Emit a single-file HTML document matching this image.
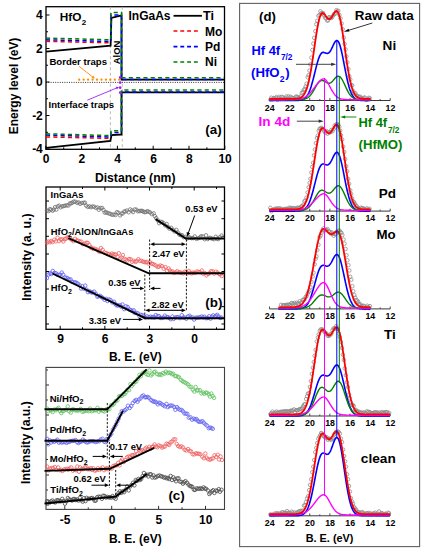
<!DOCTYPE html>
<html><head><meta charset="utf-8"><style>
html,body{margin:0;padding:0;background:#fff;width:426px;height:550px;overflow:hidden}
svg{display:block}
text{font-family:"Liberation Sans", sans-serif;font-weight:bold}
</style></head><body>
<svg width="426" height="550" viewBox="0 0 426 550">
<rect width="426" height="550" fill="#fff"/>
<rect x="46.00" y="6.70" width="178.50" height="142.60" fill="none" stroke="#000" stroke-width="1.3"/>
<line x1="46.00" y1="149.00" x2="49.50" y2="149.00" stroke="#000" stroke-width="1" />
<line x1="46.00" y1="132.25" x2="48.00" y2="132.25" stroke="#000" stroke-width="1" />
<line x1="46.00" y1="115.50" x2="49.50" y2="115.50" stroke="#000" stroke-width="1" />
<line x1="46.00" y1="98.75" x2="48.00" y2="98.75" stroke="#000" stroke-width="1" />
<line x1="46.00" y1="82.00" x2="49.50" y2="82.00" stroke="#000" stroke-width="1" />
<line x1="46.00" y1="65.25" x2="48.00" y2="65.25" stroke="#000" stroke-width="1" />
<line x1="46.00" y1="48.50" x2="49.50" y2="48.50" stroke="#000" stroke-width="1" />
<line x1="46.00" y1="31.75" x2="48.00" y2="31.75" stroke="#000" stroke-width="1" />
<line x1="46.00" y1="15.00" x2="49.50" y2="15.00" stroke="#000" stroke-width="1" />
<line x1="45.80" y1="149.30" x2="45.80" y2="145.80" stroke="#000" stroke-width="1" />
<line x1="63.70" y1="149.30" x2="63.70" y2="147.30" stroke="#000" stroke-width="1" />
<line x1="81.60" y1="149.30" x2="81.60" y2="145.80" stroke="#000" stroke-width="1" />
<line x1="99.50" y1="149.30" x2="99.50" y2="147.30" stroke="#000" stroke-width="1" />
<line x1="117.40" y1="149.30" x2="117.40" y2="145.80" stroke="#000" stroke-width="1" />
<line x1="135.30" y1="149.30" x2="135.30" y2="147.30" stroke="#000" stroke-width="1" />
<line x1="153.20" y1="149.30" x2="153.20" y2="145.80" stroke="#000" stroke-width="1" />
<line x1="171.10" y1="149.30" x2="171.10" y2="147.30" stroke="#000" stroke-width="1" />
<line x1="189.00" y1="149.30" x2="189.00" y2="145.80" stroke="#000" stroke-width="1" />
<line x1="206.90" y1="149.30" x2="206.90" y2="147.30" stroke="#000" stroke-width="1" />
<line x1="224.80" y1="149.30" x2="224.80" y2="145.80" stroke="#000" stroke-width="1" />
<text x="42.80" y="19.10" font-size="12" fill="#000" text-anchor="end" >4</text>
<text x="42.80" y="52.60" font-size="12" fill="#000" text-anchor="end" >2</text>
<text x="42.80" y="86.10" font-size="12" fill="#000" text-anchor="end" >0</text>
<text x="42.80" y="119.60" font-size="12" fill="#000" text-anchor="end" >-2</text>
<text x="42.80" y="153.10" font-size="12" fill="#000" text-anchor="end" >-4</text>
<text x="46.10" y="162.80" font-size="12" fill="#000" text-anchor="middle" >0</text>
<text x="81.90" y="162.80" font-size="12" fill="#000" text-anchor="middle" >2</text>
<text x="117.70" y="162.80" font-size="12" fill="#000" text-anchor="middle" >4</text>
<text x="153.50" y="162.80" font-size="12" fill="#000" text-anchor="middle" >6</text>
<text x="189.30" y="162.80" font-size="12" fill="#000" text-anchor="middle" >8</text>
<text x="225.10" y="162.80" font-size="12" fill="#000" text-anchor="middle" >10</text>
<text x="135.20" y="182.40" font-size="12.2" fill="#000" text-anchor="middle" >Distance (nm)</text>
<text x="0.00" y="0.00" font-size="12" fill="#000" text-anchor="middle" transform="translate(18.3,86) rotate(-90)">Energy level (eV)</text>
<line x1="110.40" y1="6.70" x2="110.40" y2="149.30" stroke="#aaa" stroke-width="0.8" stroke-dasharray="3,2.5"/>
<line x1="122.30" y1="6.70" x2="122.30" y2="149.30" stroke="#aaa" stroke-width="0.8" stroke-dasharray="3,2.5"/>
<line x1="46.00" y1="82.40" x2="224.50" y2="82.40" stroke="#000" stroke-width="0.8" stroke-dasharray="1,1.3"/>
<path d="M46.00,51.60 L110.60,45.70 L111.40,18.00 L120.50,15.60 L121.50,15.60 L121.50,79.70 L224.00,79.70" fill="none" stroke="#000" stroke-width="1.8" />
<path d="M46.00,147.80 L110.40,141.00 L111.50,135.20 L120.80,134.50 L121.50,134.50 L121.50,92.40 L224.00,92.40" fill="none" stroke="#000" stroke-width="1.8" />
<path d="M46.00,41.30 L111.00,42.80" fill="none" stroke="#ff0000" stroke-width="1.5" stroke-dasharray="4.1,3.2"/>
<path d="M46.00,136.90 L111.00,138.40" fill="none" stroke="#ff0000" stroke-width="1.5" stroke-dasharray="4.1,3.2"/>
<path d="M46.00,39.80 L111.00,41.50 L111.00,15.00 L121.50,15.00 L121.50,79.60 L224.00,79.60" fill="none" stroke="#0000ff" stroke-width="1.5" stroke-dasharray="4.1,3.2"/>
<path d="M46.00,135.10 L111.00,137.00 L111.00,132.50 L121.50,132.50 L121.50,92.00 L224.00,92.00" fill="none" stroke="#0000ff" stroke-width="1.5" stroke-dasharray="4.1,3.2"/>
<path d="M46.00,38.10 L111.00,39.80 L111.00,12.60 L121.50,12.60 L121.50,77.80 L224.00,77.80" fill="none" stroke="#008000" stroke-width="1.5" stroke-dasharray="4.1,3.2"/>
<path d="M46.00,133.80 L111.00,135.60 L111.00,130.70 L121.50,130.70 L121.50,89.90 L224.00,89.90" fill="none" stroke="#008000" stroke-width="1.5" stroke-dasharray="4.1,3.2"/>
<circle cx="79.20" cy="79.7" r="1.15" fill="#ff8c00"/>
<circle cx="83.65" cy="79.7" r="1.15" fill="#ff8c00"/>
<circle cx="88.10" cy="79.7" r="1.15" fill="#ff8c00"/>
<circle cx="92.55" cy="79.7" r="1.15" fill="#ff8c00"/>
<circle cx="97.00" cy="79.7" r="1.15" fill="#ff8c00"/>
<circle cx="101.45" cy="79.7" r="1.15" fill="#ff8c00"/>
<circle cx="105.90" cy="79.7" r="1.15" fill="#ff8c00"/>
<circle cx="110.35" cy="79.7" r="1.15" fill="#ff8c00"/>
<circle cx="114.80" cy="79.7" r="1.15" fill="#ff8c00"/>
<circle cx="119.25" cy="79.7" r="1.15" fill="#ff8c00"/>
<line x1="79.00" y1="66.30" x2="92.91" y2="77.13" stroke="#ff8c00" stroke-width="0.9" />
<path d="M94.80,78.60 L91.51,77.94 L93.35,75.57 Z" fill="#ff8c00"/>
<circle cx="120.2" cy="77.4" r="1.35" fill="#a020f0"/>
<circle cx="120.2" cy="82.6" r="1.35" fill="#a020f0"/>
<circle cx="120.2" cy="87.7" r="1.35" fill="#a020f0"/>
<circle cx="120.2" cy="92.6" r="1.35" fill="#a020f0"/>
<line x1="87.30" y1="100.20" x2="116.78" y2="87.92" stroke="#a020f0" stroke-width="0.9" />
<path d="M119.00,87.00 L116.81,89.54 L115.65,86.77 Z" fill="#a020f0"/>
<text x="49.40" y="64.50" font-size="9.6" fill="#000" text-anchor="start" >Border traps</text>
<text x="48.60" y="107.80" font-size="9.5" fill="#000" text-anchor="start" >Interface traps</text>
<text x="0.00" y="0.00" font-size="9.4" fill="#000" text-anchor="middle" transform="translate(120.4,52.5) rotate(-90)">AlON</text>
<text x="59.80" y="20.60" font-size="11.8" fill="#000" text-anchor="start" >HfO<tspan font-size="8" dx="0.3" dy="4.2">2</tspan></text>
<text x="128.50" y="20.40" font-size="12" fill="#000" text-anchor="start" >InGaAs</text>
<line x1="173.50" y1="15.80" x2="201.90" y2="15.80" stroke="#000" stroke-width="1.8" />
<line x1="173.50" y1="31.00" x2="197.80" y2="31.00" stroke="#ff0000" stroke-width="1.7" stroke-dasharray="3.9,2.9"/>
<line x1="173.50" y1="46.60" x2="197.80" y2="46.60" stroke="#0000ff" stroke-width="1.7" stroke-dasharray="3.9,2.9"/>
<line x1="173.50" y1="62.00" x2="197.80" y2="62.00" stroke="#008000" stroke-width="1.7" stroke-dasharray="3.9,2.9"/>
<text x="203.00" y="20.30" font-size="12.6" fill="#000" text-anchor="start" >Ti</text>
<text x="205.00" y="35.80" font-size="12" fill="#000" text-anchor="start" >Mo</text>
<text x="205.00" y="50.90" font-size="12" fill="#000" text-anchor="start" >Pd</text>
<text x="205.00" y="65.70" font-size="12" fill="#000" text-anchor="start" >Ni</text>
<text x="205.30" y="133.90" font-size="13.4" fill="#000" text-anchor="start" >(a)</text>
<rect x="46.00" y="187.00" width="178.50" height="142.30" fill="none" stroke="#000" stroke-width="1.3"/>
<line x1="60.19" y1="329.30" x2="60.19" y2="325.80" stroke="#000" stroke-width="1" />
<line x1="60.19" y1="187.00" x2="60.19" y2="190.50" stroke="#000" stroke-width="1" />
<line x1="82.52" y1="329.30" x2="82.52" y2="327.30" stroke="#000" stroke-width="1" />
<line x1="82.52" y1="187.00" x2="82.52" y2="189.00" stroke="#000" stroke-width="1" />
<line x1="104.86" y1="329.30" x2="104.86" y2="325.80" stroke="#000" stroke-width="1" />
<line x1="104.86" y1="187.00" x2="104.86" y2="190.50" stroke="#000" stroke-width="1" />
<line x1="127.19" y1="329.30" x2="127.19" y2="327.30" stroke="#000" stroke-width="1" />
<line x1="127.19" y1="187.00" x2="127.19" y2="189.00" stroke="#000" stroke-width="1" />
<line x1="149.53" y1="329.30" x2="149.53" y2="325.80" stroke="#000" stroke-width="1" />
<line x1="149.53" y1="187.00" x2="149.53" y2="190.50" stroke="#000" stroke-width="1" />
<line x1="171.86" y1="329.30" x2="171.86" y2="327.30" stroke="#000" stroke-width="1" />
<line x1="171.86" y1="187.00" x2="171.86" y2="189.00" stroke="#000" stroke-width="1" />
<line x1="194.20" y1="329.30" x2="194.20" y2="325.80" stroke="#000" stroke-width="1" />
<line x1="194.20" y1="187.00" x2="194.20" y2="190.50" stroke="#000" stroke-width="1" />
<line x1="216.53" y1="329.30" x2="216.53" y2="327.30" stroke="#000" stroke-width="1" />
<line x1="216.53" y1="187.00" x2="216.53" y2="189.00" stroke="#000" stroke-width="1" />
<line x1="46.00" y1="201.00" x2="49.00" y2="201.00" stroke="#000" stroke-width="1" />
<line x1="224.50" y1="201.00" x2="221.50" y2="201.00" stroke="#000" stroke-width="1" />
<line x1="46.00" y1="218.70" x2="49.00" y2="218.70" stroke="#000" stroke-width="1" />
<line x1="224.50" y1="218.70" x2="221.50" y2="218.70" stroke="#000" stroke-width="1" />
<line x1="46.00" y1="236.30" x2="49.00" y2="236.30" stroke="#000" stroke-width="1" />
<line x1="224.50" y1="236.30" x2="221.50" y2="236.30" stroke="#000" stroke-width="1" />
<line x1="46.00" y1="254.00" x2="49.00" y2="254.00" stroke="#000" stroke-width="1" />
<line x1="224.50" y1="254.00" x2="221.50" y2="254.00" stroke="#000" stroke-width="1" />
<line x1="46.00" y1="271.50" x2="49.00" y2="271.50" stroke="#000" stroke-width="1" />
<line x1="224.50" y1="271.50" x2="221.50" y2="271.50" stroke="#000" stroke-width="1" />
<line x1="46.00" y1="289.00" x2="49.00" y2="289.00" stroke="#000" stroke-width="1" />
<line x1="224.50" y1="289.00" x2="221.50" y2="289.00" stroke="#000" stroke-width="1" />
<line x1="46.00" y1="306.60" x2="49.00" y2="306.60" stroke="#000" stroke-width="1" />
<line x1="224.50" y1="306.60" x2="221.50" y2="306.60" stroke="#000" stroke-width="1" />
<line x1="46.00" y1="324.00" x2="49.00" y2="324.00" stroke="#000" stroke-width="1" />
<line x1="224.50" y1="324.00" x2="221.50" y2="324.00" stroke="#000" stroke-width="1" />
<text x="60.49" y="343.00" font-size="12" fill="#000" text-anchor="middle" >9</text>
<text x="105.16" y="343.00" font-size="12" fill="#000" text-anchor="middle" >6</text>
<text x="149.83" y="343.00" font-size="12" fill="#000" text-anchor="middle" >3</text>
<text x="194.50" y="343.00" font-size="12" fill="#000" text-anchor="middle" >0</text>
<text x="135.30" y="361.00" font-size="12" fill="#000" text-anchor="middle" >B. E. (eV)</text>
<text x="0.00" y="0.00" font-size="12.4" fill="#000" text-anchor="middle" transform="translate(30.6,257) rotate(-90)">Intensity (a. u.)</text>
<g fill="none" stroke="#707070" stroke-width="0.8"><circle cx="47.00" cy="210.58" r="1.75"/><circle cx="48.59" cy="211.06" r="1.75"/><circle cx="49.83" cy="209.18" r="1.75"/><circle cx="51.07" cy="209.68" r="1.75"/><circle cx="52.57" cy="210.70" r="1.75"/><circle cx="53.82" cy="209.55" r="1.75"/><circle cx="55.07" cy="207.15" r="1.75"/><circle cx="56.34" cy="209.62" r="1.75"/><circle cx="57.68" cy="206.34" r="1.75"/><circle cx="59.22" cy="205.66" r="1.75"/><circle cx="60.66" cy="207.33" r="1.75"/><circle cx="62.38" cy="206.25" r="1.75"/><circle cx="63.75" cy="206.09" r="1.75"/><circle cx="65.14" cy="205.62" r="1.75"/><circle cx="66.83" cy="205.30" r="1.75"/><circle cx="68.41" cy="205.54" r="1.75"/><circle cx="69.83" cy="203.43" r="1.75"/><circle cx="71.07" cy="203.33" r="1.75"/><circle cx="72.39" cy="202.56" r="1.75"/><circle cx="73.78" cy="201.64" r="1.75"/><circle cx="75.33" cy="201.70" r="1.75"/><circle cx="77.01" cy="202.75" r="1.75"/><circle cx="78.63" cy="202.43" r="1.75"/><circle cx="80.14" cy="203.83" r="1.75"/><circle cx="81.87" cy="202.95" r="1.75"/><circle cx="83.66" cy="202.87" r="1.75"/><circle cx="84.93" cy="202.65" r="1.75"/><circle cx="86.22" cy="205.68" r="1.75"/><circle cx="87.71" cy="206.92" r="1.75"/><circle cx="89.37" cy="206.37" r="1.75"/><circle cx="90.91" cy="207.23" r="1.75"/><circle cx="92.53" cy="206.50" r="1.75"/><circle cx="94.09" cy="206.70" r="1.75"/><circle cx="95.79" cy="207.81" r="1.75"/><circle cx="97.56" cy="207.44" r="1.75"/><circle cx="98.79" cy="209.76" r="1.75"/><circle cx="100.42" cy="207.99" r="1.75"/><circle cx="102.11" cy="207.93" r="1.75"/><circle cx="103.48" cy="209.95" r="1.75"/><circle cx="104.69" cy="212.64" r="1.75"/><circle cx="106.17" cy="212.29" r="1.75"/><circle cx="107.41" cy="212.88" r="1.75"/><circle cx="109.07" cy="213.49" r="1.75"/><circle cx="110.50" cy="213.96" r="1.75"/><circle cx="112.22" cy="214.81" r="1.75"/><circle cx="113.75" cy="214.48" r="1.75"/><circle cx="115.48" cy="214.99" r="1.75"/><circle cx="116.85" cy="212.20" r="1.75"/><circle cx="118.30" cy="212.76" r="1.75"/><circle cx="120.07" cy="215.40" r="1.75"/><circle cx="121.37" cy="213.58" r="1.75"/><circle cx="122.71" cy="213.50" r="1.75"/><circle cx="124.20" cy="211.58" r="1.75"/><circle cx="125.40" cy="211.47" r="1.75"/><circle cx="126.85" cy="210.55" r="1.75"/><circle cx="128.62" cy="212.25" r="1.75"/><circle cx="130.24" cy="209.41" r="1.75"/><circle cx="131.84" cy="210.50" r="1.75"/><circle cx="133.07" cy="212.05" r="1.75"/><circle cx="134.80" cy="209.40" r="1.75"/><circle cx="136.48" cy="209.70" r="1.75"/><circle cx="137.74" cy="211.28" r="1.75"/><circle cx="139.32" cy="211.03" r="1.75"/><circle cx="140.65" cy="210.97" r="1.75"/><circle cx="141.94" cy="210.78" r="1.75"/><circle cx="143.14" cy="211.43" r="1.75"/><circle cx="144.43" cy="212.12" r="1.75"/><circle cx="145.65" cy="212.06" r="1.75"/><circle cx="147.37" cy="211.18" r="1.75"/><circle cx="148.73" cy="211.75" r="1.75"/><circle cx="150.13" cy="212.48" r="1.75"/><circle cx="151.84" cy="214.12" r="1.75"/><circle cx="153.64" cy="213.34" r="1.75"/><circle cx="154.89" cy="216.18" r="1.75"/><circle cx="156.15" cy="218.12" r="1.75"/><circle cx="157.85" cy="220.39" r="1.75"/><circle cx="159.15" cy="223.17" r="1.75"/><circle cx="160.66" cy="221.85" r="1.75"/><circle cx="161.95" cy="222.03" r="1.75"/><circle cx="163.47" cy="223.17" r="1.75"/><circle cx="165.25" cy="225.48" r="1.75"/><circle cx="166.61" cy="223.94" r="1.75"/><circle cx="168.03" cy="227.07" r="1.75"/><circle cx="169.55" cy="228.73" r="1.75"/><circle cx="171.22" cy="227.78" r="1.75"/><circle cx="172.91" cy="229.91" r="1.75"/><circle cx="174.70" cy="231.56" r="1.75"/><circle cx="176.39" cy="229.84" r="1.75"/><circle cx="178.03" cy="232.67" r="1.75"/><circle cx="179.44" cy="234.68" r="1.75"/><circle cx="180.66" cy="235.02" r="1.75"/><circle cx="182.02" cy="235.16" r="1.75"/><circle cx="183.63" cy="237.18" r="1.75"/><circle cx="185.40" cy="236.82" r="1.75"/><circle cx="187.19" cy="238.41" r="1.75"/><circle cx="188.52" cy="237.12" r="1.75"/><circle cx="189.86" cy="237.67" r="1.75"/><circle cx="191.43" cy="238.13" r="1.75"/><circle cx="193.17" cy="238.12" r="1.75"/><circle cx="194.76" cy="236.39" r="1.75"/><circle cx="196.44" cy="238.85" r="1.75"/><circle cx="198.19" cy="238.29" r="1.75"/><circle cx="199.86" cy="237.48" r="1.75"/><circle cx="201.16" cy="236.23" r="1.75"/><circle cx="202.84" cy="236.51" r="1.75"/><circle cx="204.62" cy="239.22" r="1.75"/><circle cx="206.06" cy="235.34" r="1.75"/><circle cx="207.69" cy="239.07" r="1.75"/><circle cx="209.00" cy="237.96" r="1.75"/><circle cx="210.74" cy="237.99" r="1.75"/><circle cx="212.42" cy="238.79" r="1.75"/><circle cx="214.21" cy="239.19" r="1.75"/><circle cx="215.81" cy="236.74" r="1.75"/><circle cx="217.08" cy="238.69" r="1.75"/><circle cx="218.29" cy="239.14" r="1.75"/><circle cx="219.81" cy="237.29" r="1.75"/><circle cx="221.57" cy="235.55" r="1.75"/></g>
<path d="M155.60,219.10 L185.80,238.50 L225.00,238.50" fill="none" stroke="#000" stroke-width="1.9" />
<g fill="none" stroke="#f06060" stroke-width="0.8"><circle cx="47.00" cy="242.72" r="1.75"/><circle cx="48.33" cy="241.52" r="1.75"/><circle cx="49.67" cy="242.32" r="1.75"/><circle cx="51.22" cy="241.00" r="1.75"/><circle cx="52.50" cy="242.12" r="1.75"/><circle cx="54.25" cy="239.78" r="1.75"/><circle cx="55.80" cy="241.40" r="1.75"/><circle cx="57.54" cy="237.72" r="1.75"/><circle cx="59.04" cy="241.15" r="1.75"/><circle cx="60.56" cy="239.42" r="1.75"/><circle cx="62.02" cy="239.41" r="1.75"/><circle cx="63.33" cy="241.40" r="1.75"/><circle cx="64.64" cy="239.12" r="1.75"/><circle cx="66.12" cy="238.62" r="1.75"/><circle cx="67.52" cy="237.27" r="1.75"/><circle cx="69.03" cy="237.18" r="1.75"/><circle cx="70.29" cy="238.75" r="1.75"/><circle cx="71.83" cy="239.85" r="1.75"/><circle cx="73.49" cy="241.22" r="1.75"/><circle cx="75.00" cy="238.75" r="1.75"/><circle cx="76.74" cy="240.46" r="1.75"/><circle cx="78.21" cy="240.74" r="1.75"/><circle cx="79.72" cy="241.50" r="1.75"/><circle cx="81.33" cy="241.67" r="1.75"/><circle cx="82.82" cy="244.12" r="1.75"/><circle cx="84.58" cy="243.63" r="1.75"/><circle cx="86.35" cy="242.79" r="1.75"/><circle cx="87.71" cy="242.89" r="1.75"/><circle cx="89.41" cy="245.09" r="1.75"/><circle cx="90.69" cy="247.50" r="1.75"/><circle cx="91.93" cy="247.88" r="1.75"/><circle cx="93.28" cy="249.03" r="1.75"/><circle cx="94.95" cy="248.78" r="1.75"/><circle cx="96.69" cy="249.64" r="1.75"/><circle cx="98.28" cy="250.67" r="1.75"/><circle cx="99.57" cy="251.91" r="1.75"/><circle cx="100.90" cy="248.03" r="1.75"/><circle cx="102.67" cy="249.76" r="1.75"/><circle cx="104.47" cy="252.45" r="1.75"/><circle cx="106.17" cy="253.01" r="1.75"/><circle cx="107.68" cy="254.05" r="1.75"/><circle cx="109.08" cy="253.90" r="1.75"/><circle cx="110.71" cy="255.22" r="1.75"/><circle cx="111.92" cy="253.46" r="1.75"/><circle cx="113.14" cy="254.54" r="1.75"/><circle cx="114.53" cy="254.29" r="1.75"/><circle cx="115.77" cy="254.61" r="1.75"/><circle cx="117.56" cy="256.82" r="1.75"/><circle cx="118.83" cy="253.25" r="1.75"/><circle cx="120.19" cy="258.72" r="1.75"/><circle cx="121.55" cy="257.54" r="1.75"/><circle cx="122.83" cy="255.01" r="1.75"/><circle cx="124.52" cy="258.99" r="1.75"/><circle cx="125.87" cy="259.62" r="1.75"/><circle cx="127.41" cy="260.53" r="1.75"/><circle cx="129.04" cy="259.05" r="1.75"/><circle cx="130.65" cy="259.23" r="1.75"/><circle cx="132.10" cy="261.81" r="1.75"/><circle cx="133.68" cy="260.78" r="1.75"/><circle cx="135.36" cy="261.86" r="1.75"/><circle cx="136.60" cy="261.22" r="1.75"/><circle cx="138.32" cy="259.28" r="1.75"/><circle cx="139.85" cy="260.90" r="1.75"/><circle cx="141.61" cy="260.82" r="1.75"/><circle cx="143.13" cy="261.78" r="1.75"/><circle cx="144.47" cy="262.06" r="1.75"/><circle cx="145.70" cy="262.32" r="1.75"/><circle cx="147.02" cy="261.87" r="1.75"/><circle cx="148.68" cy="263.69" r="1.75"/><circle cx="150.05" cy="262.39" r="1.75"/><circle cx="151.46" cy="263.55" r="1.75"/><circle cx="152.67" cy="263.93" r="1.75"/><circle cx="154.31" cy="264.73" r="1.75"/><circle cx="155.84" cy="265.57" r="1.75"/><circle cx="157.60" cy="266.96" r="1.75"/><circle cx="158.86" cy="266.68" r="1.75"/><circle cx="160.36" cy="265.52" r="1.75"/><circle cx="162.06" cy="266.17" r="1.75"/><circle cx="163.68" cy="268.74" r="1.75"/><circle cx="165.46" cy="267.15" r="1.75"/><circle cx="167.09" cy="270.79" r="1.75"/><circle cx="168.67" cy="268.47" r="1.75"/><circle cx="169.90" cy="270.39" r="1.75"/><circle cx="171.18" cy="271.93" r="1.75"/><circle cx="172.53" cy="271.41" r="1.75"/><circle cx="173.83" cy="272.95" r="1.75"/><circle cx="175.55" cy="272.44" r="1.75"/><circle cx="177.16" cy="271.23" r="1.75"/><circle cx="178.53" cy="272.40" r="1.75"/><circle cx="180.01" cy="272.36" r="1.75"/><circle cx="181.37" cy="272.85" r="1.75"/><circle cx="183.14" cy="273.39" r="1.75"/><circle cx="184.49" cy="271.75" r="1.75"/><circle cx="186.27" cy="271.75" r="1.75"/><circle cx="187.47" cy="273.31" r="1.75"/><circle cx="188.90" cy="270.94" r="1.75"/><circle cx="190.22" cy="272.62" r="1.75"/><circle cx="191.72" cy="273.41" r="1.75"/><circle cx="192.98" cy="272.55" r="1.75"/><circle cx="194.42" cy="272.84" r="1.75"/><circle cx="195.80" cy="272.72" r="1.75"/><circle cx="197.14" cy="271.44" r="1.75"/><circle cx="198.79" cy="272.03" r="1.75"/><circle cx="200.38" cy="272.33" r="1.75"/><circle cx="201.82" cy="270.51" r="1.75"/><circle cx="203.21" cy="273.66" r="1.75"/><circle cx="204.85" cy="273.02" r="1.75"/><circle cx="206.43" cy="275.38" r="1.75"/><circle cx="208.17" cy="273.92" r="1.75"/><circle cx="209.74" cy="273.18" r="1.75"/><circle cx="211.03" cy="271.30" r="1.75"/><circle cx="212.54" cy="271.31" r="1.75"/><circle cx="214.22" cy="273.63" r="1.75"/><circle cx="215.92" cy="271.61" r="1.75"/><circle cx="217.53" cy="272.63" r="1.75"/><circle cx="219.15" cy="274.05" r="1.75"/><circle cx="220.43" cy="274.40" r="1.75"/><circle cx="221.84" cy="275.99" r="1.75"/></g>
<path d="M68.30,238.10 L148.80,273.30 L225.00,273.30" fill="none" stroke="#000" stroke-width="1.9" />
<g fill="none" stroke="#6060f0" stroke-width="0.8"><circle cx="47.00" cy="278.03" r="1.75"/><circle cx="48.58" cy="274.39" r="1.75"/><circle cx="50.07" cy="273.25" r="1.75"/><circle cx="51.27" cy="274.06" r="1.75"/><circle cx="52.77" cy="270.94" r="1.75"/><circle cx="54.30" cy="272.91" r="1.75"/><circle cx="55.94" cy="273.28" r="1.75"/><circle cx="57.29" cy="274.80" r="1.75"/><circle cx="58.93" cy="274.90" r="1.75"/><circle cx="60.25" cy="274.71" r="1.75"/><circle cx="61.75" cy="272.56" r="1.75"/><circle cx="63.18" cy="274.67" r="1.75"/><circle cx="64.84" cy="277.44" r="1.75"/><circle cx="66.41" cy="277.79" r="1.75"/><circle cx="67.69" cy="278.42" r="1.75"/><circle cx="69.05" cy="279.45" r="1.75"/><circle cx="70.59" cy="279.39" r="1.75"/><circle cx="71.79" cy="281.78" r="1.75"/><circle cx="73.40" cy="282.16" r="1.75"/><circle cx="75.01" cy="282.30" r="1.75"/><circle cx="76.52" cy="282.71" r="1.75"/><circle cx="78.00" cy="283.78" r="1.75"/><circle cx="79.74" cy="285.38" r="1.75"/><circle cx="81.06" cy="288.53" r="1.75"/><circle cx="82.27" cy="286.27" r="1.75"/><circle cx="83.74" cy="288.65" r="1.75"/><circle cx="85.21" cy="285.60" r="1.75"/><circle cx="86.57" cy="289.60" r="1.75"/><circle cx="87.90" cy="292.17" r="1.75"/><circle cx="89.45" cy="291.23" r="1.75"/><circle cx="91.22" cy="292.31" r="1.75"/><circle cx="92.50" cy="292.48" r="1.75"/><circle cx="94.23" cy="291.60" r="1.75"/><circle cx="95.85" cy="293.87" r="1.75"/><circle cx="97.35" cy="296.68" r="1.75"/><circle cx="98.56" cy="296.24" r="1.75"/><circle cx="100.03" cy="295.73" r="1.75"/><circle cx="101.41" cy="297.03" r="1.75"/><circle cx="102.80" cy="297.87" r="1.75"/><circle cx="104.51" cy="299.78" r="1.75"/><circle cx="106.21" cy="298.82" r="1.75"/><circle cx="107.48" cy="300.99" r="1.75"/><circle cx="109.22" cy="299.47" r="1.75"/><circle cx="110.60" cy="300.12" r="1.75"/><circle cx="112.40" cy="302.51" r="1.75"/><circle cx="113.95" cy="301.70" r="1.75"/><circle cx="115.32" cy="303.97" r="1.75"/><circle cx="116.54" cy="305.32" r="1.75"/><circle cx="117.92" cy="305.53" r="1.75"/><circle cx="119.68" cy="305.11" r="1.75"/><circle cx="121.18" cy="306.67" r="1.75"/><circle cx="122.50" cy="304.49" r="1.75"/><circle cx="124.23" cy="309.18" r="1.75"/><circle cx="125.91" cy="306.34" r="1.75"/><circle cx="127.68" cy="307.04" r="1.75"/><circle cx="129.21" cy="309.49" r="1.75"/><circle cx="130.85" cy="310.04" r="1.75"/><circle cx="132.32" cy="311.15" r="1.75"/><circle cx="133.69" cy="310.24" r="1.75"/><circle cx="134.92" cy="312.95" r="1.75"/><circle cx="136.40" cy="312.93" r="1.75"/><circle cx="137.81" cy="313.36" r="1.75"/><circle cx="139.60" cy="316.52" r="1.75"/><circle cx="140.95" cy="314.83" r="1.75"/><circle cx="142.49" cy="315.14" r="1.75"/><circle cx="143.92" cy="316.76" r="1.75"/><circle cx="145.25" cy="317.49" r="1.75"/><circle cx="146.99" cy="316.42" r="1.75"/><circle cx="148.73" cy="317.21" r="1.75"/><circle cx="150.53" cy="316.63" r="1.75"/><circle cx="151.85" cy="317.39" r="1.75"/><circle cx="153.10" cy="316.94" r="1.75"/><circle cx="154.45" cy="317.60" r="1.75"/><circle cx="155.80" cy="315.12" r="1.75"/><circle cx="157.45" cy="316.23" r="1.75"/><circle cx="158.90" cy="316.05" r="1.75"/><circle cx="160.32" cy="317.89" r="1.75"/><circle cx="161.73" cy="318.01" r="1.75"/><circle cx="163.51" cy="317.53" r="1.75"/><circle cx="164.78" cy="315.63" r="1.75"/><circle cx="166.50" cy="317.15" r="1.75"/><circle cx="167.83" cy="317.07" r="1.75"/><circle cx="169.27" cy="317.99" r="1.75"/><circle cx="170.74" cy="319.21" r="1.75"/><circle cx="172.46" cy="316.55" r="1.75"/><circle cx="173.67" cy="318.85" r="1.75"/><circle cx="175.41" cy="317.50" r="1.75"/><circle cx="176.90" cy="317.13" r="1.75"/><circle cx="178.33" cy="317.13" r="1.75"/><circle cx="180.09" cy="318.12" r="1.75"/><circle cx="181.87" cy="315.21" r="1.75"/><circle cx="183.22" cy="317.62" r="1.75"/><circle cx="184.73" cy="317.52" r="1.75"/><circle cx="186.34" cy="318.76" r="1.75"/><circle cx="187.93" cy="316.48" r="1.75"/><circle cx="189.59" cy="315.76" r="1.75"/><circle cx="190.81" cy="317.47" r="1.75"/><circle cx="192.48" cy="317.37" r="1.75"/><circle cx="194.07" cy="319.55" r="1.75"/><circle cx="195.45" cy="317.67" r="1.75"/><circle cx="197.03" cy="317.68" r="1.75"/><circle cx="198.65" cy="317.40" r="1.75"/><circle cx="200.17" cy="317.34" r="1.75"/><circle cx="201.72" cy="316.47" r="1.75"/><circle cx="203.28" cy="317.57" r="1.75"/><circle cx="204.48" cy="316.67" r="1.75"/><circle cx="206.26" cy="318.21" r="1.75"/><circle cx="207.85" cy="317.98" r="1.75"/><circle cx="209.19" cy="316.21" r="1.75"/><circle cx="210.54" cy="318.70" r="1.75"/><circle cx="211.92" cy="316.61" r="1.75"/><circle cx="213.13" cy="315.38" r="1.75"/><circle cx="214.59" cy="317.04" r="1.75"/><circle cx="215.94" cy="315.78" r="1.75"/><circle cx="217.28" cy="314.84" r="1.75"/><circle cx="218.50" cy="316.41" r="1.75"/><circle cx="220.11" cy="317.98" r="1.75"/><circle cx="221.42" cy="317.53" r="1.75"/></g>
<path d="M52.50,273.50 L145.20,318.20 L225.00,318.20" fill="none" stroke="#000" stroke-width="1.9" />
<line x1="149.60" y1="239.50" x2="149.60" y2="290.00" stroke="#000" stroke-width="0.9" stroke-dasharray="2.2,1.6"/>
<line x1="186.40" y1="239.50" x2="186.40" y2="311.00" stroke="#000" stroke-width="0.9" stroke-dasharray="2.2,1.6"/>
<line x1="144.80" y1="274.50" x2="144.80" y2="318.00" stroke="#000" stroke-width="0.9" stroke-dasharray="2.2,1.6"/>
<line x1="168.00" y1="244.20" x2="153.56" y2="244.20" stroke="#000" stroke-width="1.1" />
<path d="M150.20,244.20 L154.40,242.30 L154.40,246.10 Z" fill="#000"/>
<line x1="168.00" y1="244.20" x2="182.44" y2="244.20" stroke="#000" stroke-width="1.1" />
<path d="M185.80,244.20 L181.60,246.10 L181.60,242.30 Z" fill="#000"/>
<line x1="165.00" y1="310.30" x2="148.66" y2="310.30" stroke="#000" stroke-width="1.1" />
<path d="M145.30,310.30 L149.50,308.40 L149.50,312.20 Z" fill="#000"/>
<line x1="165.00" y1="310.30" x2="182.44" y2="310.30" stroke="#000" stroke-width="1.1" />
<path d="M185.80,310.30 L181.60,312.20 L181.60,308.40 Z" fill="#000"/>
<line x1="131.50" y1="288.40" x2="140.94" y2="288.40" stroke="#000" stroke-width="1.0" />
<path d="M144.30,288.40 L140.10,290.30 L140.10,286.50 Z" fill="#000"/>
<line x1="160.50" y1="288.40" x2="153.46" y2="288.40" stroke="#000" stroke-width="1.0" />
<path d="M150.10,288.40 L154.30,286.50 L154.30,290.30 Z" fill="#000"/>
<line x1="122.90" y1="319.40" x2="139.64" y2="319.40" stroke="#000" stroke-width="1.0" />
<path d="M143.00,319.40 L138.80,321.30 L138.80,317.50 Z" fill="#000"/>
<line x1="194.70" y1="215.50" x2="188.15" y2="233.44" stroke="#000" stroke-width="1.0" />
<path d="M187.00,236.60 L186.65,232.00 L190.22,233.31 Z" fill="#000"/>
<text x="50.60" y="198.10" font-size="9.4" fill="#000" text-anchor="start" >InGaAs</text>
<text x="50.80" y="234.60" font-size="9.4" fill="#000" text-anchor="start" >HfO<tspan font-size="7" dy="2.6">2</tspan><tspan dy="-2.6">/AlON/InGaAs</tspan></text>
<text x="50.80" y="291.10" font-size="9.4" fill="#000" text-anchor="start" >HfO<tspan font-size="7" dy="2.6">2</tspan></text>
<text x="185.30" y="211.80" font-size="9.4" fill="#000" text-anchor="start" >0.53 eV</text>
<text x="152.30" y="256.80" font-size="9.4" fill="#000" text-anchor="start" >2.47 eV</text>
<text x="108.30" y="285.80" font-size="9.4" fill="#000" text-anchor="start" >0.35 eV</text>
<text x="151.50" y="307.50" font-size="9.4" fill="#000" text-anchor="start" >2.82 eV</text>
<text x="88.80" y="324.30" font-size="9.4" fill="#000" text-anchor="start" >3.35 eV</text>
<text x="205.30" y="307.40" font-size="13.4" fill="#000" text-anchor="start" >(b)</text>
<rect x="46.00" y="367.40" width="178.50" height="142.00" fill="none" stroke="#404040" stroke-width="1.1"/>
<line x1="64.80" y1="509.40" x2="64.80" y2="505.90" stroke="#303030" stroke-width="1" />
<line x1="88.25" y1="509.40" x2="88.25" y2="507.40" stroke="#303030" stroke-width="1" />
<line x1="111.70" y1="509.40" x2="111.70" y2="505.90" stroke="#303030" stroke-width="1" />
<line x1="135.15" y1="509.40" x2="135.15" y2="507.40" stroke="#303030" stroke-width="1" />
<line x1="158.60" y1="509.40" x2="158.60" y2="505.90" stroke="#303030" stroke-width="1" />
<line x1="182.05" y1="509.40" x2="182.05" y2="507.40" stroke="#303030" stroke-width="1" />
<line x1="205.50" y1="509.40" x2="205.50" y2="505.90" stroke="#303030" stroke-width="1" />
<line x1="46.00" y1="370.00" x2="48.00" y2="370.00" stroke="#303030" stroke-width="1" />
<line x1="46.00" y1="385.00" x2="49.00" y2="385.00" stroke="#303030" stroke-width="1" />
<line x1="46.00" y1="400.00" x2="48.00" y2="400.00" stroke="#303030" stroke-width="1" />
<line x1="46.00" y1="415.00" x2="49.00" y2="415.00" stroke="#303030" stroke-width="1" />
<line x1="46.00" y1="430.00" x2="48.00" y2="430.00" stroke="#303030" stroke-width="1" />
<line x1="46.00" y1="444.50" x2="49.00" y2="444.50" stroke="#303030" stroke-width="1" />
<line x1="46.00" y1="459.50" x2="48.00" y2="459.50" stroke="#303030" stroke-width="1" />
<line x1="46.00" y1="475.00" x2="49.00" y2="475.00" stroke="#303030" stroke-width="1" />
<line x1="46.00" y1="490.00" x2="48.00" y2="490.00" stroke="#303030" stroke-width="1" />
<line x1="46.00" y1="505.00" x2="49.00" y2="505.00" stroke="#303030" stroke-width="1" />
<text x="65.10" y="523.60" font-size="12" fill="#000" text-anchor="middle" >-5</text>
<text x="112.00" y="523.60" font-size="12" fill="#000" text-anchor="middle" >0</text>
<text x="158.90" y="523.60" font-size="12" fill="#000" text-anchor="middle" >5</text>
<text x="205.80" y="523.60" font-size="12" fill="#000" text-anchor="middle" >10</text>
<text x="135.30" y="543.40" font-size="12" fill="#000" text-anchor="middle" >B. E. (eV)</text>
<text x="0.00" y="0.00" font-size="12.2" fill="#000" text-anchor="middle" transform="translate(30.2,442.6) rotate(-90)">Intensity (a.u.)</text>
<g fill="none" stroke="#60c060" stroke-width="0.8"><circle cx="47.00" cy="408.47" r="1.75"/><circle cx="48.32" cy="411.13" r="1.75"/><circle cx="50.02" cy="410.02" r="1.75"/><circle cx="51.35" cy="410.53" r="1.75"/><circle cx="52.73" cy="412.03" r="1.75"/><circle cx="54.50" cy="409.49" r="1.75"/><circle cx="55.84" cy="410.22" r="1.75"/><circle cx="57.29" cy="408.84" r="1.75"/><circle cx="58.57" cy="407.89" r="1.75"/><circle cx="60.01" cy="410.89" r="1.75"/><circle cx="61.29" cy="413.09" r="1.75"/><circle cx="62.53" cy="411.22" r="1.75"/><circle cx="64.27" cy="410.61" r="1.75"/><circle cx="66.00" cy="409.79" r="1.75"/><circle cx="67.75" cy="406.41" r="1.75"/><circle cx="69.15" cy="411.22" r="1.75"/><circle cx="70.80" cy="412.57" r="1.75"/><circle cx="72.02" cy="409.65" r="1.75"/><circle cx="73.44" cy="409.28" r="1.75"/><circle cx="74.84" cy="410.24" r="1.75"/><circle cx="76.21" cy="410.27" r="1.75"/><circle cx="77.62" cy="410.74" r="1.75"/><circle cx="79.40" cy="410.04" r="1.75"/><circle cx="80.72" cy="408.93" r="1.75"/><circle cx="82.42" cy="411.80" r="1.75"/><circle cx="83.88" cy="411.39" r="1.75"/><circle cx="85.30" cy="410.58" r="1.75"/><circle cx="87.05" cy="410.57" r="1.75"/><circle cx="88.79" cy="411.18" r="1.75"/><circle cx="90.01" cy="408.50" r="1.75"/><circle cx="91.67" cy="411.27" r="1.75"/><circle cx="92.89" cy="410.59" r="1.75"/><circle cx="94.64" cy="410.29" r="1.75"/><circle cx="96.00" cy="410.16" r="1.75"/><circle cx="97.40" cy="407.85" r="1.75"/><circle cx="98.77" cy="411.67" r="1.75"/><circle cx="100.12" cy="409.80" r="1.75"/><circle cx="101.75" cy="409.84" r="1.75"/><circle cx="102.96" cy="411.01" r="1.75"/><circle cx="104.61" cy="411.55" r="1.75"/><circle cx="106.37" cy="409.42" r="1.75"/><circle cx="107.59" cy="409.73" r="1.75"/><circle cx="109.36" cy="409.03" r="1.75"/><circle cx="111.14" cy="405.35" r="1.75"/><circle cx="112.59" cy="405.05" r="1.75"/><circle cx="114.09" cy="403.61" r="1.75"/><circle cx="115.77" cy="400.96" r="1.75"/><circle cx="117.41" cy="400.42" r="1.75"/><circle cx="118.98" cy="396.30" r="1.75"/><circle cx="120.38" cy="396.13" r="1.75"/><circle cx="122.04" cy="395.82" r="1.75"/><circle cx="123.29" cy="394.20" r="1.75"/><circle cx="124.64" cy="393.97" r="1.75"/><circle cx="125.88" cy="392.33" r="1.75"/><circle cx="127.27" cy="389.84" r="1.75"/><circle cx="129.06" cy="390.15" r="1.75"/><circle cx="130.42" cy="384.15" r="1.75"/><circle cx="131.67" cy="386.12" r="1.75"/><circle cx="133.30" cy="384.14" r="1.75"/><circle cx="134.77" cy="382.02" r="1.75"/><circle cx="136.34" cy="381.44" r="1.75"/><circle cx="137.94" cy="378.64" r="1.75"/><circle cx="139.54" cy="374.91" r="1.75"/><circle cx="140.81" cy="376.24" r="1.75"/><circle cx="142.35" cy="373.40" r="1.75"/><circle cx="143.78" cy="372.67" r="1.75"/><circle cx="145.13" cy="371.91" r="1.75"/><circle cx="146.47" cy="374.11" r="1.75"/><circle cx="148.02" cy="374.88" r="1.75"/><circle cx="149.42" cy="370.45" r="1.75"/><circle cx="150.92" cy="375.45" r="1.75"/><circle cx="152.26" cy="374.09" r="1.75"/><circle cx="154.05" cy="372.13" r="1.75"/><circle cx="155.32" cy="371.70" r="1.75"/><circle cx="157.02" cy="374.13" r="1.75"/><circle cx="158.77" cy="374.81" r="1.75"/><circle cx="160.04" cy="374.22" r="1.75"/><circle cx="161.35" cy="375.10" r="1.75"/><circle cx="163.11" cy="372.98" r="1.75"/><circle cx="164.54" cy="373.67" r="1.75"/><circle cx="165.89" cy="371.63" r="1.75"/><circle cx="167.56" cy="373.08" r="1.75"/><circle cx="169.12" cy="372.51" r="1.75"/><circle cx="170.69" cy="372.99" r="1.75"/><circle cx="171.97" cy="374.26" r="1.75"/><circle cx="173.29" cy="373.76" r="1.75"/><circle cx="174.89" cy="376.00" r="1.75"/><circle cx="176.21" cy="376.16" r="1.75"/><circle cx="177.81" cy="376.66" r="1.75"/><circle cx="179.13" cy="377.45" r="1.75"/><circle cx="180.80" cy="379.89" r="1.75"/><circle cx="182.33" cy="381.01" r="1.75"/><circle cx="183.77" cy="381.99" r="1.75"/><circle cx="185.30" cy="382.67" r="1.75"/><circle cx="186.60" cy="383.58" r="1.75"/><circle cx="188.21" cy="384.40" r="1.75"/><circle cx="189.60" cy="386.68" r="1.75"/><circle cx="191.37" cy="386.99" r="1.75"/><circle cx="192.79" cy="389.71" r="1.75"/><circle cx="194.24" cy="391.56" r="1.75"/><circle cx="195.65" cy="387.03" r="1.75"/><circle cx="196.97" cy="390.38" r="1.75"/><circle cx="198.18" cy="390.35" r="1.75"/><circle cx="199.92" cy="390.15" r="1.75"/><circle cx="201.36" cy="393.45" r="1.75"/><circle cx="203.09" cy="392.52" r="1.75"/><circle cx="204.30" cy="393.77" r="1.75"/><circle cx="205.83" cy="392.66" r="1.75"/><circle cx="207.08" cy="392.79" r="1.75"/><circle cx="208.66" cy="394.31" r="1.75"/><circle cx="209.94" cy="396.55" r="1.75"/><circle cx="211.31" cy="393.55" r="1.75"/><circle cx="212.58" cy="396.10" r="1.75"/><circle cx="214.07" cy="397.87" r="1.75"/></g>
<path d="M44.50,409.30 L107.20,409.30 L146.70,369.40" fill="none" stroke="#000" stroke-width="1.9" />
<g fill="none" stroke="#6060f0" stroke-width="0.8"><circle cx="47.00" cy="438.80" r="1.75"/><circle cx="48.28" cy="444.31" r="1.75"/><circle cx="49.77" cy="440.45" r="1.75"/><circle cx="51.00" cy="442.47" r="1.75"/><circle cx="52.74" cy="441.01" r="1.75"/><circle cx="54.31" cy="441.79" r="1.75"/><circle cx="55.98" cy="440.92" r="1.75"/><circle cx="57.32" cy="439.74" r="1.75"/><circle cx="59.01" cy="442.70" r="1.75"/><circle cx="60.32" cy="441.72" r="1.75"/><circle cx="61.84" cy="442.59" r="1.75"/><circle cx="63.27" cy="442.09" r="1.75"/><circle cx="64.90" cy="442.08" r="1.75"/><circle cx="66.64" cy="442.87" r="1.75"/><circle cx="68.29" cy="441.86" r="1.75"/><circle cx="69.52" cy="441.79" r="1.75"/><circle cx="71.08" cy="441.03" r="1.75"/><circle cx="72.61" cy="440.84" r="1.75"/><circle cx="74.06" cy="440.83" r="1.75"/><circle cx="75.61" cy="440.06" r="1.75"/><circle cx="77.08" cy="442.23" r="1.75"/><circle cx="78.54" cy="443.01" r="1.75"/><circle cx="80.03" cy="441.72" r="1.75"/><circle cx="81.37" cy="441.66" r="1.75"/><circle cx="82.85" cy="439.59" r="1.75"/><circle cx="84.16" cy="440.98" r="1.75"/><circle cx="85.43" cy="441.59" r="1.75"/><circle cx="86.89" cy="442.50" r="1.75"/><circle cx="88.40" cy="442.15" r="1.75"/><circle cx="89.62" cy="441.20" r="1.75"/><circle cx="91.26" cy="441.16" r="1.75"/><circle cx="92.93" cy="441.13" r="1.75"/><circle cx="94.43" cy="441.47" r="1.75"/><circle cx="95.86" cy="442.07" r="1.75"/><circle cx="97.57" cy="441.32" r="1.75"/><circle cx="99.37" cy="441.27" r="1.75"/><circle cx="100.69" cy="439.49" r="1.75"/><circle cx="102.47" cy="438.75" r="1.75"/><circle cx="104.22" cy="441.64" r="1.75"/><circle cx="105.52" cy="442.11" r="1.75"/><circle cx="106.76" cy="439.03" r="1.75"/><circle cx="108.17" cy="439.76" r="1.75"/><circle cx="109.91" cy="435.59" r="1.75"/><circle cx="111.28" cy="433.72" r="1.75"/><circle cx="112.78" cy="429.89" r="1.75"/><circle cx="114.53" cy="427.01" r="1.75"/><circle cx="116.03" cy="424.46" r="1.75"/><circle cx="117.42" cy="421.39" r="1.75"/><circle cx="118.72" cy="418.48" r="1.75"/><circle cx="120.48" cy="414.44" r="1.75"/><circle cx="121.78" cy="411.19" r="1.75"/><circle cx="123.46" cy="411.59" r="1.75"/><circle cx="125.04" cy="410.10" r="1.75"/><circle cx="126.45" cy="408.99" r="1.75"/><circle cx="128.00" cy="405.71" r="1.75"/><circle cx="129.73" cy="408.00" r="1.75"/><circle cx="131.31" cy="406.05" r="1.75"/><circle cx="132.75" cy="403.12" r="1.75"/><circle cx="134.54" cy="401.08" r="1.75"/><circle cx="136.09" cy="399.89" r="1.75"/><circle cx="137.55" cy="401.74" r="1.75"/><circle cx="138.86" cy="399.59" r="1.75"/><circle cx="140.55" cy="398.47" r="1.75"/><circle cx="141.90" cy="396.34" r="1.75"/><circle cx="143.45" cy="395.42" r="1.75"/><circle cx="145.05" cy="397.29" r="1.75"/><circle cx="146.27" cy="397.20" r="1.75"/><circle cx="147.56" cy="396.91" r="1.75"/><circle cx="149.07" cy="397.75" r="1.75"/><circle cx="150.81" cy="399.94" r="1.75"/><circle cx="152.40" cy="400.78" r="1.75"/><circle cx="153.61" cy="401.84" r="1.75"/><circle cx="154.87" cy="401.45" r="1.75"/><circle cx="156.29" cy="402.38" r="1.75"/><circle cx="157.84" cy="404.36" r="1.75"/><circle cx="159.17" cy="402.69" r="1.75"/><circle cx="160.45" cy="403.21" r="1.75"/><circle cx="162.21" cy="404.47" r="1.75"/><circle cx="163.47" cy="405.32" r="1.75"/><circle cx="165.05" cy="406.34" r="1.75"/><circle cx="166.49" cy="403.91" r="1.75"/><circle cx="167.85" cy="407.15" r="1.75"/><circle cx="169.39" cy="405.99" r="1.75"/><circle cx="170.80" cy="405.47" r="1.75"/><circle cx="172.56" cy="405.70" r="1.75"/><circle cx="174.20" cy="407.07" r="1.75"/><circle cx="175.42" cy="409.73" r="1.75"/><circle cx="176.94" cy="407.06" r="1.75"/><circle cx="178.18" cy="408.50" r="1.75"/><circle cx="179.85" cy="409.85" r="1.75"/><circle cx="181.61" cy="409.92" r="1.75"/><circle cx="182.90" cy="411.32" r="1.75"/><circle cx="184.40" cy="413.51" r="1.75"/><circle cx="185.98" cy="413.63" r="1.75"/><circle cx="187.37" cy="413.86" r="1.75"/><circle cx="188.75" cy="417.67" r="1.75"/><circle cx="190.42" cy="417.21" r="1.75"/><circle cx="192.05" cy="419.65" r="1.75"/><circle cx="193.70" cy="418.65" r="1.75"/><circle cx="195.18" cy="419.42" r="1.75"/><circle cx="196.51" cy="419.05" r="1.75"/><circle cx="197.77" cy="420.92" r="1.75"/><circle cx="199.18" cy="421.90" r="1.75"/><circle cx="200.83" cy="421.69" r="1.75"/><circle cx="202.45" cy="421.23" r="1.75"/><circle cx="203.81" cy="422.80" r="1.75"/><circle cx="205.49" cy="424.45" r="1.75"/><circle cx="207.00" cy="425.54" r="1.75"/><circle cx="208.78" cy="428.26" r="1.75"/><circle cx="210.11" cy="427.58" r="1.75"/><circle cx="211.46" cy="428.07" r="1.75"/><circle cx="212.81" cy="428.80" r="1.75"/></g>
<path d="M44.50,440.70 L107.30,440.70 L122.90,410.90" fill="none" stroke="#000" stroke-width="1.9" />
<g fill="none" stroke="#f06060" stroke-width="0.8"><circle cx="47.00" cy="466.46" r="1.75"/><circle cx="48.40" cy="470.40" r="1.75"/><circle cx="49.74" cy="468.74" r="1.75"/><circle cx="51.48" cy="468.14" r="1.75"/><circle cx="53.08" cy="468.01" r="1.75"/><circle cx="54.87" cy="466.99" r="1.75"/><circle cx="56.49" cy="469.88" r="1.75"/><circle cx="58.20" cy="467.44" r="1.75"/><circle cx="59.75" cy="470.14" r="1.75"/><circle cx="61.13" cy="469.75" r="1.75"/><circle cx="62.38" cy="471.06" r="1.75"/><circle cx="64.12" cy="469.45" r="1.75"/><circle cx="65.39" cy="469.48" r="1.75"/><circle cx="67.15" cy="468.80" r="1.75"/><circle cx="68.36" cy="469.78" r="1.75"/><circle cx="69.59" cy="468.51" r="1.75"/><circle cx="71.21" cy="467.40" r="1.75"/><circle cx="72.85" cy="470.69" r="1.75"/><circle cx="74.27" cy="469.77" r="1.75"/><circle cx="75.96" cy="470.20" r="1.75"/><circle cx="77.20" cy="466.53" r="1.75"/><circle cx="78.92" cy="471.67" r="1.75"/><circle cx="80.18" cy="467.36" r="1.75"/><circle cx="81.50" cy="469.20" r="1.75"/><circle cx="83.21" cy="469.12" r="1.75"/><circle cx="84.90" cy="467.26" r="1.75"/><circle cx="86.48" cy="467.03" r="1.75"/><circle cx="87.85" cy="469.29" r="1.75"/><circle cx="89.51" cy="469.13" r="1.75"/><circle cx="90.83" cy="468.18" r="1.75"/><circle cx="92.04" cy="469.97" r="1.75"/><circle cx="93.40" cy="468.29" r="1.75"/><circle cx="94.82" cy="470.70" r="1.75"/><circle cx="96.21" cy="470.16" r="1.75"/><circle cx="97.92" cy="468.28" r="1.75"/><circle cx="99.49" cy="469.91" r="1.75"/><circle cx="100.95" cy="468.83" r="1.75"/><circle cx="102.62" cy="467.38" r="1.75"/><circle cx="104.14" cy="470.18" r="1.75"/><circle cx="105.47" cy="468.85" r="1.75"/><circle cx="107.16" cy="468.02" r="1.75"/><circle cx="108.46" cy="469.30" r="1.75"/><circle cx="110.12" cy="468.32" r="1.75"/><circle cx="111.91" cy="468.53" r="1.75"/><circle cx="113.40" cy="465.98" r="1.75"/><circle cx="115.08" cy="465.40" r="1.75"/><circle cx="116.49" cy="465.40" r="1.75"/><circle cx="118.19" cy="462.86" r="1.75"/><circle cx="119.56" cy="465.41" r="1.75"/><circle cx="120.89" cy="461.09" r="1.75"/><circle cx="122.15" cy="459.41" r="1.75"/><circle cx="123.73" cy="461.98" r="1.75"/><circle cx="125.35" cy="460.20" r="1.75"/><circle cx="127.02" cy="457.31" r="1.75"/><circle cx="128.47" cy="456.47" r="1.75"/><circle cx="129.90" cy="456.98" r="1.75"/><circle cx="131.64" cy="455.24" r="1.75"/><circle cx="132.85" cy="455.19" r="1.75"/><circle cx="134.59" cy="454.93" r="1.75"/><circle cx="136.09" cy="451.16" r="1.75"/><circle cx="137.43" cy="454.23" r="1.75"/><circle cx="138.91" cy="449.61" r="1.75"/><circle cx="140.56" cy="450.80" r="1.75"/><circle cx="142.15" cy="450.06" r="1.75"/><circle cx="143.44" cy="451.26" r="1.75"/><circle cx="145.15" cy="448.66" r="1.75"/><circle cx="146.45" cy="447.55" r="1.75"/><circle cx="147.91" cy="449.17" r="1.75"/><circle cx="149.19" cy="446.82" r="1.75"/><circle cx="150.67" cy="448.77" r="1.75"/><circle cx="151.98" cy="447.00" r="1.75"/><circle cx="153.36" cy="446.47" r="1.75"/><circle cx="154.65" cy="444.44" r="1.75"/><circle cx="155.95" cy="446.53" r="1.75"/><circle cx="157.46" cy="447.29" r="1.75"/><circle cx="158.76" cy="445.41" r="1.75"/><circle cx="160.54" cy="446.11" r="1.75"/><circle cx="162.18" cy="447.63" r="1.75"/><circle cx="163.44" cy="446.63" r="1.75"/><circle cx="164.87" cy="446.58" r="1.75"/><circle cx="166.51" cy="443.64" r="1.75"/><circle cx="167.97" cy="444.12" r="1.75"/><circle cx="169.24" cy="444.94" r="1.75"/><circle cx="170.56" cy="442.28" r="1.75"/><circle cx="172.00" cy="441.59" r="1.75"/><circle cx="173.67" cy="439.48" r="1.75"/><circle cx="175.25" cy="439.35" r="1.75"/><circle cx="176.73" cy="443.90" r="1.75"/><circle cx="178.17" cy="446.01" r="1.75"/><circle cx="179.82" cy="447.02" r="1.75"/><circle cx="181.36" cy="446.27" r="1.75"/><circle cx="183.01" cy="447.44" r="1.75"/><circle cx="184.65" cy="449.77" r="1.75"/><circle cx="186.37" cy="450.49" r="1.75"/><circle cx="188.09" cy="449.05" r="1.75"/><circle cx="189.69" cy="450.95" r="1.75"/><circle cx="191.08" cy="451.43" r="1.75"/><circle cx="192.66" cy="454.27" r="1.75"/><circle cx="194.33" cy="454.36" r="1.75"/><circle cx="195.96" cy="453.31" r="1.75"/><circle cx="197.41" cy="453.64" r="1.75"/><circle cx="198.88" cy="453.76" r="1.75"/><circle cx="200.49" cy="454.26" r="1.75"/><circle cx="202.25" cy="456.62" r="1.75"/><circle cx="203.91" cy="458.20" r="1.75"/><circle cx="205.35" cy="453.49" r="1.75"/><circle cx="206.57" cy="457.69" r="1.75"/><circle cx="208.09" cy="459.19" r="1.75"/><circle cx="209.86" cy="459.69" r="1.75"/><circle cx="211.37" cy="458.95" r="1.75"/><circle cx="212.90" cy="458.40" r="1.75"/><circle cx="214.53" cy="455.33" r="1.75"/><circle cx="216.22" cy="456.92" r="1.75"/><circle cx="217.74" cy="454.79" r="1.75"/><circle cx="219.06" cy="459.50" r="1.75"/><circle cx="220.67" cy="456.53" r="1.75"/><circle cx="221.95" cy="459.96" r="1.75"/></g>
<path d="M44.50,470.90 L109.70,468.80 L154.30,447.80" fill="none" stroke="#000" stroke-width="1.9" />
<g fill="none" stroke="#505050" stroke-width="0.85"><circle cx="47.00" cy="501.17" r="1.75"/><circle cx="48.27" cy="501.72" r="1.75"/><circle cx="49.62" cy="502.64" r="1.75"/><circle cx="50.97" cy="501.32" r="1.75"/><circle cx="52.48" cy="500.51" r="1.75"/><circle cx="53.73" cy="501.86" r="1.75"/><circle cx="55.26" cy="502.43" r="1.75"/><circle cx="56.51" cy="500.30" r="1.75"/><circle cx="58.08" cy="500.09" r="1.75"/><circle cx="59.27" cy="501.28" r="1.75"/><circle cx="60.82" cy="501.30" r="1.75"/><circle cx="62.21" cy="498.83" r="1.75"/><circle cx="63.64" cy="500.97" r="1.75"/><circle cx="64.96" cy="503.70" r="1.75"/><circle cx="66.44" cy="501.30" r="1.75"/><circle cx="67.82" cy="498.04" r="1.75"/><circle cx="69.10" cy="499.50" r="1.75"/><circle cx="70.69" cy="499.85" r="1.75"/><circle cx="72.01" cy="500.58" r="1.75"/><circle cx="73.34" cy="499.06" r="1.75"/><circle cx="74.60" cy="499.07" r="1.75"/><circle cx="75.72" cy="500.12" r="1.75"/><circle cx="77.25" cy="499.47" r="1.75"/><circle cx="78.54" cy="500.54" r="1.75"/><circle cx="79.93" cy="497.84" r="1.75"/><circle cx="81.41" cy="500.22" r="1.75"/><circle cx="82.74" cy="501.64" r="1.75"/><circle cx="83.89" cy="498.17" r="1.75"/><circle cx="85.47" cy="501.07" r="1.75"/><circle cx="86.67" cy="497.84" r="1.75"/><circle cx="88.26" cy="498.86" r="1.75"/><circle cx="89.38" cy="498.78" r="1.75"/><circle cx="91.04" cy="498.30" r="1.75"/><circle cx="92.21" cy="497.96" r="1.75"/><circle cx="93.41" cy="498.94" r="1.75"/><circle cx="94.73" cy="500.87" r="1.75"/><circle cx="95.93" cy="500.46" r="1.75"/><circle cx="97.15" cy="497.19" r="1.75"/><circle cx="98.77" cy="496.63" r="1.75"/><circle cx="100.26" cy="496.88" r="1.75"/><circle cx="101.88" cy="498.80" r="1.75"/><circle cx="103.11" cy="495.73" r="1.75"/><circle cx="104.62" cy="495.95" r="1.75"/><circle cx="105.98" cy="497.56" r="1.75"/><circle cx="107.60" cy="496.92" r="1.75"/><circle cx="108.85" cy="497.46" r="1.75"/><circle cx="110.05" cy="497.28" r="1.75"/><circle cx="111.43" cy="497.67" r="1.75"/><circle cx="112.63" cy="496.06" r="1.75"/><circle cx="114.05" cy="497.55" r="1.75"/><circle cx="115.66" cy="498.83" r="1.75"/><circle cx="117.04" cy="495.47" r="1.75"/><circle cx="118.47" cy="493.09" r="1.75"/><circle cx="119.80" cy="491.27" r="1.75"/><circle cx="121.16" cy="492.97" r="1.75"/><circle cx="122.63" cy="491.30" r="1.75"/><circle cx="124.11" cy="492.15" r="1.75"/><circle cx="125.61" cy="489.65" r="1.75"/><circle cx="127.25" cy="486.40" r="1.75"/><circle cx="128.66" cy="490.41" r="1.75"/><circle cx="130.05" cy="486.49" r="1.75"/><circle cx="131.57" cy="484.94" r="1.75"/><circle cx="133.04" cy="482.74" r="1.75"/><circle cx="134.37" cy="485.37" r="1.75"/><circle cx="135.75" cy="480.00" r="1.75"/><circle cx="136.99" cy="480.98" r="1.75"/><circle cx="138.36" cy="478.91" r="1.75"/><circle cx="139.94" cy="480.04" r="1.75"/><circle cx="141.22" cy="478.98" r="1.75"/><circle cx="142.63" cy="476.21" r="1.75"/><circle cx="143.90" cy="472.95" r="1.75"/><circle cx="145.38" cy="475.29" r="1.75"/><circle cx="146.95" cy="474.64" r="1.75"/><circle cx="148.24" cy="476.44" r="1.75"/><circle cx="149.68" cy="474.23" r="1.75"/><circle cx="150.83" cy="474.26" r="1.75"/><circle cx="152.35" cy="477.50" r="1.75"/><circle cx="153.50" cy="475.42" r="1.75"/><circle cx="154.79" cy="477.60" r="1.75"/><circle cx="156.42" cy="477.09" r="1.75"/><circle cx="157.88" cy="475.98" r="1.75"/><circle cx="159.51" cy="475.52" r="1.75"/><circle cx="160.98" cy="476.27" r="1.75"/><circle cx="162.49" cy="476.59" r="1.75"/><circle cx="163.94" cy="477.61" r="1.75"/><circle cx="165.43" cy="477.36" r="1.75"/><circle cx="166.81" cy="478.40" r="1.75"/><circle cx="168.03" cy="477.90" r="1.75"/><circle cx="169.17" cy="479.09" r="1.75"/><circle cx="170.66" cy="475.99" r="1.75"/><circle cx="171.99" cy="480.00" r="1.75"/><circle cx="173.42" cy="477.30" r="1.75"/><circle cx="174.69" cy="479.23" r="1.75"/><circle cx="175.98" cy="481.28" r="1.75"/><circle cx="177.34" cy="478.43" r="1.75"/><circle cx="178.50" cy="478.27" r="1.75"/><circle cx="179.93" cy="481.62" r="1.75"/><circle cx="181.51" cy="481.91" r="1.75"/><circle cx="182.95" cy="483.71" r="1.75"/><circle cx="184.08" cy="482.35" r="1.75"/><circle cx="185.41" cy="481.14" r="1.75"/><circle cx="187.08" cy="482.87" r="1.75"/><circle cx="188.47" cy="484.66" r="1.75"/><circle cx="189.95" cy="486.05" r="1.75"/><circle cx="191.19" cy="486.33" r="1.75"/><circle cx="192.31" cy="486.80" r="1.75"/><circle cx="193.81" cy="489.62" r="1.75"/><circle cx="194.98" cy="489.96" r="1.75"/><circle cx="196.59" cy="488.32" r="1.75"/><circle cx="198.11" cy="488.71" r="1.75"/><circle cx="199.37" cy="488.76" r="1.75"/><circle cx="200.52" cy="488.30" r="1.75"/><circle cx="202.07" cy="488.94" r="1.75"/><circle cx="203.60" cy="487.41" r="1.75"/><circle cx="204.77" cy="488.68" r="1.75"/><circle cx="206.14" cy="488.79" r="1.75"/><circle cx="207.79" cy="490.39" r="1.75"/><circle cx="209.31" cy="494.02" r="1.75"/><circle cx="210.43" cy="492.68" r="1.75"/><circle cx="212.01" cy="491.17" r="1.75"/><circle cx="213.18" cy="490.21" r="1.75"/><circle cx="214.39" cy="492.95" r="1.75"/><circle cx="215.99" cy="490.55" r="1.75"/><circle cx="217.32" cy="491.04" r="1.75"/><circle cx="218.76" cy="489.19" r="1.75"/><circle cx="219.96" cy="491.73" r="1.75"/><circle cx="221.53" cy="489.78" r="1.75"/></g>
<path d="M44.50,503.50 L115.60,496.60 L147.00,474.00" fill="none" stroke="#000" stroke-width="1.9" />
<line x1="107.30" y1="403.00" x2="107.30" y2="460.00" stroke="#000" stroke-width="0.9" stroke-dasharray="2.2,1.6"/>
<line x1="109.40" y1="442.00" x2="109.40" y2="488.00" stroke="#000" stroke-width="0.9" stroke-dasharray="2.2,1.6"/>
<line x1="115.70" y1="470.00" x2="115.70" y2="497.00" stroke="#000" stroke-width="0.9" stroke-dasharray="2.2,1.6"/>
<line x1="92.70" y1="456.40" x2="103.44" y2="456.40" stroke="#000" stroke-width="1.0" />
<path d="M106.80,456.40 L102.60,458.30 L102.60,454.50 Z" fill="#000"/>
<line x1="122.80" y1="456.40" x2="113.26" y2="456.40" stroke="#000" stroke-width="1.0" />
<path d="M109.90,456.40 L114.10,454.50 L114.10,458.30 Z" fill="#000"/>
<line x1="91.50" y1="485.20" x2="105.64" y2="485.20" stroke="#000" stroke-width="1.0" />
<path d="M109.00,485.20 L104.80,487.10 L104.80,483.30 Z" fill="#000"/>
<line x1="128.70" y1="485.20" x2="119.56" y2="485.20" stroke="#000" stroke-width="1.0" />
<path d="M116.20,485.20 L120.40,483.30 L120.40,487.10 Z" fill="#000"/>
<text x="49.70" y="401.50" font-size="9.6" fill="#000" text-anchor="start" >Ni/HfO<tspan font-size="7" dy="2.6">2</tspan></text>
<text x="49.70" y="433.20" font-size="9.6" fill="#000" text-anchor="start" >Pd/HfO<tspan font-size="7" dy="2.6">2</tspan></text>
<text x="49.70" y="462.00" font-size="9.6" fill="#000" text-anchor="start" >Mo/HfO<tspan font-size="7" dy="2.6">2</tspan></text>
<text x="50.30" y="493.10" font-size="9.6" fill="#000" text-anchor="start" >Ti/HfO<tspan font-size="7" dy="2.6">2</tspan></text>
<text x="109.80" y="449.80" font-size="9.4" fill="#000" text-anchor="start" >0.17 eV</text>
<text x="73.50" y="481.70" font-size="9.4" fill="#000" text-anchor="start" >0.62 eV</text>
<text x="168.40" y="499.80" font-size="13.4" fill="#000" text-anchor="start" >(c)</text>
<rect x="239.6" y="3.4" width="180" height="543.2" fill="none" stroke="#606060" stroke-width="1.1"/>
<line x1="269.50" y1="100.50" x2="390.22" y2="100.50" stroke="#383838" stroke-width="1.0" />
<line x1="390.22" y1="100.50" x2="390.22" y2="98.10" stroke="#383838" stroke-width="0.9" />
<line x1="380.16" y1="100.50" x2="380.16" y2="99.00" stroke="#383838" stroke-width="0.9" />
<line x1="370.10" y1="100.50" x2="370.10" y2="98.10" stroke="#383838" stroke-width="0.9" />
<line x1="360.04" y1="100.50" x2="360.04" y2="99.00" stroke="#383838" stroke-width="0.9" />
<line x1="349.98" y1="100.50" x2="349.98" y2="98.10" stroke="#383838" stroke-width="0.9" />
<line x1="339.92" y1="100.50" x2="339.92" y2="99.00" stroke="#383838" stroke-width="0.9" />
<line x1="329.86" y1="100.50" x2="329.86" y2="98.10" stroke="#383838" stroke-width="0.9" />
<line x1="319.80" y1="100.50" x2="319.80" y2="99.00" stroke="#383838" stroke-width="0.9" />
<line x1="309.74" y1="100.50" x2="309.74" y2="98.10" stroke="#383838" stroke-width="0.9" />
<line x1="299.68" y1="100.50" x2="299.68" y2="99.00" stroke="#383838" stroke-width="0.9" />
<line x1="289.62" y1="100.50" x2="289.62" y2="98.10" stroke="#383838" stroke-width="0.9" />
<line x1="279.56" y1="100.50" x2="279.56" y2="99.00" stroke="#383838" stroke-width="0.9" />
<line x1="269.50" y1="100.50" x2="269.50" y2="98.10" stroke="#383838" stroke-width="0.9" />
<text x="390.42" y="110.70" font-size="8.8" fill="#000" text-anchor="middle" >12</text>
<text x="370.30" y="110.70" font-size="8.8" fill="#000" text-anchor="middle" >14</text>
<text x="350.18" y="110.70" font-size="8.8" fill="#000" text-anchor="middle" >16</text>
<text x="330.06" y="110.70" font-size="8.8" fill="#000" text-anchor="middle" >18</text>
<text x="309.94" y="110.70" font-size="8.8" fill="#000" text-anchor="middle" >20</text>
<text x="289.82" y="110.70" font-size="8.8" fill="#000" text-anchor="middle" >22</text>
<text x="269.70" y="110.70" font-size="8.8" fill="#000" text-anchor="middle" >24</text>
<g fill="none" stroke="#8a8a8a" stroke-width="0.75"><circle cx="270.30" cy="99.66" r="1.75"/><circle cx="271.28" cy="97.68" r="1.75"/><circle cx="272.41" cy="99.60" r="1.75"/><circle cx="273.49" cy="98.02" r="1.75"/><circle cx="274.36" cy="98.31" r="1.75"/><circle cx="275.50" cy="98.09" r="1.75"/><circle cx="276.45" cy="97.04" r="1.75"/><circle cx="277.49" cy="99.92" r="1.75"/><circle cx="278.52" cy="98.16" r="1.75"/><circle cx="279.46" cy="96.82" r="1.75"/><circle cx="280.42" cy="99.01" r="1.75"/><circle cx="281.48" cy="96.86" r="1.75"/><circle cx="282.57" cy="97.16" r="1.75"/><circle cx="283.50" cy="98.75" r="1.75"/><circle cx="284.48" cy="98.08" r="1.75"/><circle cx="285.51" cy="98.70" r="1.75"/><circle cx="286.37" cy="96.45" r="1.75"/><circle cx="287.47" cy="98.53" r="1.75"/><circle cx="288.49" cy="96.41" r="1.75"/><circle cx="289.42" cy="98.75" r="1.75"/><circle cx="290.48" cy="96.71" r="1.75"/><circle cx="291.60" cy="97.67" r="1.75"/><circle cx="292.62" cy="98.12" r="1.75"/><circle cx="293.71" cy="98.20" r="1.75"/><circle cx="294.84" cy="98.99" r="1.75"/><circle cx="295.76" cy="96.67" r="1.75"/><circle cx="296.75" cy="96.70" r="1.75"/><circle cx="297.66" cy="97.18" r="1.75"/><circle cx="298.75" cy="98.15" r="1.75"/><circle cx="299.74" cy="97.52" r="1.75"/><circle cx="300.82" cy="96.21" r="1.75"/><circle cx="301.74" cy="92.97" r="1.75"/><circle cx="302.85" cy="92.05" r="1.75"/><circle cx="303.86" cy="89.87" r="1.75"/><circle cx="304.77" cy="88.87" r="1.75"/><circle cx="305.67" cy="86.52" r="1.75"/><circle cx="306.63" cy="83.65" r="1.75"/><circle cx="307.65" cy="77.33" r="1.75"/><circle cx="308.55" cy="75.19" r="1.75"/><circle cx="309.41" cy="70.57" r="1.75"/><circle cx="310.29" cy="64.37" r="1.75"/><circle cx="311.33" cy="57.63" r="1.75"/><circle cx="312.36" cy="49.96" r="1.75"/><circle cx="313.31" cy="43.60" r="1.75"/><circle cx="314.17" cy="37.88" r="1.75"/><circle cx="315.32" cy="31.21" r="1.75"/><circle cx="316.34" cy="24.21" r="1.75"/><circle cx="317.27" cy="20.72" r="1.75"/><circle cx="318.40" cy="15.74" r="1.75"/><circle cx="319.48" cy="15.03" r="1.75"/><circle cx="320.41" cy="11.30" r="1.75"/><circle cx="321.27" cy="13.18" r="1.75"/><circle cx="322.15" cy="14.00" r="1.75"/><circle cx="323.01" cy="12.94" r="1.75"/><circle cx="324.00" cy="15.24" r="1.75"/><circle cx="325.13" cy="17.64" r="1.75"/><circle cx="326.16" cy="18.36" r="1.75"/><circle cx="327.13" cy="20.55" r="1.75"/><circle cx="328.06" cy="20.44" r="1.75"/><circle cx="329.08" cy="17.12" r="1.75"/><circle cx="330.13" cy="17.52" r="1.75"/><circle cx="331.10" cy="18.02" r="1.75"/><circle cx="332.24" cy="17.23" r="1.75"/><circle cx="333.38" cy="15.24" r="1.75"/><circle cx="334.31" cy="13.82" r="1.75"/><circle cx="335.27" cy="13.59" r="1.75"/><circle cx="336.37" cy="10.15" r="1.75"/><circle cx="337.23" cy="11.33" r="1.75"/><circle cx="338.28" cy="10.75" r="1.75"/><circle cx="339.42" cy="14.92" r="1.75"/><circle cx="340.50" cy="18.49" r="1.75"/><circle cx="341.63" cy="23.50" r="1.75"/><circle cx="342.66" cy="29.22" r="1.75"/><circle cx="343.74" cy="37.51" r="1.75"/><circle cx="344.66" cy="43.91" r="1.75"/><circle cx="345.55" cy="49.36" r="1.75"/><circle cx="346.47" cy="56.43" r="1.75"/><circle cx="347.36" cy="62.40" r="1.75"/><circle cx="348.43" cy="69.09" r="1.75"/><circle cx="349.34" cy="76.20" r="1.75"/><circle cx="350.25" cy="79.47" r="1.75"/><circle cx="351.38" cy="85.08" r="1.75"/><circle cx="352.28" cy="85.41" r="1.75"/><circle cx="353.26" cy="91.08" r="1.75"/><circle cx="354.36" cy="93.18" r="1.75"/><circle cx="355.40" cy="93.26" r="1.75"/><circle cx="356.50" cy="95.60" r="1.75"/><circle cx="357.49" cy="96.01" r="1.75"/><circle cx="358.41" cy="96.63" r="1.75"/><circle cx="359.27" cy="97.15" r="1.75"/><circle cx="360.17" cy="96.72" r="1.75"/><circle cx="361.28" cy="97.89" r="1.75"/><circle cx="362.18" cy="98.94" r="1.75"/><circle cx="363.11" cy="98.61" r="1.75"/><circle cx="364.01" cy="97.68" r="1.75"/><circle cx="365.01" cy="97.62" r="1.75"/><circle cx="365.89" cy="99.93" r="1.75"/><circle cx="367.03" cy="99.97" r="1.75"/><circle cx="368.08" cy="98.98" r="1.75"/><circle cx="369.00" cy="97.74" r="1.75"/><circle cx="369.92" cy="98.49" r="1.75"/></g>
<path d="M269.50,100.50 L270.00,100.50 L270.50,100.50 L271.00,100.50 L271.50,100.50 L272.00,100.50 L272.50,100.50 L273.00,100.50 L273.50,100.50 L274.00,100.50 L274.50,100.50 L275.00,100.50 L275.50,100.50 L276.00,100.50 L276.50,100.50 L277.00,100.50 L277.50,100.50 L278.00,100.50 L278.50,100.50 L279.00,100.50 L279.50,100.50 L280.00,100.50 L280.50,100.50 L281.00,100.50 L281.50,100.50 L282.00,100.50 L282.50,100.50 L283.00,100.50 L283.50,100.50 L284.00,100.50 L284.50,100.50 L285.00,100.50 L285.50,100.50 L286.00,100.50 L286.50,100.50 L287.00,100.50 L287.50,100.50 L288.00,100.50 L288.50,100.50 L289.00,100.50 L289.50,100.50 L290.00,100.50 L290.50,100.50 L291.00,100.50 L291.50,100.50 L292.00,100.50 L292.50,100.50 L293.00,100.49 L293.50,100.49 L294.00,100.49 L294.50,100.48 L295.00,100.48 L295.50,100.47 L296.00,100.46 L296.50,100.45 L297.00,100.44 L297.50,100.42 L298.00,100.39 L298.50,100.36 L299.00,100.32 L299.50,100.28 L300.00,100.21 L300.50,100.14 L301.00,100.05 L301.50,99.93 L302.00,99.80 L302.50,99.63 L303.00,99.43 L303.50,99.20 L304.00,98.91 L304.50,98.58 L305.00,98.20 L305.50,97.75 L306.00,97.23 L306.50,96.63 L307.00,95.95 L307.50,95.18 L308.00,94.32 L308.50,93.35 L309.00,92.28 L309.50,91.10 L310.00,89.81 L310.50,88.41 L311.00,86.91 L311.50,85.29 L312.00,83.58 L312.50,81.79 L313.00,79.91 L313.50,77.96 L314.00,75.97 L314.50,73.95 L315.00,71.91 L315.50,69.88 L316.00,67.88 L316.50,65.92 L317.00,64.04 L317.50,62.26 L318.00,60.59 L318.50,59.04 L319.00,57.65 L319.50,56.41 L320.00,55.34 L320.50,54.45 L321.00,53.72 L321.50,53.17 L322.00,52.77 L322.50,52.53 L323.00,52.41 L323.50,52.41 L324.00,52.49 L324.50,52.64 L325.00,52.83 L325.50,53.03 L326.00,53.20 L326.50,53.34 L327.00,53.41 L327.50,53.38 L328.00,53.26 L328.50,53.01 L329.00,52.63 L329.50,52.12 L330.00,51.48 L330.50,50.72 L331.00,49.85 L331.50,48.89 L332.00,47.87 L332.50,46.80 L333.00,45.72 L333.50,44.66 L334.00,43.65 L334.50,42.73 L335.00,41.93 L335.50,41.28 L336.00,40.81 L336.50,40.55 L337.00,40.51 L337.50,40.72 L338.00,41.18 L338.50,41.90 L339.00,42.87 L339.50,44.10 L340.00,45.58 L340.50,47.28 L341.00,49.20 L341.50,51.30 L342.00,53.56 L342.50,55.95 L343.00,58.45 L343.50,61.02 L344.00,63.63 L344.50,66.25 L345.00,68.86 L345.50,71.43 L346.00,73.94 L346.50,76.36 L347.00,78.69 L347.50,80.90 L348.00,82.98 L348.50,84.92 L349.00,86.73 L349.50,88.39 L350.00,89.92 L350.50,91.30 L351.00,92.54 L351.50,93.66 L352.00,94.65 L352.50,95.52 L353.00,96.29 L353.50,96.96 L354.00,97.54 L354.50,98.04 L355.00,98.46 L355.50,98.83 L356.00,99.13 L356.50,99.39 L357.00,99.60 L357.50,99.77 L358.00,99.92 L358.50,100.04 L359.00,100.13 L359.50,100.21 L360.00,100.28 L360.50,100.33 L361.00,100.36 L361.50,100.40 L362.00,100.42 L362.50,100.44 L363.00,100.45 L363.50,100.47 L364.00,100.47 L364.50,100.48 L365.00,100.49 L365.50,100.49 L366.00,100.49 L366.50,100.49 L367.00,100.50 L367.50,100.50 L368.00,100.50 L368.50,100.50 L369.00,100.50 L369.50,100.50 L370.00,100.50 L370.50,100.50" fill="none" stroke="#0000ff" stroke-width="1.6" />
<path d="M269.50,99.70 L270.00,99.70 L270.50,99.70 L271.00,99.70 L271.50,99.70 L272.00,99.70 L272.50,99.70 L273.00,99.70 L273.50,99.70 L274.00,99.70 L274.50,99.70 L275.00,99.70 L275.50,99.70 L276.00,99.70 L276.50,99.70 L277.00,99.70 L277.50,99.70 L278.00,99.70 L278.50,99.70 L279.00,99.70 L279.50,99.70 L280.00,99.70 L280.50,99.70 L281.00,99.70 L281.50,99.70 L282.00,99.70 L282.50,99.70 L283.00,99.70 L283.50,99.70 L284.00,99.70 L284.50,99.70 L285.00,99.70 L285.50,99.70 L286.00,99.70 L286.50,99.70 L287.00,99.70 L287.50,99.70 L288.00,99.70 L288.50,99.70 L289.00,99.70 L289.50,99.70 L290.00,99.70 L290.50,99.70 L291.00,99.70 L291.50,99.70 L292.00,99.70 L292.50,99.70 L293.00,99.70 L293.50,99.70 L294.00,99.70 L294.50,99.70 L295.00,99.70 L295.50,99.69 L296.00,99.69 L296.50,99.69 L297.00,99.68 L297.50,99.68 L298.00,99.67 L298.50,99.66 L299.00,99.65 L299.50,99.64 L300.00,99.62 L300.50,99.60 L301.00,99.57 L301.50,99.53 L302.00,99.49 L302.50,99.43 L303.00,99.37 L303.50,99.29 L304.00,99.19 L304.50,99.07 L305.00,98.93 L305.50,98.77 L306.00,98.58 L306.50,98.36 L307.00,98.10 L307.50,97.81 L308.00,97.47 L308.50,97.09 L309.00,96.67 L309.50,96.19 L310.00,95.67 L310.50,95.10 L311.00,94.48 L311.50,93.81 L312.00,93.09 L312.50,92.33 L313.00,91.53 L313.50,90.70 L314.00,89.84 L314.50,88.97 L315.00,88.08 L315.50,87.20 L316.00,86.33 L316.50,85.49 L317.00,84.68 L317.50,83.91 L318.00,83.20 L318.50,82.56 L319.00,81.99 L319.50,81.51 L320.00,81.10 L320.50,80.79 L321.00,80.58 L321.50,80.45 L322.00,80.41 L322.50,80.46 L323.00,80.57 L323.50,80.76 L324.00,81.00 L324.50,81.28 L325.00,81.58 L325.50,81.90 L326.00,82.22 L326.50,82.51 L327.00,82.78 L327.50,83.00 L328.00,83.16 L328.50,83.26 L329.00,83.28 L329.50,83.22 L330.00,83.08 L330.50,82.86 L331.00,82.55 L331.50,82.17 L332.00,81.72 L332.50,81.21 L333.00,80.66 L333.50,80.08 L334.00,79.49 L334.50,78.90 L335.00,78.33 L335.50,77.80 L336.00,77.32 L336.50,76.91 L337.00,76.58 L337.50,76.35 L338.00,76.22 L338.50,76.21 L339.00,76.32 L339.50,76.54 L340.00,76.89 L340.50,77.36 L341.00,77.94 L341.50,78.63 L342.00,79.41 L342.50,80.27 L343.00,81.21 L343.50,82.20 L344.00,83.24 L344.50,84.31 L345.00,85.39 L345.50,86.48 L346.00,87.56 L346.50,88.61 L347.00,89.64 L347.50,90.62 L348.00,91.56 L348.50,92.44 L349.00,93.27 L349.50,94.04 L350.00,94.74 L350.50,95.39 L351.00,95.97 L351.50,96.49 L352.00,96.96 L352.50,97.37 L353.00,97.73 L353.50,98.05 L354.00,98.32 L354.50,98.56 L355.00,98.76 L355.50,98.93 L356.00,99.07 L356.50,99.19 L357.00,99.29 L357.50,99.37 L358.00,99.44 L358.50,99.49 L359.00,99.54 L359.50,99.57 L360.00,99.60 L360.50,99.62 L361.00,99.64 L361.50,99.66 L362.00,99.67 L362.50,99.67 L363.00,99.68 L363.50,99.69 L364.00,99.69 L364.50,99.69 L365.00,99.69 L365.50,99.70 L366.00,99.70 L366.50,99.70 L367.00,99.70 L367.50,99.70 L368.00,99.70 L368.50,99.70 L369.00,99.70 L369.50,99.70 L370.00,99.70 L370.50,99.70" fill="none" stroke="#008000" stroke-width="1.4" />
<path d="M269.50,99.78 L270.00,99.78 L270.50,99.78 L271.00,99.78 L271.50,99.78 L272.00,99.77 L272.50,99.77 L273.00,99.77 L273.50,99.77 L274.00,99.76 L274.50,99.76 L275.00,99.76 L275.50,99.75 L276.00,99.75 L276.50,99.75 L277.00,99.75 L277.50,99.74 L278.00,99.74 L278.50,99.74 L279.00,99.73 L279.50,99.73 L280.00,99.72 L280.50,99.72 L281.00,99.72 L281.50,99.71 L282.00,99.71 L282.50,99.70 L283.00,99.70 L283.50,99.69 L284.00,99.69 L284.50,99.68 L285.00,99.68 L285.50,99.67 L286.00,99.67 L286.50,99.66 L287.00,99.65 L287.50,99.65 L288.00,99.64 L288.50,99.63 L289.00,99.62 L289.50,99.61 L290.00,99.60 L290.50,99.59 L291.00,99.58 L291.50,99.56 L292.00,99.55 L292.50,99.53 L293.00,99.51 L293.50,99.49 L294.00,99.47 L294.50,99.44 L295.00,99.41 L295.50,99.38 L296.00,99.34 L296.50,99.30 L297.00,99.25 L297.50,99.20 L298.00,99.14 L298.50,99.07 L299.00,99.00 L299.50,98.91 L300.00,98.82 L300.50,98.71 L301.00,98.59 L301.50,98.46 L302.00,98.32 L302.50,98.16 L303.00,97.98 L303.50,97.78 L304.00,97.57 L304.50,97.33 L305.00,97.07 L305.50,96.79 L306.00,96.49 L306.50,96.16 L307.00,95.80 L307.50,95.42 L308.00,95.02 L308.50,94.58 L309.00,94.12 L309.50,93.63 L310.00,93.12 L310.50,92.58 L311.00,92.01 L311.50,91.42 L312.00,90.81 L312.50,90.18 L313.00,89.54 L313.50,88.87 L314.00,88.20 L314.50,87.52 L315.00,86.83 L315.50,86.14 L316.00,85.46 L316.50,84.78 L317.00,84.12 L317.50,83.47 L318.00,82.85 L318.50,82.26 L319.00,81.69 L319.50,81.17 L320.00,80.69 L320.50,80.26 L321.00,79.88 L321.50,79.56 L322.00,79.29 L322.50,79.10 L323.00,78.97 L323.50,78.91 L324.00,78.92 L324.50,79.07 L325.00,79.34 L325.50,79.74 L326.00,80.24 L326.50,80.85 L327.00,81.55 L327.50,82.33 L328.00,83.16 L328.50,84.05 L329.00,84.97 L329.50,85.91 L330.00,86.86 L330.50,87.81 L331.00,88.75 L331.50,89.67 L332.00,90.55 L332.50,91.40 L333.00,92.21 L333.50,92.98 L334.00,93.69 L334.50,94.36 L335.00,94.97 L335.50,95.53 L336.00,96.04 L336.50,96.50 L337.00,96.92 L337.50,97.28 L338.00,97.61 L338.50,97.90 L339.00,98.15 L339.50,98.37 L340.00,98.56 L340.50,98.73 L341.00,98.87 L341.50,98.99 L342.00,99.09 L342.50,99.18 L343.00,99.25 L343.50,99.32 L344.00,99.37 L344.50,99.42 L345.00,99.46 L345.50,99.49 L346.00,99.52 L346.50,99.54 L347.00,99.56 L347.50,99.58 L348.00,99.60 L348.50,99.61 L349.00,99.63 L349.50,99.64 L350.00,99.65 L350.50,99.66 L351.00,99.67 L351.50,99.68 L352.00,99.68 L352.50,99.69 L353.00,99.70 L353.50,99.70 L354.00,99.71 L354.50,99.72 L355.00,99.72 L355.50,99.73 L356.00,99.73 L356.50,99.74 L357.00,99.74 L357.50,99.75 L358.00,99.75 L358.50,99.75 L359.00,99.76 L359.50,99.76 L360.00,99.77 L360.50,99.77 L361.00,99.77 L361.50,99.78 L362.00,99.78 L362.50,99.78 L363.00,99.78 L363.50,99.79 L364.00,99.79 L364.50,99.79 L365.00,99.80 L365.50,99.80 L366.00,99.80 L366.50,99.80 L367.00,99.80 L367.50,99.81 L368.00,99.81 L368.50,99.81 L369.00,99.81 L369.50,99.81 L370.00,99.82 L370.50,99.82" fill="none" stroke="#ff00ff" stroke-width="1.4" />
<path d="M269.50,98.90 L270.00,98.90 L270.50,98.90 L271.00,98.90 L271.50,98.90 L272.00,98.90 L272.50,98.90 L273.00,98.90 L273.50,98.90 L274.00,98.90 L274.50,98.90 L275.00,98.90 L275.50,98.90 L276.00,98.90 L276.50,98.90 L277.00,98.90 L277.50,98.90 L278.00,98.90 L278.50,98.90 L279.00,98.90 L279.50,98.90 L280.00,98.90 L280.50,98.90 L281.00,98.90 L281.50,98.90 L282.00,98.90 L282.50,98.90 L283.00,98.90 L283.50,98.90 L284.00,98.90 L284.50,98.90 L285.00,98.90 L285.50,98.90 L286.00,98.90 L286.50,98.90 L287.00,98.90 L287.50,98.90 L288.00,98.90 L288.50,98.90 L289.00,98.90 L289.50,98.90 L290.00,98.89 L290.50,98.89 L291.00,98.89 L291.50,98.89 L292.00,98.88 L292.50,98.88 L293.00,98.87 L293.50,98.86 L294.00,98.85 L294.50,98.83 L295.00,98.81 L295.50,98.79 L296.00,98.75 L296.50,98.71 L297.00,98.66 L297.50,98.59 L298.00,98.51 L298.50,98.41 L299.00,98.29 L299.50,98.14 L300.00,97.96 L300.50,97.75 L301.00,97.48 L301.50,97.17 L302.00,96.80 L302.50,96.37 L303.00,95.86 L303.50,95.27 L304.00,94.58 L304.50,93.78 L305.00,92.87 L305.50,91.84 L306.00,90.67 L306.50,89.35 L307.00,87.87 L307.50,86.24 L308.00,84.43 L308.50,82.44 L309.00,80.28 L309.50,77.93 L310.00,75.41 L310.50,72.71 L311.00,69.86 L311.50,66.84 L312.00,63.69 L312.50,60.42 L313.00,57.06 L313.50,53.62 L314.00,50.14 L314.50,46.64 L315.00,43.16 L315.50,39.74 L316.00,36.40 L316.50,33.19 L317.00,30.13 L317.50,27.26 L318.00,24.60 L318.50,22.19 L319.00,20.03 L319.50,18.16 L320.00,16.58 L320.50,15.30 L321.00,14.31 L321.50,13.61 L322.00,13.18 L322.50,13.01 L323.00,13.06 L323.50,13.32 L324.00,13.75 L324.50,14.31 L325.00,14.96 L325.50,15.67 L326.00,16.39 L326.50,17.09 L327.00,17.72 L327.50,18.27 L328.00,18.70 L328.50,18.99 L329.00,19.13 L329.50,19.10 L330.00,18.91 L330.50,18.55 L331.00,18.05 L331.50,17.42 L332.00,16.68 L332.50,15.86 L333.00,15.00 L333.50,14.13 L334.00,13.30 L334.50,12.53 L335.00,11.89 L335.50,11.39 L336.00,11.09 L336.50,11.00 L337.00,11.17 L337.50,11.61 L338.00,12.34 L338.50,13.38 L339.00,14.73 L339.50,16.38 L340.00,18.34 L340.50,20.59 L341.00,23.10 L341.50,25.87 L342.00,28.85 L342.50,32.02 L343.00,35.34 L343.50,38.79 L344.00,42.32 L344.50,45.89 L345.00,49.48 L345.50,53.06 L346.00,56.58 L346.50,60.02 L347.00,63.36 L347.50,66.57 L348.00,69.64 L348.50,72.54 L349.00,75.28 L349.50,77.83 L350.00,80.21 L350.50,82.40 L351.00,84.40 L351.50,86.23 L352.00,87.88 L352.50,89.36 L353.00,90.69 L353.50,91.86 L354.00,92.90 L354.50,93.81 L355.00,94.60 L355.50,95.29 L356.00,95.89 L356.50,96.39 L357.00,96.83 L357.50,97.19 L358.00,97.50 L358.50,97.76 L359.00,97.98 L359.50,98.15 L360.00,98.30 L360.50,98.42 L361.00,98.52 L361.50,98.60 L362.00,98.66 L362.50,98.71 L363.00,98.76 L363.50,98.79 L364.00,98.81 L364.50,98.83 L365.00,98.85 L365.50,98.86 L366.00,98.87 L366.50,98.88 L367.00,98.88 L367.50,98.89 L368.00,98.89 L368.50,98.89 L369.00,98.90 L369.50,98.90 L370.00,98.90 L370.50,98.90" fill="none" stroke="#ff0000" stroke-width="1.8" />
<line x1="269.50" y1="211.10" x2="390.22" y2="211.10" stroke="#383838" stroke-width="1.0" />
<line x1="390.22" y1="211.10" x2="390.22" y2="208.70" stroke="#383838" stroke-width="0.9" />
<line x1="380.16" y1="211.10" x2="380.16" y2="209.60" stroke="#383838" stroke-width="0.9" />
<line x1="370.10" y1="211.10" x2="370.10" y2="208.70" stroke="#383838" stroke-width="0.9" />
<line x1="360.04" y1="211.10" x2="360.04" y2="209.60" stroke="#383838" stroke-width="0.9" />
<line x1="349.98" y1="211.10" x2="349.98" y2="208.70" stroke="#383838" stroke-width="0.9" />
<line x1="339.92" y1="211.10" x2="339.92" y2="209.60" stroke="#383838" stroke-width="0.9" />
<line x1="329.86" y1="211.10" x2="329.86" y2="208.70" stroke="#383838" stroke-width="0.9" />
<line x1="319.80" y1="211.10" x2="319.80" y2="209.60" stroke="#383838" stroke-width="0.9" />
<line x1="309.74" y1="211.10" x2="309.74" y2="208.70" stroke="#383838" stroke-width="0.9" />
<line x1="299.68" y1="211.10" x2="299.68" y2="209.60" stroke="#383838" stroke-width="0.9" />
<line x1="289.62" y1="211.10" x2="289.62" y2="208.70" stroke="#383838" stroke-width="0.9" />
<line x1="279.56" y1="211.10" x2="279.56" y2="209.60" stroke="#383838" stroke-width="0.9" />
<line x1="269.50" y1="211.10" x2="269.50" y2="208.70" stroke="#383838" stroke-width="0.9" />
<text x="390.42" y="221.30" font-size="8.8" fill="#000" text-anchor="middle" >12</text>
<text x="370.30" y="221.30" font-size="8.8" fill="#000" text-anchor="middle" >14</text>
<text x="350.18" y="221.30" font-size="8.8" fill="#000" text-anchor="middle" >16</text>
<text x="330.06" y="221.30" font-size="8.8" fill="#000" text-anchor="middle" >18</text>
<text x="309.94" y="221.30" font-size="8.8" fill="#000" text-anchor="middle" >20</text>
<text x="289.82" y="221.30" font-size="8.8" fill="#000" text-anchor="middle" >22</text>
<text x="269.70" y="221.30" font-size="8.8" fill="#000" text-anchor="middle" >24</text>
<g fill="none" stroke="#8a8a8a" stroke-width="0.75"><circle cx="270.30" cy="207.79" r="1.75"/><circle cx="271.45" cy="211.21" r="1.75"/><circle cx="272.58" cy="209.86" r="1.75"/><circle cx="273.70" cy="209.65" r="1.75"/><circle cx="274.56" cy="209.14" r="1.75"/><circle cx="275.71" cy="208.53" r="1.75"/><circle cx="276.56" cy="209.41" r="1.75"/><circle cx="277.45" cy="208.44" r="1.75"/><circle cx="278.30" cy="209.57" r="1.75"/><circle cx="279.21" cy="208.20" r="1.75"/><circle cx="280.19" cy="209.49" r="1.75"/><circle cx="281.21" cy="208.68" r="1.75"/><circle cx="282.10" cy="209.52" r="1.75"/><circle cx="283.17" cy="210.14" r="1.75"/><circle cx="284.08" cy="209.16" r="1.75"/><circle cx="285.11" cy="208.98" r="1.75"/><circle cx="286.11" cy="208.69" r="1.75"/><circle cx="287.14" cy="209.27" r="1.75"/><circle cx="288.20" cy="209.10" r="1.75"/><circle cx="289.11" cy="207.71" r="1.75"/><circle cx="289.98" cy="208.60" r="1.75"/><circle cx="291.05" cy="207.87" r="1.75"/><circle cx="291.92" cy="208.94" r="1.75"/><circle cx="293.02" cy="207.97" r="1.75"/><circle cx="294.13" cy="208.46" r="1.75"/><circle cx="295.25" cy="208.53" r="1.75"/><circle cx="296.24" cy="208.85" r="1.75"/><circle cx="297.15" cy="207.82" r="1.75"/><circle cx="298.25" cy="207.68" r="1.75"/><circle cx="299.21" cy="208.00" r="1.75"/><circle cx="300.24" cy="208.07" r="1.75"/><circle cx="301.22" cy="206.40" r="1.75"/><circle cx="302.23" cy="206.27" r="1.75"/><circle cx="303.32" cy="204.70" r="1.75"/><circle cx="304.43" cy="201.20" r="1.75"/><circle cx="305.40" cy="200.55" r="1.75"/><circle cx="306.47" cy="197.66" r="1.75"/><circle cx="307.61" cy="192.50" r="1.75"/><circle cx="308.61" cy="187.25" r="1.75"/><circle cx="309.62" cy="182.95" r="1.75"/><circle cx="310.47" cy="178.72" r="1.75"/><circle cx="311.38" cy="172.50" r="1.75"/><circle cx="312.26" cy="166.94" r="1.75"/><circle cx="313.12" cy="162.75" r="1.75"/><circle cx="314.00" cy="155.33" r="1.75"/><circle cx="314.85" cy="149.56" r="1.75"/><circle cx="315.88" cy="143.12" r="1.75"/><circle cx="316.94" cy="138.08" r="1.75"/><circle cx="317.82" cy="135.65" r="1.75"/><circle cx="318.69" cy="130.98" r="1.75"/><circle cx="319.58" cy="128.86" r="1.75"/><circle cx="320.51" cy="128.56" r="1.75"/><circle cx="321.40" cy="127.74" r="1.75"/><circle cx="322.42" cy="128.68" r="1.75"/><circle cx="323.53" cy="130.10" r="1.75"/><circle cx="324.61" cy="131.63" r="1.75"/><circle cx="325.50" cy="132.74" r="1.75"/><circle cx="326.47" cy="131.10" r="1.75"/><circle cx="327.45" cy="133.74" r="1.75"/><circle cx="328.42" cy="132.27" r="1.75"/><circle cx="329.55" cy="132.33" r="1.75"/><circle cx="330.47" cy="132.18" r="1.75"/><circle cx="331.42" cy="129.94" r="1.75"/><circle cx="332.51" cy="131.33" r="1.75"/><circle cx="333.64" cy="129.10" r="1.75"/><circle cx="334.50" cy="125.56" r="1.75"/><circle cx="335.51" cy="127.34" r="1.75"/><circle cx="336.43" cy="124.25" r="1.75"/><circle cx="337.41" cy="124.18" r="1.75"/><circle cx="338.42" cy="125.14" r="1.75"/><circle cx="339.29" cy="126.67" r="1.75"/><circle cx="340.15" cy="130.61" r="1.75"/><circle cx="341.04" cy="135.29" r="1.75"/><circle cx="342.17" cy="139.53" r="1.75"/><circle cx="343.21" cy="146.72" r="1.75"/><circle cx="344.32" cy="151.99" r="1.75"/><circle cx="345.18" cy="159.09" r="1.75"/><circle cx="346.24" cy="166.28" r="1.75"/><circle cx="347.17" cy="171.23" r="1.75"/><circle cx="348.21" cy="178.98" r="1.75"/><circle cx="349.13" cy="183.86" r="1.75"/><circle cx="350.27" cy="190.25" r="1.75"/><circle cx="351.20" cy="193.94" r="1.75"/><circle cx="352.09" cy="198.32" r="1.75"/><circle cx="353.12" cy="201.21" r="1.75"/><circle cx="354.05" cy="202.23" r="1.75"/><circle cx="355.04" cy="203.89" r="1.75"/><circle cx="355.92" cy="205.52" r="1.75"/><circle cx="356.81" cy="206.38" r="1.75"/><circle cx="357.75" cy="208.17" r="1.75"/><circle cx="358.67" cy="208.80" r="1.75"/><circle cx="359.78" cy="208.93" r="1.75"/><circle cx="360.81" cy="207.65" r="1.75"/><circle cx="361.72" cy="208.37" r="1.75"/><circle cx="362.78" cy="208.02" r="1.75"/><circle cx="363.82" cy="209.33" r="1.75"/><circle cx="364.81" cy="208.91" r="1.75"/><circle cx="365.72" cy="209.71" r="1.75"/><circle cx="366.73" cy="208.39" r="1.75"/><circle cx="367.58" cy="209.90" r="1.75"/><circle cx="368.54" cy="209.57" r="1.75"/><circle cx="369.55" cy="208.74" r="1.75"/></g>
<path d="M269.50,211.10 L270.00,211.10 L270.50,211.10 L271.00,211.10 L271.50,211.10 L272.00,211.10 L272.50,211.10 L273.00,211.10 L273.50,211.10 L274.00,211.10 L274.50,211.10 L275.00,211.10 L275.50,211.10 L276.00,211.10 L276.50,211.10 L277.00,211.10 L277.50,211.10 L278.00,211.10 L278.50,211.10 L279.00,211.10 L279.50,211.10 L280.00,211.10 L280.50,211.10 L281.00,211.10 L281.50,211.10 L282.00,211.10 L282.50,211.10 L283.00,211.10 L283.50,211.10 L284.00,211.10 L284.50,211.10 L285.00,211.10 L285.50,211.10 L286.00,211.10 L286.50,211.10 L287.00,211.10 L287.50,211.10 L288.00,211.10 L288.50,211.10 L289.00,211.10 L289.50,211.10 L290.00,211.10 L290.50,211.10 L291.00,211.10 L291.50,211.10 L292.00,211.10 L292.50,211.10 L293.00,211.09 L293.50,211.09 L294.00,211.09 L294.50,211.09 L295.00,211.08 L295.50,211.07 L296.00,211.06 L296.50,211.05 L297.00,211.04 L297.50,211.02 L298.00,211.00 L298.50,210.97 L299.00,210.93 L299.50,210.88 L300.00,210.82 L300.50,210.75 L301.00,210.66 L301.50,210.55 L302.00,210.41 L302.50,210.25 L303.00,210.05 L303.50,209.82 L304.00,209.55 L304.50,209.22 L305.00,208.84 L305.50,208.40 L306.00,207.89 L306.50,207.31 L307.00,206.64 L307.50,205.89 L308.00,205.04 L308.50,204.09 L309.00,203.05 L309.50,201.89 L310.00,200.63 L310.50,199.25 L311.00,197.78 L311.50,196.20 L312.00,194.52 L312.50,192.76 L313.00,190.92 L313.50,189.02 L314.00,187.06 L314.50,185.08 L315.00,183.08 L315.50,181.09 L316.00,179.13 L316.50,177.21 L317.00,175.37 L317.50,173.62 L318.00,171.98 L318.50,170.47 L319.00,169.11 L319.50,167.90 L320.00,166.85 L320.50,165.97 L321.00,165.26 L321.50,164.71 L322.00,164.33 L322.50,164.09 L323.00,163.97 L323.50,163.97 L324.00,164.05 L324.50,164.20 L325.00,164.38 L325.50,164.58 L326.00,164.75 L326.50,164.88 L327.00,164.95 L327.50,164.93 L328.00,164.80 L328.50,164.56 L329.00,164.19 L329.50,163.69 L330.00,163.06 L330.50,162.32 L331.00,161.47 L331.50,160.53 L332.00,159.52 L332.50,158.47 L333.00,157.41 L333.50,156.37 L334.00,155.39 L334.50,154.49 L335.00,153.70 L335.50,153.07 L336.00,152.61 L336.50,152.35 L337.00,152.31 L337.50,152.51 L338.00,152.96 L338.50,153.67 L339.00,154.63 L339.50,155.83 L340.00,157.28 L340.50,158.95 L341.00,160.82 L341.50,162.88 L342.00,165.10 L342.50,167.44 L343.00,169.89 L343.50,172.41 L344.00,174.96 L344.50,177.54 L345.00,180.09 L345.50,182.61 L346.00,185.07 L346.50,187.45 L347.00,189.72 L347.50,191.89 L348.00,193.93 L348.50,195.84 L349.00,197.61 L349.50,199.24 L350.00,200.73 L350.50,202.08 L351.00,203.30 L351.50,204.40 L352.00,205.37 L352.50,206.22 L353.00,206.98 L353.50,207.63 L354.00,208.20 L354.50,208.69 L355.00,209.10 L355.50,209.46 L356.00,209.76 L356.50,210.01 L357.00,210.22 L357.50,210.39 L358.00,210.53 L358.50,210.65 L359.00,210.74 L359.50,210.82 L360.00,210.88 L360.50,210.93 L361.00,210.97 L361.50,211.00 L362.00,211.02 L362.50,211.04 L363.00,211.05 L363.50,211.07 L364.00,211.07 L364.50,211.08 L365.00,211.09 L365.50,211.09 L366.00,211.09 L366.50,211.09 L367.00,211.10 L367.50,211.10 L368.00,211.10 L368.50,211.10 L369.00,211.10 L369.50,211.10 L370.00,211.10 L370.50,211.10" fill="none" stroke="#0000ff" stroke-width="1.6" />
<path d="M269.50,210.30 L270.00,210.30 L270.50,210.30 L271.00,210.30 L271.50,210.30 L272.00,210.30 L272.50,210.30 L273.00,210.30 L273.50,210.30 L274.00,210.30 L274.50,210.30 L275.00,210.30 L275.50,210.30 L276.00,210.30 L276.50,210.30 L277.00,210.30 L277.50,210.30 L278.00,210.30 L278.50,210.30 L279.00,210.30 L279.50,210.30 L280.00,210.30 L280.50,210.30 L281.00,210.30 L281.50,210.30 L282.00,210.30 L282.50,210.30 L283.00,210.30 L283.50,210.30 L284.00,210.30 L284.50,210.30 L285.00,210.30 L285.50,210.30 L286.00,210.30 L286.50,210.30 L287.00,210.30 L287.50,210.30 L288.00,210.30 L288.50,210.30 L289.00,210.30 L289.50,210.30 L290.00,210.30 L290.50,210.30 L291.00,210.30 L291.50,210.30 L292.00,210.30 L292.50,210.30 L293.00,210.30 L293.50,210.30 L294.00,210.30 L294.50,210.30 L295.00,210.30 L295.50,210.29 L296.00,210.29 L296.50,210.29 L297.00,210.28 L297.50,210.28 L298.00,210.27 L298.50,210.26 L299.00,210.25 L299.50,210.24 L300.00,210.22 L300.50,210.19 L301.00,210.16 L301.50,210.13 L302.00,210.08 L302.50,210.02 L303.00,209.95 L303.50,209.87 L304.00,209.77 L304.50,209.65 L305.00,209.50 L305.50,209.33 L306.00,209.13 L306.50,208.90 L307.00,208.63 L307.50,208.33 L308.00,207.98 L308.50,207.58 L309.00,207.14 L309.50,206.65 L310.00,206.10 L310.50,205.50 L311.00,204.86 L311.50,204.16 L312.00,203.41 L312.50,202.61 L313.00,201.78 L313.50,200.91 L314.00,200.02 L314.50,199.11 L315.00,198.19 L315.50,197.27 L316.00,196.37 L316.50,195.48 L317.00,194.64 L317.50,193.84 L318.00,193.10 L318.50,192.43 L319.00,191.84 L319.50,191.33 L320.00,190.91 L320.50,190.59 L321.00,190.36 L321.50,190.23 L322.00,190.19 L322.50,190.24 L323.00,190.36 L323.50,190.55 L324.00,190.80 L324.50,191.09 L325.00,191.41 L325.50,191.74 L326.00,192.07 L326.50,192.38 L327.00,192.66 L327.50,192.89 L328.00,193.06 L328.50,193.16 L329.00,193.18 L329.50,193.12 L330.00,192.97 L330.50,192.74 L331.00,192.42 L331.50,192.02 L332.00,191.55 L332.50,191.03 L333.00,190.45 L333.50,189.85 L334.00,189.23 L334.50,188.61 L335.00,188.02 L335.50,187.46 L336.00,186.96 L336.50,186.54 L337.00,186.19 L337.50,185.95 L338.00,185.82 L338.50,185.81 L339.00,185.92 L339.50,186.16 L340.00,186.52 L340.50,187.01 L341.00,187.62 L341.50,188.33 L342.00,189.14 L342.50,190.04 L343.00,191.02 L343.50,192.06 L344.00,193.14 L344.50,194.25 L345.00,195.38 L345.50,196.52 L346.00,197.64 L346.50,198.74 L347.00,199.81 L347.50,200.83 L348.00,201.81 L348.50,202.73 L349.00,203.60 L349.50,204.40 L350.00,205.13 L350.50,205.80 L351.00,206.41 L351.50,206.95 L352.00,207.44 L352.50,207.87 L353.00,208.25 L353.50,208.58 L354.00,208.86 L354.50,209.11 L355.00,209.32 L355.50,209.50 L356.00,209.65 L356.50,209.77 L357.00,209.87 L357.50,209.96 L358.00,210.03 L358.50,210.09 L359.00,210.13 L359.50,210.17 L360.00,210.20 L360.50,210.22 L361.00,210.24 L361.50,210.25 L362.00,210.27 L362.50,210.27 L363.00,210.28 L363.50,210.29 L364.00,210.29 L364.50,210.29 L365.00,210.29 L365.50,210.30 L366.00,210.30 L366.50,210.30 L367.00,210.30 L367.50,210.30 L368.00,210.30 L368.50,210.30 L369.00,210.30 L369.50,210.30 L370.00,210.30 L370.50,210.30" fill="none" stroke="#008000" stroke-width="1.4" />
<path d="M269.50,210.41 L270.00,210.41 L270.50,210.40 L271.00,210.40 L271.50,210.40 L272.00,210.40 L272.50,210.40 L273.00,210.40 L273.50,210.39 L274.00,210.39 L274.50,210.39 L275.00,210.39 L275.50,210.38 L276.00,210.38 L276.50,210.38 L277.00,210.38 L277.50,210.37 L278.00,210.37 L278.50,210.37 L279.00,210.37 L279.50,210.36 L280.00,210.36 L280.50,210.36 L281.00,210.35 L281.50,210.35 L282.00,210.35 L282.50,210.34 L283.00,210.34 L283.50,210.34 L284.00,210.33 L284.50,210.33 L285.00,210.32 L285.50,210.32 L286.00,210.31 L286.50,210.31 L287.00,210.30 L287.50,210.30 L288.00,210.29 L288.50,210.29 L289.00,210.28 L289.50,210.27 L290.00,210.26 L290.50,210.25 L291.00,210.24 L291.50,210.23 L292.00,210.22 L292.50,210.21 L293.00,210.19 L293.50,210.17 L294.00,210.16 L294.50,210.13 L295.00,210.11 L295.50,210.09 L296.00,210.06 L296.50,210.02 L297.00,209.98 L297.50,209.94 L298.00,209.90 L298.50,209.84 L299.00,209.78 L299.50,209.71 L300.00,209.64 L300.50,209.56 L301.00,209.46 L301.50,209.36 L302.00,209.24 L302.50,209.11 L303.00,208.97 L303.50,208.82 L304.00,208.64 L304.50,208.46 L305.00,208.25 L305.50,208.03 L306.00,207.79 L306.50,207.52 L307.00,207.24 L307.50,206.94 L308.00,206.62 L308.50,206.27 L309.00,205.90 L309.50,205.52 L310.00,205.11 L310.50,204.68 L311.00,204.23 L311.50,203.76 L312.00,203.27 L312.50,202.77 L313.00,202.26 L313.50,201.73 L314.00,201.20 L314.50,200.65 L315.00,200.11 L315.50,199.56 L316.00,199.02 L316.50,198.48 L317.00,197.95 L317.50,197.44 L318.00,196.94 L318.50,196.47 L319.00,196.02 L319.50,195.60 L320.00,195.22 L320.50,194.88 L321.00,194.58 L321.50,194.32 L322.00,194.11 L322.50,193.96 L323.00,193.85 L323.50,193.80 L324.00,193.82 L324.50,193.93 L325.00,194.15 L325.50,194.47 L326.00,194.87 L326.50,195.35 L327.00,195.91 L327.50,196.53 L328.00,197.19 L328.50,197.89 L329.00,198.63 L329.50,199.38 L330.00,200.13 L330.50,200.89 L331.00,201.63 L331.50,202.36 L332.00,203.07 L332.50,203.74 L333.00,204.39 L333.50,205.00 L334.00,205.56 L334.50,206.09 L335.00,206.58 L335.50,207.03 L336.00,207.43 L336.50,207.80 L337.00,208.13 L337.50,208.42 L338.00,208.68 L338.50,208.91 L339.00,209.11 L339.50,209.28 L340.00,209.44 L340.50,209.57 L341.00,209.68 L341.50,209.78 L342.00,209.86 L342.50,209.93 L343.00,209.99 L343.50,210.04 L344.00,210.08 L344.50,210.12 L345.00,210.15 L345.50,210.17 L346.00,210.20 L346.50,210.22 L347.00,210.23 L347.50,210.25 L348.00,210.26 L348.50,210.27 L349.00,210.28 L349.50,210.29 L350.00,210.30 L350.50,210.31 L351.00,210.32 L351.50,210.32 L352.00,210.33 L352.50,210.33 L353.00,210.34 L353.50,210.34 L354.00,210.35 L354.50,210.35 L355.00,210.36 L355.50,210.36 L356.00,210.37 L356.50,210.37 L357.00,210.37 L357.50,210.38 L358.00,210.38 L358.50,210.38 L359.00,210.39 L359.50,210.39 L360.00,210.39 L360.50,210.40 L361.00,210.40 L361.50,210.40 L362.00,210.40 L362.50,210.41 L363.00,210.41 L363.50,210.41 L364.00,210.41 L364.50,210.41 L365.00,210.42 L365.50,210.42 L366.00,210.42 L366.50,210.42 L367.00,210.42 L367.50,210.43 L368.00,210.43 L368.50,210.43 L369.00,210.43 L369.50,210.43 L370.00,210.43 L370.50,210.43" fill="none" stroke="#ff00ff" stroke-width="1.4" />
<path d="M269.50,209.50 L270.00,209.50 L270.50,209.50 L271.00,209.50 L271.50,209.50 L272.00,209.50 L272.50,209.50 L273.00,209.50 L273.50,209.50 L274.00,209.50 L274.50,209.50 L275.00,209.50 L275.50,209.50 L276.00,209.50 L276.50,209.50 L277.00,209.50 L277.50,209.50 L278.00,209.50 L278.50,209.50 L279.00,209.50 L279.50,209.50 L280.00,209.50 L280.50,209.50 L281.00,209.50 L281.50,209.50 L282.00,209.50 L282.50,209.50 L283.00,209.50 L283.50,209.50 L284.00,209.50 L284.50,209.50 L285.00,209.50 L285.50,209.50 L286.00,209.50 L286.50,209.50 L287.00,209.50 L287.50,209.50 L288.00,209.50 L288.50,209.50 L289.00,209.50 L289.50,209.50 L290.00,209.50 L290.50,209.49 L291.00,209.49 L291.50,209.49 L292.00,209.48 L292.50,209.48 L293.00,209.47 L293.50,209.46 L294.00,209.45 L294.50,209.44 L295.00,209.42 L295.50,209.39 L296.00,209.36 L296.50,209.32 L297.00,209.27 L297.50,209.21 L298.00,209.13 L298.50,209.04 L299.00,208.92 L299.50,208.78 L300.00,208.61 L300.50,208.41 L301.00,208.16 L301.50,207.87 L302.00,207.52 L302.50,207.11 L303.00,206.63 L303.50,206.06 L304.00,205.41 L304.50,204.66 L305.00,203.80 L305.50,202.82 L306.00,201.71 L306.50,200.47 L307.00,199.07 L307.50,197.53 L308.00,195.81 L308.50,193.94 L309.00,191.89 L309.50,189.67 L310.00,187.29 L310.50,184.74 L311.00,182.04 L311.50,179.19 L312.00,176.21 L312.50,173.12 L313.00,169.93 L313.50,166.68 L314.00,163.39 L314.50,160.08 L315.00,156.79 L315.50,153.55 L316.00,150.39 L316.50,147.35 L317.00,144.45 L317.50,141.73 L318.00,139.21 L318.50,136.92 L319.00,134.88 L319.50,133.10 L320.00,131.59 L320.50,130.36 L321.00,129.41 L321.50,128.73 L322.00,128.30 L322.50,128.11 L323.00,128.14 L323.50,128.35 L324.00,128.72 L324.50,129.21 L325.00,129.79 L325.50,130.41 L326.00,131.04 L326.50,131.64 L327.00,132.19 L327.50,132.64 L328.00,132.98 L328.50,133.19 L329.00,133.24 L329.50,133.14 L330.00,132.88 L330.50,132.47 L331.00,131.91 L331.50,131.24 L332.00,130.46 L332.50,129.61 L333.00,128.73 L333.50,127.84 L334.00,126.99 L334.50,126.21 L335.00,125.55 L335.50,125.03 L336.00,124.71 L336.50,124.60 L337.00,124.74 L337.50,125.14 L338.00,125.84 L338.50,126.82 L339.00,128.11 L339.50,129.70 L340.00,131.59 L340.50,133.75 L341.00,136.18 L341.50,138.85 L342.00,141.73 L342.50,144.79 L343.00,148.01 L343.50,151.34 L344.00,154.75 L344.50,158.21 L345.00,161.68 L345.50,165.14 L346.00,168.55 L346.50,171.88 L347.00,175.11 L347.50,178.21 L348.00,181.18 L348.50,183.99 L349.00,186.64 L349.50,189.12 L350.00,191.41 L350.50,193.53 L351.00,195.47 L351.50,197.24 L352.00,198.83 L352.50,200.27 L353.00,201.55 L353.50,202.69 L354.00,203.69 L354.50,204.57 L355.00,205.34 L355.50,206.01 L356.00,206.58 L356.50,207.07 L357.00,207.49 L357.50,207.85 L358.00,208.15 L358.50,208.40 L359.00,208.61 L359.50,208.78 L360.00,208.92 L360.50,209.04 L361.00,209.13 L361.50,209.21 L362.00,209.27 L362.50,209.32 L363.00,209.36 L363.50,209.39 L364.00,209.42 L364.50,209.44 L365.00,209.45 L365.50,209.46 L366.00,209.47 L366.50,209.48 L367.00,209.48 L367.50,209.49 L368.00,209.49 L368.50,209.49 L369.00,209.50 L369.50,209.50 L370.00,209.50 L370.50,209.50" fill="none" stroke="#ff0000" stroke-width="1.8" />
<line x1="269.50" y1="308.90" x2="390.22" y2="308.90" stroke="#383838" stroke-width="1.0" />
<line x1="390.22" y1="308.90" x2="390.22" y2="306.50" stroke="#383838" stroke-width="0.9" />
<line x1="380.16" y1="308.90" x2="380.16" y2="307.40" stroke="#383838" stroke-width="0.9" />
<line x1="370.10" y1="308.90" x2="370.10" y2="306.50" stroke="#383838" stroke-width="0.9" />
<line x1="360.04" y1="308.90" x2="360.04" y2="307.40" stroke="#383838" stroke-width="0.9" />
<line x1="349.98" y1="308.90" x2="349.98" y2="306.50" stroke="#383838" stroke-width="0.9" />
<line x1="339.92" y1="308.90" x2="339.92" y2="307.40" stroke="#383838" stroke-width="0.9" />
<line x1="329.86" y1="308.90" x2="329.86" y2="306.50" stroke="#383838" stroke-width="0.9" />
<line x1="319.80" y1="308.90" x2="319.80" y2="307.40" stroke="#383838" stroke-width="0.9" />
<line x1="309.74" y1="308.90" x2="309.74" y2="306.50" stroke="#383838" stroke-width="0.9" />
<line x1="299.68" y1="308.90" x2="299.68" y2="307.40" stroke="#383838" stroke-width="0.9" />
<line x1="289.62" y1="308.90" x2="289.62" y2="306.50" stroke="#383838" stroke-width="0.9" />
<line x1="279.56" y1="308.90" x2="279.56" y2="307.40" stroke="#383838" stroke-width="0.9" />
<line x1="269.50" y1="308.90" x2="269.50" y2="306.50" stroke="#383838" stroke-width="0.9" />
<text x="390.42" y="319.10" font-size="8.8" fill="#000" text-anchor="middle" >12</text>
<text x="370.30" y="319.10" font-size="8.8" fill="#000" text-anchor="middle" >14</text>
<text x="350.18" y="319.10" font-size="8.8" fill="#000" text-anchor="middle" >16</text>
<text x="330.06" y="319.10" font-size="8.8" fill="#000" text-anchor="middle" >18</text>
<text x="309.94" y="319.10" font-size="8.8" fill="#000" text-anchor="middle" >20</text>
<text x="289.82" y="319.10" font-size="8.8" fill="#000" text-anchor="middle" >22</text>
<text x="269.70" y="319.10" font-size="8.8" fill="#000" text-anchor="middle" >24</text>
<g fill="none" stroke="#8a8a8a" stroke-width="0.75"><circle cx="281.00" cy="304.84" r="1.75"/><circle cx="281.94" cy="307.52" r="1.75"/><circle cx="283.02" cy="305.21" r="1.75"/><circle cx="284.13" cy="305.13" r="1.75"/><circle cx="285.11" cy="305.47" r="1.75"/><circle cx="286.10" cy="304.88" r="1.75"/><circle cx="287.17" cy="304.86" r="1.75"/><circle cx="288.30" cy="304.66" r="1.75"/><circle cx="289.38" cy="304.70" r="1.75"/><circle cx="290.33" cy="304.88" r="1.75"/><circle cx="291.38" cy="303.11" r="1.75"/><circle cx="292.48" cy="303.21" r="1.75"/><circle cx="293.49" cy="304.13" r="1.75"/><circle cx="294.56" cy="302.85" r="1.75"/><circle cx="295.56" cy="304.37" r="1.75"/><circle cx="296.68" cy="302.75" r="1.75"/><circle cx="297.57" cy="303.90" r="1.75"/><circle cx="298.65" cy="303.55" r="1.75"/><circle cx="299.67" cy="301.24" r="1.75"/><circle cx="300.70" cy="302.87" r="1.75"/><circle cx="301.67" cy="302.62" r="1.75"/><circle cx="302.70" cy="299.89" r="1.75"/><circle cx="303.67" cy="299.65" r="1.75"/><circle cx="304.73" cy="299.36" r="1.75"/><circle cx="305.67" cy="296.77" r="1.75"/><circle cx="306.64" cy="296.25" r="1.75"/><circle cx="307.58" cy="293.65" r="1.75"/><circle cx="308.58" cy="291.88" r="1.75"/><circle cx="309.57" cy="290.33" r="1.75"/><circle cx="310.46" cy="287.22" r="1.75"/><circle cx="311.48" cy="281.85" r="1.75"/><circle cx="312.61" cy="276.55" r="1.75"/><circle cx="313.56" cy="272.63" r="1.75"/><circle cx="314.69" cy="264.27" r="1.75"/><circle cx="315.61" cy="258.84" r="1.75"/><circle cx="316.46" cy="256.42" r="1.75"/><circle cx="317.32" cy="250.06" r="1.75"/><circle cx="318.45" cy="244.78" r="1.75"/><circle cx="319.53" cy="237.43" r="1.75"/><circle cx="320.54" cy="235.62" r="1.75"/><circle cx="321.54" cy="232.87" r="1.75"/><circle cx="322.50" cy="230.26" r="1.75"/><circle cx="323.53" cy="228.35" r="1.75"/><circle cx="324.58" cy="230.42" r="1.75"/><circle cx="325.59" cy="229.58" r="1.75"/><circle cx="326.56" cy="230.01" r="1.75"/><circle cx="327.58" cy="229.08" r="1.75"/><circle cx="328.72" cy="231.09" r="1.75"/><circle cx="329.71" cy="231.84" r="1.75"/><circle cx="330.86" cy="233.44" r="1.75"/><circle cx="331.81" cy="232.32" r="1.75"/><circle cx="332.71" cy="233.89" r="1.75"/><circle cx="333.66" cy="235.71" r="1.75"/><circle cx="334.66" cy="233.72" r="1.75"/><circle cx="335.55" cy="234.36" r="1.75"/><circle cx="336.64" cy="231.83" r="1.75"/><circle cx="337.79" cy="232.44" r="1.75"/><circle cx="338.69" cy="230.93" r="1.75"/><circle cx="339.62" cy="230.62" r="1.75"/><circle cx="340.53" cy="232.17" r="1.75"/><circle cx="341.44" cy="232.85" r="1.75"/><circle cx="342.39" cy="235.06" r="1.75"/><circle cx="343.54" cy="239.54" r="1.75"/><circle cx="344.51" cy="243.69" r="1.75"/><circle cx="345.60" cy="248.92" r="1.75"/><circle cx="346.45" cy="255.26" r="1.75"/><circle cx="347.39" cy="260.26" r="1.75"/><circle cx="348.44" cy="265.15" r="1.75"/><circle cx="349.35" cy="270.46" r="1.75"/><circle cx="350.28" cy="276.84" r="1.75"/><circle cx="351.32" cy="279.71" r="1.75"/><circle cx="352.35" cy="286.25" r="1.75"/><circle cx="353.32" cy="291.21" r="1.75"/><circle cx="354.40" cy="295.03" r="1.75"/><circle cx="355.28" cy="297.71" r="1.75"/><circle cx="356.29" cy="300.03" r="1.75"/><circle cx="357.38" cy="300.71" r="1.75"/><circle cx="358.25" cy="302.13" r="1.75"/><circle cx="359.11" cy="304.14" r="1.75"/><circle cx="360.17" cy="304.25" r="1.75"/><circle cx="361.13" cy="305.84" r="1.75"/><circle cx="362.01" cy="306.47" r="1.75"/><circle cx="363.13" cy="305.61" r="1.75"/><circle cx="364.11" cy="306.09" r="1.75"/><circle cx="365.08" cy="308.17" r="1.75"/><circle cx="366.10" cy="307.24" r="1.75"/><circle cx="367.24" cy="305.69" r="1.75"/><circle cx="368.17" cy="307.17" r="1.75"/><circle cx="369.03" cy="308.20" r="1.75"/><circle cx="369.97" cy="306.12" r="1.75"/></g>
<path d="M278.40,308.90 L278.90,308.90 L279.40,308.90 L279.90,308.90 L280.40,308.90 L280.90,308.90 L281.40,308.90 L281.90,308.90 L282.40,308.90 L282.90,308.90 L283.40,308.90 L283.90,308.90 L284.40,308.90 L284.90,308.90 L285.40,308.90 L285.90,308.90 L286.40,308.90 L286.90,308.90 L287.40,308.90 L287.90,308.90 L288.40,308.90 L288.90,308.90 L289.40,308.90 L289.90,308.90 L290.40,308.90 L290.90,308.90 L291.40,308.90 L291.90,308.90 L292.40,308.90 L292.90,308.89 L293.40,308.89 L293.90,308.89 L294.40,308.89 L294.90,308.88 L295.40,308.88 L295.90,308.87 L296.40,308.86 L296.90,308.85 L297.40,308.83 L297.90,308.81 L298.40,308.78 L298.90,308.75 L299.40,308.71 L299.90,308.65 L300.40,308.59 L300.90,308.51 L301.40,308.41 L301.90,308.29 L302.40,308.14 L302.90,307.97 L303.40,307.76 L303.90,307.52 L304.40,307.23 L304.90,306.89 L305.40,306.49 L305.90,306.03 L306.40,305.51 L306.90,304.91 L307.40,304.22 L307.90,303.46 L308.40,302.60 L308.90,301.65 L309.40,300.60 L309.90,299.45 L310.40,298.20 L310.90,296.86 L311.40,295.41 L311.90,293.88 L312.40,292.26 L312.90,290.58 L313.40,288.82 L313.90,287.03 L314.40,285.19 L314.90,283.35 L315.40,281.50 L315.90,279.68 L316.40,277.90 L316.90,276.18 L317.40,274.54 L317.90,273.01 L318.40,271.58 L318.90,270.29 L319.40,269.14 L319.90,268.14 L320.40,267.30 L320.90,266.61 L321.40,266.07 L321.90,265.69 L322.40,265.44 L322.90,265.31 L323.40,265.29 L323.90,265.35 L324.40,265.48 L324.90,265.64 L325.40,265.82 L325.90,265.99 L326.40,266.12 L326.90,266.20 L327.40,266.19 L327.90,266.10 L328.40,265.89 L328.90,265.58 L329.40,265.14 L329.90,264.58 L330.40,263.91 L330.90,263.14 L331.40,262.29 L331.90,261.37 L332.40,260.41 L332.90,259.43 L333.40,258.46 L333.90,257.53 L334.40,256.68 L334.90,255.93 L335.40,255.31 L335.90,254.86 L336.40,254.58 L336.90,254.50 L337.40,254.64 L337.90,255.01 L338.40,255.62 L338.90,256.46 L339.40,257.53 L339.90,258.82 L340.40,260.33 L340.90,262.03 L341.40,263.90 L341.90,265.92 L342.40,268.07 L342.90,270.31 L343.40,272.63 L343.90,274.99 L344.40,277.37 L344.90,279.74 L345.40,282.08 L345.90,284.37 L346.40,286.58 L346.90,288.71 L347.40,290.73 L347.90,292.64 L348.40,294.43 L348.90,296.10 L349.40,297.63 L349.90,299.04 L350.40,300.32 L350.90,301.47 L351.40,302.50 L351.90,303.42 L352.40,304.24 L352.90,304.95 L353.40,305.58 L353.90,306.12 L354.40,306.58 L354.90,306.98 L355.40,307.32 L355.90,307.61 L356.40,307.85 L356.90,308.05 L357.40,308.21 L357.90,308.35 L358.40,308.46 L358.90,308.55 L359.40,308.63 L359.90,308.69 L360.40,308.73 L360.90,308.77 L361.40,308.80 L361.90,308.82 L362.40,308.84 L362.90,308.86 L363.40,308.87 L363.90,308.88 L364.40,308.88 L364.90,308.89 L365.40,308.89 L365.90,308.89 L366.40,308.89 L366.90,308.90 L367.40,308.90 L367.90,308.90 L368.40,308.90 L368.90,308.90 L369.40,308.90 L369.90,308.90 L370.40,308.90" fill="none" stroke="#0000ff" stroke-width="1.6" />
<path d="M278.40,308.10 L278.90,308.10 L279.40,308.10 L279.90,308.10 L280.40,308.10 L280.90,308.10 L281.40,308.10 L281.90,308.10 L282.40,308.10 L282.90,308.10 L283.40,308.10 L283.90,308.10 L284.40,308.10 L284.90,308.10 L285.40,308.10 L285.90,308.10 L286.40,308.10 L286.90,308.10 L287.40,308.10 L287.90,308.10 L288.40,308.10 L288.90,308.10 L289.40,308.10 L289.90,308.10 L290.40,308.10 L290.90,308.10 L291.40,308.10 L291.90,308.10 L292.40,308.10 L292.90,308.10 L293.40,308.10 L293.90,308.10 L294.40,308.10 L294.90,308.10 L295.40,308.10 L295.90,308.09 L296.40,308.09 L296.90,308.09 L297.40,308.09 L297.90,308.08 L298.40,308.08 L298.90,308.07 L299.40,308.06 L299.90,308.05 L300.40,308.03 L300.90,308.01 L301.40,307.99 L301.90,307.96 L302.40,307.93 L302.90,307.88 L303.40,307.83 L303.90,307.77 L304.40,307.69 L304.90,307.60 L305.40,307.49 L305.90,307.37 L306.40,307.22 L306.90,307.05 L307.40,306.85 L307.90,306.63 L308.40,306.38 L308.90,306.10 L309.40,305.78 L309.90,305.43 L310.40,305.05 L310.90,304.63 L311.40,304.18 L311.90,303.70 L312.40,303.19 L312.90,302.65 L313.40,302.09 L313.90,301.51 L314.40,300.91 L314.90,300.31 L315.40,299.71 L315.90,299.12 L316.40,298.54 L316.90,297.98 L317.40,297.45 L317.90,296.96 L318.40,296.51 L318.90,296.12 L319.40,295.77 L319.90,295.49 L320.40,295.27 L320.90,295.10 L321.40,295.01 L321.90,294.97 L322.40,294.99 L322.90,295.06 L323.40,295.17 L323.90,295.33 L324.40,295.52 L324.90,295.72 L325.40,295.94 L325.90,296.15 L326.40,296.36 L326.90,296.55 L327.40,296.70 L327.90,296.82 L328.40,296.90 L328.90,296.92 L329.40,296.89 L329.90,296.81 L330.40,296.67 L330.90,296.47 L331.40,296.22 L331.90,295.92 L332.40,295.58 L332.90,295.22 L333.40,294.82 L333.90,294.42 L334.40,294.02 L334.90,293.63 L335.40,293.26 L335.90,292.92 L336.40,292.63 L336.90,292.40 L337.40,292.23 L337.90,292.13 L338.40,292.10 L338.90,292.16 L339.40,292.30 L339.90,292.52 L340.40,292.82 L340.90,293.20 L341.40,293.65 L341.90,294.17 L342.40,294.75 L342.90,295.38 L343.40,296.05 L343.90,296.75 L344.40,297.47 L344.90,298.21 L345.40,298.95 L345.90,299.69 L346.40,300.41 L346.90,301.11 L347.40,301.79 L347.90,302.43 L348.40,303.04 L348.90,303.61 L349.40,304.14 L349.90,304.63 L350.40,305.08 L350.90,305.48 L351.40,305.85 L351.90,306.17 L352.40,306.46 L352.90,306.71 L353.40,306.94 L353.90,307.13 L354.40,307.29 L354.90,307.43 L355.40,307.55 L355.90,307.65 L356.40,307.74 L356.90,307.81 L357.40,307.87 L357.90,307.91 L358.40,307.95 L358.90,307.98 L359.40,308.01 L359.90,308.03 L360.40,308.05 L360.90,308.06 L361.40,308.07 L361.90,308.08 L362.40,308.08 L362.90,308.09 L363.40,308.09 L363.90,308.09 L364.40,308.09 L364.90,308.10 L365.40,308.10 L365.90,308.10 L366.40,308.10 L366.90,308.10 L367.40,308.10 L367.90,308.10 L368.40,308.10 L368.90,308.10 L369.40,308.10 L369.90,308.10 L370.40,308.10" fill="none" stroke="#008000" stroke-width="1.4" />
<path d="M278.40,308.10 L278.90,308.10 L279.40,308.09 L279.90,308.09 L280.40,308.08 L280.90,308.08 L281.40,308.07 L281.90,308.07 L282.40,308.06 L282.90,308.06 L283.40,308.05 L283.90,308.04 L284.40,308.04 L284.90,308.03 L285.40,308.02 L285.90,308.02 L286.40,308.01 L286.90,308.00 L287.40,307.99 L287.90,307.98 L288.40,307.97 L288.90,307.96 L289.40,307.95 L289.90,307.94 L290.40,307.92 L290.90,307.91 L291.40,307.89 L291.90,307.87 L292.40,307.85 L292.90,307.83 L293.40,307.80 L293.90,307.78 L294.40,307.74 L294.90,307.71 L295.40,307.67 L295.90,307.63 L296.40,307.58 L296.90,307.52 L297.40,307.46 L297.90,307.38 L298.40,307.30 L298.90,307.21 L299.40,307.11 L299.90,307.00 L300.40,306.87 L300.90,306.73 L301.40,306.58 L301.90,306.40 L302.40,306.21 L302.90,305.99 L303.40,305.76 L303.90,305.50 L304.40,305.22 L304.90,304.91 L305.40,304.57 L305.90,304.20 L306.40,303.80 L306.90,303.38 L307.40,302.92 L307.90,302.43 L308.40,301.90 L308.90,301.34 L309.40,300.75 L309.90,300.13 L310.40,299.47 L310.90,298.79 L311.40,298.07 L311.90,297.33 L312.40,296.56 L312.90,295.78 L313.40,294.97 L313.90,294.15 L314.40,293.31 L314.90,292.47 L315.40,291.63 L315.90,290.79 L316.40,289.96 L316.90,289.15 L317.40,288.35 L317.90,287.58 L318.40,286.85 L318.90,286.15 L319.40,285.50 L319.90,284.90 L320.40,284.36 L320.90,283.88 L321.40,283.48 L321.90,283.14 L322.40,282.88 L322.90,282.71 L323.40,282.62 L323.90,282.61 L324.40,282.76 L324.90,283.06 L325.40,283.52 L325.90,284.11 L326.40,284.83 L326.90,285.67 L327.40,286.60 L327.90,287.61 L328.40,288.68 L328.90,289.80 L329.40,290.95 L329.90,292.11 L330.40,293.28 L330.90,294.43 L331.40,295.55 L331.90,296.65 L332.40,297.70 L332.90,298.70 L333.40,299.65 L333.90,300.53 L334.40,301.36 L334.90,302.12 L335.40,302.82 L335.90,303.46 L336.40,304.03 L336.90,304.55 L337.40,305.01 L337.90,305.42 L338.40,305.78 L338.90,306.10 L339.40,306.38 L339.90,306.62 L340.40,306.83 L340.90,307.00 L341.40,307.16 L341.90,307.29 L342.40,307.40 L342.90,307.49 L343.40,307.57 L343.90,307.64 L344.40,307.70 L344.90,307.75 L345.40,307.79 L345.90,307.83 L346.40,307.86 L346.90,307.88 L347.40,307.91 L347.90,307.93 L348.40,307.95 L348.90,307.96 L349.40,307.98 L349.90,307.99 L350.40,308.00 L350.90,308.01 L351.40,308.02 L351.90,308.03 L352.40,308.04 L352.90,308.05 L353.40,308.06 L353.90,308.07 L354.40,308.07 L354.90,308.08 L355.40,308.09 L355.90,308.09 L356.40,308.10 L356.90,308.11 L357.40,308.11 L357.90,308.12 L358.40,308.12 L358.90,308.13 L359.40,308.13 L359.90,308.14 L360.40,308.14 L360.90,308.14 L361.40,308.15 L361.90,308.15 L362.40,308.15 L362.90,308.16 L363.40,308.16 L363.90,308.17 L364.40,308.17 L364.90,308.17 L365.40,308.17 L365.90,308.18 L366.40,308.18 L366.90,308.18 L367.40,308.19 L367.90,308.19 L368.40,308.19 L368.90,308.19 L369.40,308.19 L369.90,308.20 L370.40,308.20" fill="none" stroke="#ff00ff" stroke-width="1.4" />
<path d="M278.40,307.30 L278.90,307.30 L279.40,307.30 L279.90,307.30 L280.40,307.30 L280.90,307.30 L281.40,307.30 L281.90,307.30 L282.40,307.30 L282.90,307.30 L283.40,307.30 L283.90,307.30 L284.40,307.30 L284.90,307.30 L285.40,307.30 L285.90,307.30 L286.40,307.30 L286.90,307.29 L287.40,307.29 L287.90,307.29 L288.40,307.29 L288.90,307.28 L289.40,307.28 L289.90,307.27 L290.40,307.27 L290.90,307.26 L291.40,307.25 L291.90,307.23 L292.40,307.22 L292.90,307.19 L293.40,307.17 L293.90,307.14 L294.40,307.10 L294.90,307.05 L295.40,306.99 L295.90,306.92 L296.40,306.84 L296.90,306.74 L297.40,306.62 L297.90,306.48 L298.40,306.32 L298.90,306.12 L299.40,305.90 L299.90,305.63 L300.40,305.33 L300.90,304.97 L301.40,304.57 L301.90,304.10 L302.40,303.57 L302.90,302.97 L303.40,302.30 L303.90,301.54 L304.40,300.68 L304.90,299.74 L305.40,298.68 L305.90,297.52 L306.40,296.25 L306.90,294.86 L307.40,293.34 L307.90,291.70 L308.40,289.93 L308.90,288.04 L309.40,286.02 L309.90,283.87 L310.40,281.61 L310.90,279.24 L311.40,276.77 L311.90,274.20 L312.40,271.55 L312.90,268.83 L313.40,266.06 L313.90,263.26 L314.40,260.45 L314.90,257.64 L315.40,254.85 L315.90,252.12 L316.40,249.45 L316.90,246.88 L317.40,244.42 L317.90,242.09 L318.40,239.91 L318.90,237.91 L319.40,236.08 L319.90,234.45 L320.40,233.03 L320.90,231.81 L321.40,230.81 L321.90,230.02 L322.40,229.44 L322.90,229.05 L323.40,228.85 L323.90,228.83 L324.40,228.96 L324.90,229.22 L325.40,229.60 L325.90,230.06 L326.40,230.58 L326.90,231.13 L327.40,231.70 L327.90,232.26 L328.40,232.78 L328.90,233.24 L329.40,233.63 L329.90,233.93 L330.40,234.13 L330.90,234.23 L331.40,234.24 L331.90,234.14 L332.40,233.95 L332.90,233.68 L333.40,233.36 L333.90,233.00 L334.40,232.62 L334.90,232.25 L335.40,231.92 L335.90,231.65 L336.40,231.49 L336.90,231.44 L337.40,231.55 L337.90,231.84 L338.40,232.31 L338.90,233.01 L339.40,233.92 L339.90,235.07 L340.40,236.46 L340.90,238.08 L341.40,239.93 L341.90,242.00 L342.40,244.28 L342.90,246.73 L343.40,249.35 L343.90,252.11 L344.40,254.98 L344.90,257.93 L345.40,260.94 L345.90,263.97 L346.40,266.99 L346.90,269.99 L347.40,272.94 L347.90,275.81 L348.40,278.58 L348.90,281.24 L349.40,283.77 L349.90,286.16 L350.40,288.41 L350.90,290.50 L351.40,292.44 L351.90,294.21 L352.40,295.84 L352.90,297.31 L353.40,298.64 L353.90,299.83 L354.40,300.89 L354.90,301.83 L355.40,302.66 L355.90,303.38 L356.40,304.00 L356.90,304.54 L357.40,305.01 L357.90,305.40 L358.40,305.74 L358.90,306.02 L359.40,306.26 L359.90,306.45 L360.40,306.62 L360.90,306.75 L361.40,306.86 L361.90,306.95 L362.40,307.03 L362.90,307.08 L363.40,307.13 L363.90,307.17 L364.40,307.20 L364.90,307.22 L365.40,307.24 L365.90,307.25 L366.40,307.27 L366.90,307.27 L367.40,307.28 L367.90,307.29 L368.40,307.29 L368.90,307.29 L369.40,307.29 L369.90,307.30 L370.40,307.30" fill="none" stroke="#ff0000" stroke-width="1.8" />
<line x1="269.50" y1="416.00" x2="390.22" y2="416.00" stroke="#383838" stroke-width="1.0" />
<line x1="390.22" y1="416.00" x2="390.22" y2="413.60" stroke="#383838" stroke-width="0.9" />
<line x1="380.16" y1="416.00" x2="380.16" y2="414.50" stroke="#383838" stroke-width="0.9" />
<line x1="370.10" y1="416.00" x2="370.10" y2="413.60" stroke="#383838" stroke-width="0.9" />
<line x1="360.04" y1="416.00" x2="360.04" y2="414.50" stroke="#383838" stroke-width="0.9" />
<line x1="349.98" y1="416.00" x2="349.98" y2="413.60" stroke="#383838" stroke-width="0.9" />
<line x1="339.92" y1="416.00" x2="339.92" y2="414.50" stroke="#383838" stroke-width="0.9" />
<line x1="329.86" y1="416.00" x2="329.86" y2="413.60" stroke="#383838" stroke-width="0.9" />
<line x1="319.80" y1="416.00" x2="319.80" y2="414.50" stroke="#383838" stroke-width="0.9" />
<line x1="309.74" y1="416.00" x2="309.74" y2="413.60" stroke="#383838" stroke-width="0.9" />
<line x1="299.68" y1="416.00" x2="299.68" y2="414.50" stroke="#383838" stroke-width="0.9" />
<line x1="289.62" y1="416.00" x2="289.62" y2="413.60" stroke="#383838" stroke-width="0.9" />
<line x1="279.56" y1="416.00" x2="279.56" y2="414.50" stroke="#383838" stroke-width="0.9" />
<line x1="269.50" y1="416.00" x2="269.50" y2="413.60" stroke="#383838" stroke-width="0.9" />
<text x="390.42" y="426.20" font-size="8.8" fill="#000" text-anchor="middle" >12</text>
<text x="370.30" y="426.20" font-size="8.8" fill="#000" text-anchor="middle" >14</text>
<text x="350.18" y="426.20" font-size="8.8" fill="#000" text-anchor="middle" >16</text>
<text x="330.06" y="426.20" font-size="8.8" fill="#000" text-anchor="middle" >18</text>
<text x="309.94" y="426.20" font-size="8.8" fill="#000" text-anchor="middle" >20</text>
<text x="289.82" y="426.20" font-size="8.8" fill="#000" text-anchor="middle" >22</text>
<text x="269.70" y="426.20" font-size="8.8" fill="#000" text-anchor="middle" >24</text>
<g fill="none" stroke="#8a8a8a" stroke-width="0.75"><circle cx="270.30" cy="414.27" r="1.75"/><circle cx="271.33" cy="413.19" r="1.75"/><circle cx="272.47" cy="411.66" r="1.75"/><circle cx="273.39" cy="413.51" r="1.75"/><circle cx="274.36" cy="413.18" r="1.75"/><circle cx="275.30" cy="412.57" r="1.75"/><circle cx="276.41" cy="411.52" r="1.75"/><circle cx="277.34" cy="412.91" r="1.75"/><circle cx="278.24" cy="412.28" r="1.75"/><circle cx="279.38" cy="412.81" r="1.75"/><circle cx="280.32" cy="411.88" r="1.75"/><circle cx="281.33" cy="411.92" r="1.75"/><circle cx="282.29" cy="411.66" r="1.75"/><circle cx="283.18" cy="411.91" r="1.75"/><circle cx="284.28" cy="411.19" r="1.75"/><circle cx="285.19" cy="411.87" r="1.75"/><circle cx="286.12" cy="411.25" r="1.75"/><circle cx="287.17" cy="411.26" r="1.75"/><circle cx="288.12" cy="411.59" r="1.75"/><circle cx="289.00" cy="411.93" r="1.75"/><circle cx="289.93" cy="411.10" r="1.75"/><circle cx="290.91" cy="410.52" r="1.75"/><circle cx="292.01" cy="411.03" r="1.75"/><circle cx="292.97" cy="410.41" r="1.75"/><circle cx="294.04" cy="409.37" r="1.75"/><circle cx="294.95" cy="412.17" r="1.75"/><circle cx="296.09" cy="410.08" r="1.75"/><circle cx="297.07" cy="410.49" r="1.75"/><circle cx="297.96" cy="410.14" r="1.75"/><circle cx="299.08" cy="409.34" r="1.75"/><circle cx="300.11" cy="409.04" r="1.75"/><circle cx="301.14" cy="409.16" r="1.75"/><circle cx="302.05" cy="408.13" r="1.75"/><circle cx="303.06" cy="406.26" r="1.75"/><circle cx="304.07" cy="404.64" r="1.75"/><circle cx="305.03" cy="404.05" r="1.75"/><circle cx="306.08" cy="399.14" r="1.75"/><circle cx="307.05" cy="396.15" r="1.75"/><circle cx="307.92" cy="393.55" r="1.75"/><circle cx="308.87" cy="393.28" r="1.75"/><circle cx="309.92" cy="387.00" r="1.75"/><circle cx="310.88" cy="381.08" r="1.75"/><circle cx="311.88" cy="373.84" r="1.75"/><circle cx="312.82" cy="367.79" r="1.75"/><circle cx="313.74" cy="362.07" r="1.75"/><circle cx="314.67" cy="355.76" r="1.75"/><circle cx="315.65" cy="349.82" r="1.75"/><circle cx="316.76" cy="341.56" r="1.75"/><circle cx="317.87" cy="337.53" r="1.75"/><circle cx="318.73" cy="334.45" r="1.75"/><circle cx="319.78" cy="330.91" r="1.75"/><circle cx="320.76" cy="329.32" r="1.75"/><circle cx="321.80" cy="329.42" r="1.75"/><circle cx="322.91" cy="329.66" r="1.75"/><circle cx="323.86" cy="330.97" r="1.75"/><circle cx="324.75" cy="332.17" r="1.75"/><circle cx="325.87" cy="333.91" r="1.75"/><circle cx="326.73" cy="333.66" r="1.75"/><circle cx="327.60" cy="335.71" r="1.75"/><circle cx="328.54" cy="335.91" r="1.75"/><circle cx="329.50" cy="335.57" r="1.75"/><circle cx="330.54" cy="334.39" r="1.75"/><circle cx="331.45" cy="333.48" r="1.75"/><circle cx="332.51" cy="330.24" r="1.75"/><circle cx="333.44" cy="328.43" r="1.75"/><circle cx="334.39" cy="328.69" r="1.75"/><circle cx="335.24" cy="328.17" r="1.75"/><circle cx="336.18" cy="326.16" r="1.75"/><circle cx="337.04" cy="328.74" r="1.75"/><circle cx="337.91" cy="328.79" r="1.75"/><circle cx="338.83" cy="333.45" r="1.75"/><circle cx="339.74" cy="336.95" r="1.75"/><circle cx="340.87" cy="341.81" r="1.75"/><circle cx="341.92" cy="347.92" r="1.75"/><circle cx="342.89" cy="354.74" r="1.75"/><circle cx="343.83" cy="359.83" r="1.75"/><circle cx="344.70" cy="368.36" r="1.75"/><circle cx="345.83" cy="375.13" r="1.75"/><circle cx="346.89" cy="382.18" r="1.75"/><circle cx="347.93" cy="386.93" r="1.75"/><circle cx="348.91" cy="394.76" r="1.75"/><circle cx="349.89" cy="398.43" r="1.75"/><circle cx="350.90" cy="402.20" r="1.75"/><circle cx="351.98" cy="404.97" r="1.75"/><circle cx="352.84" cy="405.06" r="1.75"/><circle cx="353.77" cy="405.94" r="1.75"/><circle cx="354.78" cy="409.99" r="1.75"/><circle cx="355.79" cy="409.80" r="1.75"/><circle cx="356.72" cy="411.48" r="1.75"/><circle cx="357.69" cy="411.64" r="1.75"/><circle cx="358.60" cy="411.60" r="1.75"/><circle cx="359.66" cy="412.48" r="1.75"/><circle cx="360.72" cy="412.32" r="1.75"/><circle cx="361.72" cy="412.99" r="1.75"/><circle cx="362.70" cy="413.16" r="1.75"/><circle cx="363.64" cy="412.23" r="1.75"/><circle cx="364.76" cy="413.21" r="1.75"/><circle cx="365.71" cy="413.38" r="1.75"/><circle cx="366.80" cy="411.30" r="1.75"/><circle cx="367.70" cy="412.19" r="1.75"/><circle cx="368.75" cy="411.87" r="1.75"/><circle cx="369.83" cy="412.08" r="1.75"/><circle cx="370.93" cy="413.10" r="1.75"/><circle cx="371.89" cy="413.04" r="1.75"/><circle cx="372.80" cy="413.20" r="1.75"/><circle cx="373.71" cy="412.84" r="1.75"/><circle cx="374.77" cy="412.23" r="1.75"/><circle cx="375.72" cy="412.73" r="1.75"/><circle cx="376.71" cy="412.28" r="1.75"/><circle cx="377.58" cy="412.97" r="1.75"/><circle cx="378.44" cy="413.93" r="1.75"/><circle cx="379.31" cy="412.53" r="1.75"/><circle cx="380.38" cy="413.62" r="1.75"/><circle cx="381.26" cy="412.47" r="1.75"/><circle cx="382.26" cy="412.12" r="1.75"/><circle cx="383.27" cy="412.81" r="1.75"/><circle cx="384.12" cy="413.61" r="1.75"/><circle cx="385.16" cy="412.04" r="1.75"/><circle cx="386.29" cy="412.25" r="1.75"/><circle cx="387.21" cy="412.10" r="1.75"/><circle cx="388.11" cy="413.96" r="1.75"/><circle cx="389.21" cy="412.84" r="1.75"/></g>
<path d="M269.50,416.00 L270.00,416.00 L270.50,416.00 L271.00,416.00 L271.50,416.00 L272.00,416.00 L272.50,416.00 L273.00,416.00 L273.50,416.00 L274.00,416.00 L274.50,416.00 L275.00,416.00 L275.50,416.00 L276.00,416.00 L276.50,416.00 L277.00,416.00 L277.50,416.00 L278.00,416.00 L278.50,416.00 L279.00,416.00 L279.50,416.00 L280.00,416.00 L280.50,416.00 L281.00,416.00 L281.50,416.00 L282.00,416.00 L282.50,416.00 L283.00,416.00 L283.50,416.00 L284.00,416.00 L284.50,416.00 L285.00,416.00 L285.50,416.00 L286.00,416.00 L286.50,416.00 L287.00,416.00 L287.50,416.00 L288.00,416.00 L288.50,416.00 L289.00,416.00 L289.50,416.00 L290.00,416.00 L290.50,416.00 L291.00,416.00 L291.50,416.00 L292.00,416.00 L292.50,416.00 L293.00,415.99 L293.50,415.99 L294.00,415.99 L294.50,415.99 L295.00,415.98 L295.50,415.98 L296.00,415.97 L296.50,415.96 L297.00,415.95 L297.50,415.93 L298.00,415.91 L298.50,415.88 L299.00,415.85 L299.50,415.81 L300.00,415.76 L300.50,415.69 L301.00,415.62 L301.50,415.52 L302.00,415.40 L302.50,415.26 L303.00,415.09 L303.50,414.89 L304.00,414.65 L304.50,414.37 L305.00,414.04 L305.50,413.66 L306.00,413.22 L306.50,412.71 L307.00,412.13 L307.50,411.48 L308.00,410.74 L308.50,409.92 L309.00,409.01 L309.50,408.01 L310.00,406.92 L310.50,405.73 L311.00,404.44 L311.50,403.07 L312.00,401.62 L312.50,400.09 L313.00,398.50 L313.50,396.85 L314.00,395.15 L314.50,393.43 L315.00,391.70 L315.50,389.97 L316.00,388.27 L316.50,386.61 L317.00,385.01 L317.50,383.49 L318.00,382.07 L318.50,380.76 L319.00,379.58 L319.50,378.53 L320.00,377.62 L320.50,376.86 L321.00,376.24 L321.50,375.77 L322.00,375.43 L322.50,375.22 L323.00,375.12 L323.50,375.12 L324.00,375.19 L324.50,375.32 L325.00,375.48 L325.50,375.65 L326.00,375.80 L326.50,375.91 L327.00,375.97 L327.50,375.95 L328.00,375.84 L328.50,375.63 L329.00,375.31 L329.50,374.88 L330.00,374.33 L330.50,373.69 L331.00,372.95 L331.50,372.13 L332.00,371.26 L332.50,370.35 L333.00,369.43 L333.50,368.53 L334.00,367.68 L334.50,366.90 L335.00,366.22 L335.50,365.67 L336.00,365.27 L336.50,365.04 L337.00,365.01 L337.50,365.19 L338.00,365.58 L338.50,366.19 L339.00,367.02 L339.50,368.06 L340.00,369.32 L340.50,370.77 L341.00,372.39 L341.50,374.18 L342.00,376.10 L342.50,378.13 L343.00,380.26 L343.50,382.44 L344.00,384.66 L344.50,386.89 L345.00,389.11 L345.50,391.29 L346.00,393.42 L346.50,395.48 L347.00,397.46 L347.50,399.34 L348.00,401.11 L348.50,402.76 L349.00,404.30 L349.50,405.71 L350.00,407.00 L350.50,408.18 L351.00,409.24 L351.50,410.18 L352.00,411.03 L352.50,411.77 L353.00,412.42 L353.50,412.99 L354.00,413.48 L354.50,413.91 L355.00,414.27 L355.50,414.58 L356.00,414.84 L356.50,415.05 L357.00,415.23 L357.50,415.38 L358.00,415.51 L358.50,415.61 L359.00,415.69 L359.50,415.76 L360.00,415.81 L360.50,415.85 L361.00,415.88 L361.50,415.91 L362.00,415.93 L362.50,415.95 L363.00,415.96 L363.50,415.97 L364.00,415.98 L364.50,415.98 L365.00,415.99 L365.50,415.99 L366.00,415.99 L366.50,416.00 L367.00,416.00 L367.50,416.00 L368.00,416.00 L368.50,416.00 L369.00,416.00 L369.50,416.00 L370.00,416.00 L370.50,416.00 L371.00,416.00 L371.50,416.00 L372.00,416.00 L372.50,416.00 L373.00,416.00 L373.50,416.00 L374.00,416.00 L374.50,416.00 L375.00,416.00 L375.50,416.00 L376.00,416.00 L376.50,416.00 L377.00,416.00 L377.50,416.00 L378.00,416.00 L378.50,416.00 L379.00,416.00 L379.50,416.00 L380.00,416.00 L380.50,416.00 L381.00,416.00 L381.50,416.00 L382.00,416.00 L382.50,416.00 L383.00,416.00 L383.50,416.00 L384.00,416.00 L384.50,416.00 L385.00,416.00 L385.50,416.00 L386.00,416.00 L386.50,416.00 L387.00,416.00 L387.50,416.00 L388.00,416.00 L388.50,416.00 L389.00,416.00 L389.50,416.00 L390.00,416.00" fill="none" stroke="#0000ff" stroke-width="1.6" />
<path d="M269.50,415.20 L270.00,415.20 L270.50,415.20 L271.00,415.20 L271.50,415.20 L272.00,415.20 L272.50,415.20 L273.00,415.20 L273.50,415.20 L274.00,415.20 L274.50,415.20 L275.00,415.20 L275.50,415.20 L276.00,415.20 L276.50,415.20 L277.00,415.20 L277.50,415.20 L278.00,415.20 L278.50,415.20 L279.00,415.20 L279.50,415.20 L280.00,415.20 L280.50,415.20 L281.00,415.20 L281.50,415.20 L282.00,415.20 L282.50,415.20 L283.00,415.20 L283.50,415.20 L284.00,415.20 L284.50,415.20 L285.00,415.20 L285.50,415.20 L286.00,415.20 L286.50,415.20 L287.00,415.20 L287.50,415.20 L288.00,415.20 L288.50,415.20 L289.00,415.20 L289.50,415.20 L290.00,415.20 L290.50,415.20 L291.00,415.20 L291.50,415.20 L292.00,415.20 L292.50,415.20 L293.00,415.20 L293.50,415.20 L294.00,415.20 L294.50,415.20 L295.00,415.19 L295.50,415.19 L296.00,415.19 L296.50,415.18 L297.00,415.18 L297.50,415.17 L298.00,415.16 L298.50,415.15 L299.00,415.13 L299.50,415.11 L300.00,415.08 L300.50,415.05 L301.00,415.01 L301.50,414.96 L302.00,414.89 L302.50,414.81 L303.00,414.72 L303.50,414.60 L304.00,414.46 L304.50,414.29 L305.00,414.09 L305.50,413.86 L306.00,413.58 L306.50,413.26 L307.00,412.89 L307.50,412.46 L308.00,411.98 L308.50,411.43 L309.00,410.81 L309.50,410.13 L310.00,409.37 L310.50,408.54 L311.00,407.64 L311.50,406.67 L312.00,405.64 L312.50,404.53 L313.00,403.38 L313.50,402.18 L314.00,400.94 L314.50,399.67 L315.00,398.39 L315.50,397.12 L316.00,395.86 L316.50,394.64 L317.00,393.47 L317.50,392.36 L318.00,391.33 L318.50,390.40 L319.00,389.58 L319.50,388.88 L320.00,388.30 L320.50,387.85 L321.00,387.53 L321.50,387.35 L322.00,387.29 L322.50,387.36 L323.00,387.53 L323.50,387.79 L324.00,388.14 L324.50,388.54 L325.00,388.99 L325.50,389.45 L326.00,389.90 L326.50,390.34 L327.00,390.72 L327.50,391.04 L328.00,391.28 L328.50,391.42 L329.00,391.45 L329.50,391.36 L330.00,391.16 L330.50,390.83 L331.00,390.39 L331.50,389.83 L332.00,389.18 L332.50,388.45 L333.00,387.66 L333.50,386.82 L334.00,385.96 L334.50,385.11 L335.00,384.28 L335.50,383.51 L336.00,382.81 L336.50,382.22 L337.00,381.75 L337.50,381.41 L338.00,381.23 L338.50,381.21 L339.00,381.37 L339.50,381.70 L340.00,382.20 L340.50,382.88 L341.00,383.72 L341.50,384.71 L342.00,385.84 L342.50,387.09 L343.00,388.44 L343.50,389.88 L344.00,391.38 L344.50,392.93 L345.00,394.50 L345.50,396.07 L346.00,397.63 L346.50,399.16 L347.00,400.64 L347.50,402.06 L348.00,403.42 L348.50,404.70 L349.00,405.90 L349.50,407.01 L350.00,408.03 L350.50,408.96 L351.00,409.80 L351.50,410.56 L352.00,411.23 L352.50,411.83 L353.00,412.35 L353.50,412.81 L354.00,413.21 L354.50,413.55 L355.00,413.84 L355.50,414.08 L356.00,414.29 L356.50,414.46 L357.00,414.61 L357.50,414.73 L358.00,414.82 L358.50,414.90 L359.00,414.97 L359.50,415.02 L360.00,415.06 L360.50,415.09 L361.00,415.12 L361.50,415.14 L362.00,415.15 L362.50,415.16 L363.00,415.17 L363.50,415.18 L364.00,415.19 L364.50,415.19 L365.00,415.19 L365.50,415.19 L366.00,415.20 L366.50,415.20 L367.00,415.20 L367.50,415.20 L368.00,415.20 L368.50,415.20 L369.00,415.20 L369.50,415.20 L370.00,415.20 L370.50,415.20 L371.00,415.20 L371.50,415.20 L372.00,415.20 L372.50,415.20 L373.00,415.20 L373.50,415.20 L374.00,415.20 L374.50,415.20 L375.00,415.20 L375.50,415.20 L376.00,415.20 L376.50,415.20 L377.00,415.20 L377.50,415.20 L378.00,415.20 L378.50,415.20 L379.00,415.20 L379.50,415.20 L380.00,415.20 L380.50,415.20 L381.00,415.20 L381.50,415.20 L382.00,415.20 L382.50,415.20 L383.00,415.20 L383.50,415.20 L384.00,415.20 L384.50,415.20 L385.00,415.20 L385.50,415.20 L386.00,415.20 L386.50,415.20 L387.00,415.20 L387.50,415.20 L388.00,415.20 L388.50,415.20 L389.00,415.20 L389.50,415.20 L390.00,415.20" fill="none" stroke="#008000" stroke-width="1.4" />
<path d="M269.50,415.30 L270.00,415.30 L270.50,415.30 L271.00,415.29 L271.50,415.29 L272.00,415.29 L272.50,415.29 L273.00,415.29 L273.50,415.28 L274.00,415.28 L274.50,415.28 L275.00,415.28 L275.50,415.27 L276.00,415.27 L276.50,415.27 L277.00,415.27 L277.50,415.26 L278.00,415.26 L278.50,415.26 L279.00,415.25 L279.50,415.25 L280.00,415.25 L280.50,415.24 L281.00,415.24 L281.50,415.24 L282.00,415.23 L282.50,415.23 L283.00,415.23 L283.50,415.22 L284.00,415.22 L284.50,415.21 L285.00,415.21 L285.50,415.20 L286.00,415.20 L286.50,415.19 L287.00,415.18 L287.50,415.18 L288.00,415.17 L288.50,415.16 L289.00,415.16 L289.50,415.15 L290.00,415.14 L290.50,415.13 L291.00,415.12 L291.50,415.11 L292.00,415.09 L292.50,415.08 L293.00,415.06 L293.50,415.04 L294.00,415.02 L294.50,415.00 L295.00,414.97 L295.50,414.95 L296.00,414.91 L296.50,414.88 L297.00,414.84 L297.50,414.79 L298.00,414.74 L298.50,414.68 L299.00,414.61 L299.50,414.54 L300.00,414.46 L300.50,414.37 L301.00,414.26 L301.50,414.15 L302.00,414.02 L302.50,413.88 L303.00,413.73 L303.50,413.55 L304.00,413.37 L304.50,413.16 L305.00,412.94 L305.50,412.69 L306.00,412.43 L306.50,412.14 L307.00,411.83 L307.50,411.50 L308.00,411.14 L308.50,410.77 L309.00,410.36 L309.50,409.94 L310.00,409.49 L310.50,409.02 L311.00,408.53 L311.50,408.01 L312.00,407.48 L312.50,406.93 L313.00,406.37 L313.50,405.79 L314.00,405.20 L314.50,404.61 L315.00,404.01 L315.50,403.41 L316.00,402.82 L316.50,402.23 L317.00,401.65 L317.50,401.09 L318.00,400.54 L318.50,400.02 L319.00,399.53 L319.50,399.08 L320.00,398.66 L320.50,398.28 L321.00,397.95 L321.50,397.67 L322.00,397.44 L322.50,397.27 L323.00,397.16 L323.50,397.10 L324.00,397.12 L324.50,397.25 L325.00,397.48 L325.50,397.83 L326.00,398.27 L326.50,398.80 L327.00,399.41 L327.50,400.09 L328.00,400.82 L328.50,401.59 L329.00,402.39 L329.50,403.21 L330.00,404.04 L330.50,404.87 L331.00,405.68 L331.50,406.48 L332.00,407.26 L332.50,408.00 L333.00,408.70 L333.50,409.37 L334.00,409.99 L334.50,410.57 L335.00,411.10 L335.50,411.59 L336.00,412.04 L336.50,412.44 L337.00,412.80 L337.50,413.12 L338.00,413.41 L338.50,413.66 L339.00,413.88 L339.50,414.07 L340.00,414.23 L340.50,414.38 L341.00,414.50 L341.50,414.61 L342.00,414.70 L342.50,414.77 L343.00,414.84 L343.50,414.89 L344.00,414.94 L344.50,414.98 L345.00,415.01 L345.50,415.04 L346.00,415.07 L346.50,415.09 L347.00,415.11 L347.50,415.12 L348.00,415.14 L348.50,415.15 L349.00,415.16 L349.50,415.17 L350.00,415.18 L350.50,415.19 L351.00,415.20 L351.50,415.20 L352.00,415.21 L352.50,415.22 L353.00,415.22 L353.50,415.23 L354.00,415.24 L354.50,415.24 L355.00,415.25 L355.50,415.25 L356.00,415.25 L356.50,415.26 L357.00,415.26 L357.50,415.27 L358.00,415.27 L358.50,415.27 L359.00,415.28 L359.50,415.28 L360.00,415.28 L360.50,415.29 L361.00,415.29 L361.50,415.29 L362.00,415.29 L362.50,415.30 L363.00,415.30 L363.50,415.30 L364.00,415.30 L364.50,415.31 L365.00,415.31 L365.50,415.31 L366.00,415.31 L366.50,415.31 L367.00,415.32 L367.50,415.32 L368.00,415.32 L368.50,415.32 L369.00,415.32 L369.50,415.33 L370.00,415.33 L370.50,415.33 L371.00,415.33 L371.50,415.33 L372.00,415.33 L372.50,415.33 L373.00,415.34 L373.50,415.34 L374.00,415.34 L374.50,415.34 L375.00,415.34 L375.50,415.34 L376.00,415.34 L376.50,415.34 L377.00,415.34 L377.50,415.35 L378.00,415.35 L378.50,415.35 L379.00,415.35 L379.50,415.35 L380.00,415.35 L380.50,415.35 L381.00,415.35 L381.50,415.35 L382.00,415.35 L382.50,415.35 L383.00,415.36 L383.50,415.36 L384.00,415.36 L384.50,415.36 L385.00,415.36 L385.50,415.36 L386.00,415.36 L386.50,415.36 L387.00,415.36 L387.50,415.36 L388.00,415.36 L388.50,415.36 L389.00,415.36 L389.50,415.36 L390.00,415.36" fill="none" stroke="#ff00ff" stroke-width="1.4" />
<path d="M269.50,414.40 L270.00,414.40 L270.50,414.40 L271.00,414.40 L271.50,414.40 L272.00,414.40 L272.50,414.40 L273.00,414.40 L273.50,414.40 L274.00,414.40 L274.50,414.40 L275.00,414.40 L275.50,414.40 L276.00,414.40 L276.50,414.40 L277.00,414.40 L277.50,414.40 L278.00,414.40 L278.50,414.40 L279.00,414.40 L279.50,414.40 L280.00,414.40 L280.50,414.40 L281.00,414.40 L281.50,414.40 L282.00,414.40 L282.50,414.40 L283.00,414.40 L283.50,414.40 L284.00,414.40 L284.50,414.40 L285.00,414.40 L285.50,414.40 L286.00,414.40 L286.50,414.40 L287.00,414.40 L287.50,414.40 L288.00,414.40 L288.50,414.40 L289.00,414.40 L289.50,414.40 L290.00,414.40 L290.50,414.39 L291.00,414.39 L291.50,414.39 L292.00,414.38 L292.50,414.38 L293.00,414.37 L293.50,414.36 L294.00,414.35 L294.50,414.33 L295.00,414.31 L295.50,414.29 L296.00,414.25 L296.50,414.21 L297.00,414.16 L297.50,414.10 L298.00,414.02 L298.50,413.92 L299.00,413.80 L299.50,413.65 L300.00,413.48 L300.50,413.26 L301.00,413.00 L301.50,412.70 L302.00,412.33 L302.50,411.90 L303.00,411.40 L303.50,410.81 L304.00,410.13 L304.50,409.35 L305.00,408.45 L305.50,407.43 L306.00,406.28 L306.50,404.97 L307.00,403.52 L307.50,401.90 L308.00,400.12 L308.50,398.16 L309.00,396.02 L309.50,393.71 L310.00,391.22 L310.50,388.56 L311.00,385.74 L311.50,382.77 L312.00,379.66 L312.50,376.43 L313.00,373.11 L313.50,369.72 L314.00,366.28 L314.50,362.83 L315.00,359.40 L315.50,356.02 L316.00,352.73 L316.50,349.55 L317.00,346.53 L317.50,343.70 L318.00,341.08 L318.50,338.69 L319.00,336.57 L319.50,334.72 L320.00,333.16 L320.50,331.89 L321.00,330.91 L321.50,330.21 L322.00,329.78 L322.50,329.61 L323.00,329.66 L323.50,329.91 L324.00,330.32 L324.50,330.87 L325.00,331.50 L325.50,332.19 L326.00,332.89 L326.50,333.57 L327.00,334.18 L327.50,334.71 L328.00,335.12 L328.50,335.39 L329.00,335.51 L329.50,335.47 L330.00,335.26 L330.50,334.90 L331.00,334.39 L331.50,333.75 L332.00,333.00 L332.50,332.18 L333.00,331.31 L333.50,330.45 L334.00,329.61 L334.50,328.85 L335.00,328.20 L335.50,327.70 L336.00,327.39 L336.50,327.30 L337.00,327.46 L337.50,327.90 L338.00,328.62 L338.50,329.64 L339.00,330.98 L339.50,332.62 L340.00,334.55 L340.50,336.78 L341.00,339.27 L341.50,342.01 L342.00,344.96 L342.50,348.10 L343.00,351.40 L343.50,354.81 L344.00,358.31 L344.50,361.86 L345.00,365.42 L345.50,368.96 L346.00,372.45 L346.50,375.86 L347.00,379.17 L347.50,382.35 L348.00,385.39 L348.50,388.27 L349.00,390.98 L349.50,393.52 L350.00,395.87 L350.50,398.04 L351.00,400.03 L351.50,401.84 L352.00,403.47 L352.50,404.94 L353.00,406.26 L353.50,407.42 L354.00,408.45 L354.50,409.35 L355.00,410.14 L355.50,410.82 L356.00,411.41 L356.50,411.92 L357.00,412.34 L357.50,412.71 L358.00,413.01 L358.50,413.27 L359.00,413.48 L359.50,413.66 L360.00,413.81 L360.50,413.93 L361.00,414.02 L361.50,414.10 L362.00,414.17 L362.50,414.22 L363.00,414.26 L363.50,414.29 L364.00,414.31 L364.50,414.33 L365.00,414.35 L365.50,414.36 L366.00,414.37 L366.50,414.38 L367.00,414.38 L367.50,414.39 L368.00,414.39 L368.50,414.39 L369.00,414.40 L369.50,414.40 L370.00,414.40 L370.50,414.40 L371.00,414.40 L371.50,414.40 L372.00,414.40 L372.50,414.40 L373.00,414.40 L373.50,414.40 L374.00,414.40 L374.50,414.40 L375.00,414.40 L375.50,414.40 L376.00,414.40 L376.50,414.40 L377.00,414.40 L377.50,414.40 L378.00,414.40 L378.50,414.40 L379.00,414.40 L379.50,414.40 L380.00,414.40 L380.50,414.40 L381.00,414.40 L381.50,414.40 L382.00,414.40 L382.50,414.40 L383.00,414.40 L383.50,414.40 L384.00,414.40 L384.50,414.40 L385.00,414.40 L385.50,414.40 L386.00,414.40 L386.50,414.40 L387.00,414.40 L387.50,414.40 L388.00,414.40 L388.50,414.40 L389.00,414.40 L389.50,414.40 L390.00,414.40" fill="none" stroke="#ff0000" stroke-width="1.8" />
<line x1="269.50" y1="515.80" x2="390.22" y2="515.80" stroke="#383838" stroke-width="1.0" />
<line x1="390.22" y1="515.80" x2="390.22" y2="513.40" stroke="#383838" stroke-width="0.9" />
<line x1="380.16" y1="515.80" x2="380.16" y2="514.30" stroke="#383838" stroke-width="0.9" />
<line x1="370.10" y1="515.80" x2="370.10" y2="513.40" stroke="#383838" stroke-width="0.9" />
<line x1="360.04" y1="515.80" x2="360.04" y2="514.30" stroke="#383838" stroke-width="0.9" />
<line x1="349.98" y1="515.80" x2="349.98" y2="513.40" stroke="#383838" stroke-width="0.9" />
<line x1="339.92" y1="515.80" x2="339.92" y2="514.30" stroke="#383838" stroke-width="0.9" />
<line x1="329.86" y1="515.80" x2="329.86" y2="513.40" stroke="#383838" stroke-width="0.9" />
<line x1="319.80" y1="515.80" x2="319.80" y2="514.30" stroke="#383838" stroke-width="0.9" />
<line x1="309.74" y1="515.80" x2="309.74" y2="513.40" stroke="#383838" stroke-width="0.9" />
<line x1="299.68" y1="515.80" x2="299.68" y2="514.30" stroke="#383838" stroke-width="0.9" />
<line x1="289.62" y1="515.80" x2="289.62" y2="513.40" stroke="#383838" stroke-width="0.9" />
<line x1="279.56" y1="515.80" x2="279.56" y2="514.30" stroke="#383838" stroke-width="0.9" />
<line x1="269.50" y1="515.80" x2="269.50" y2="513.40" stroke="#383838" stroke-width="0.9" />
<text x="390.42" y="526.00" font-size="8.8" fill="#000" text-anchor="middle" >12</text>
<text x="370.30" y="526.00" font-size="8.8" fill="#000" text-anchor="middle" >14</text>
<text x="350.18" y="526.00" font-size="8.8" fill="#000" text-anchor="middle" >16</text>
<text x="330.06" y="526.00" font-size="8.8" fill="#000" text-anchor="middle" >18</text>
<text x="309.94" y="526.00" font-size="8.8" fill="#000" text-anchor="middle" >20</text>
<text x="289.82" y="526.00" font-size="8.8" fill="#000" text-anchor="middle" >22</text>
<text x="269.70" y="526.00" font-size="8.8" fill="#000" text-anchor="middle" >24</text>
<g fill="none" stroke="#8a8a8a" stroke-width="0.75"><circle cx="270.30" cy="514.51" r="1.75"/><circle cx="271.40" cy="515.04" r="1.75"/><circle cx="272.53" cy="514.62" r="1.75"/><circle cx="273.63" cy="515.08" r="1.75"/><circle cx="274.70" cy="513.56" r="1.75"/><circle cx="275.80" cy="514.18" r="1.75"/><circle cx="276.75" cy="512.99" r="1.75"/><circle cx="277.71" cy="514.36" r="1.75"/><circle cx="278.81" cy="513.57" r="1.75"/><circle cx="279.83" cy="513.72" r="1.75"/><circle cx="280.87" cy="513.96" r="1.75"/><circle cx="281.99" cy="512.23" r="1.75"/><circle cx="283.12" cy="512.35" r="1.75"/><circle cx="284.02" cy="513.27" r="1.75"/><circle cx="284.96" cy="512.90" r="1.75"/><circle cx="286.01" cy="512.96" r="1.75"/><circle cx="286.91" cy="511.08" r="1.75"/><circle cx="287.79" cy="513.75" r="1.75"/><circle cx="288.65" cy="512.51" r="1.75"/><circle cx="289.72" cy="513.18" r="1.75"/><circle cx="290.57" cy="513.84" r="1.75"/><circle cx="291.66" cy="511.65" r="1.75"/><circle cx="292.63" cy="512.71" r="1.75"/><circle cx="293.64" cy="514.08" r="1.75"/><circle cx="294.61" cy="512.42" r="1.75"/><circle cx="295.66" cy="513.52" r="1.75"/><circle cx="296.76" cy="513.04" r="1.75"/><circle cx="297.70" cy="512.18" r="1.75"/><circle cx="298.68" cy="511.48" r="1.75"/><circle cx="299.59" cy="511.49" r="1.75"/><circle cx="300.47" cy="510.87" r="1.75"/><circle cx="301.61" cy="511.14" r="1.75"/><circle cx="302.73" cy="510.48" r="1.75"/><circle cx="303.87" cy="505.60" r="1.75"/><circle cx="304.91" cy="505.13" r="1.75"/><circle cx="305.96" cy="501.93" r="1.75"/><circle cx="306.99" cy="498.43" r="1.75"/><circle cx="308.13" cy="496.31" r="1.75"/><circle cx="309.12" cy="490.16" r="1.75"/><circle cx="310.08" cy="484.89" r="1.75"/><circle cx="311.19" cy="479.31" r="1.75"/><circle cx="312.24" cy="472.19" r="1.75"/><circle cx="313.23" cy="466.67" r="1.75"/><circle cx="314.19" cy="460.02" r="1.75"/><circle cx="315.21" cy="452.23" r="1.75"/><circle cx="316.23" cy="447.85" r="1.75"/><circle cx="317.20" cy="443.05" r="1.75"/><circle cx="318.32" cy="438.74" r="1.75"/><circle cx="319.33" cy="436.92" r="1.75"/><circle cx="320.26" cy="435.26" r="1.75"/><circle cx="321.14" cy="433.04" r="1.75"/><circle cx="322.14" cy="433.68" r="1.75"/><circle cx="323.15" cy="434.79" r="1.75"/><circle cx="324.04" cy="436.73" r="1.75"/><circle cx="325.04" cy="436.74" r="1.75"/><circle cx="326.01" cy="437.98" r="1.75"/><circle cx="326.88" cy="437.38" r="1.75"/><circle cx="327.90" cy="439.77" r="1.75"/><circle cx="328.96" cy="438.84" r="1.75"/><circle cx="330.11" cy="438.78" r="1.75"/><circle cx="331.18" cy="440.03" r="1.75"/><circle cx="332.14" cy="438.82" r="1.75"/><circle cx="333.05" cy="437.68" r="1.75"/><circle cx="334.13" cy="434.67" r="1.75"/><circle cx="335.02" cy="433.52" r="1.75"/><circle cx="335.94" cy="431.96" r="1.75"/><circle cx="336.90" cy="432.50" r="1.75"/><circle cx="337.82" cy="431.47" r="1.75"/><circle cx="338.76" cy="431.96" r="1.75"/><circle cx="339.87" cy="433.63" r="1.75"/><circle cx="340.91" cy="438.56" r="1.75"/><circle cx="342.03" cy="442.12" r="1.75"/><circle cx="343.15" cy="449.61" r="1.75"/><circle cx="344.10" cy="456.01" r="1.75"/><circle cx="345.18" cy="461.37" r="1.75"/><circle cx="346.06" cy="466.65" r="1.75"/><circle cx="347.03" cy="474.28" r="1.75"/><circle cx="348.09" cy="479.29" r="1.75"/><circle cx="348.96" cy="486.04" r="1.75"/><circle cx="349.97" cy="491.54" r="1.75"/><circle cx="351.06" cy="498.21" r="1.75"/><circle cx="352.11" cy="501.61" r="1.75"/><circle cx="353.04" cy="503.72" r="1.75"/><circle cx="354.14" cy="507.09" r="1.75"/><circle cx="355.17" cy="508.46" r="1.75"/><circle cx="356.05" cy="509.82" r="1.75"/><circle cx="357.14" cy="511.40" r="1.75"/><circle cx="358.08" cy="512.73" r="1.75"/><circle cx="359.13" cy="512.12" r="1.75"/><circle cx="360.25" cy="513.22" r="1.75"/><circle cx="361.26" cy="512.66" r="1.75"/><circle cx="362.39" cy="512.05" r="1.75"/><circle cx="363.25" cy="513.25" r="1.75"/><circle cx="364.25" cy="513.96" r="1.75"/><circle cx="365.36" cy="513.70" r="1.75"/><circle cx="366.26" cy="513.45" r="1.75"/><circle cx="367.36" cy="513.34" r="1.75"/><circle cx="368.35" cy="512.97" r="1.75"/><circle cx="369.25" cy="514.14" r="1.75"/><circle cx="370.36" cy="513.04" r="1.75"/><circle cx="371.39" cy="514.33" r="1.75"/><circle cx="372.31" cy="514.03" r="1.75"/><circle cx="373.43" cy="513.50" r="1.75"/><circle cx="374.33" cy="513.57" r="1.75"/><circle cx="375.29" cy="512.67" r="1.75"/><circle cx="376.25" cy="513.91" r="1.75"/><circle cx="377.21" cy="514.75" r="1.75"/><circle cx="378.16" cy="513.74" r="1.75"/><circle cx="379.01" cy="511.43" r="1.75"/><circle cx="379.88" cy="514.29" r="1.75"/><circle cx="380.77" cy="513.40" r="1.75"/><circle cx="381.70" cy="513.14" r="1.75"/><circle cx="382.70" cy="513.62" r="1.75"/><circle cx="383.71" cy="514.73" r="1.75"/><circle cx="384.85" cy="513.91" r="1.75"/><circle cx="385.87" cy="513.69" r="1.75"/><circle cx="386.95" cy="514.66" r="1.75"/><circle cx="387.99" cy="512.71" r="1.75"/><circle cx="389.03" cy="513.28" r="1.75"/></g>
<path d="M269.50,515.80 L270.00,515.80 L270.50,515.80 L271.00,515.80 L271.50,515.80 L272.00,515.80 L272.50,515.80 L273.00,515.80 L273.50,515.80 L274.00,515.80 L274.50,515.80 L275.00,515.80 L275.50,515.80 L276.00,515.80 L276.50,515.80 L277.00,515.80 L277.50,515.80 L278.00,515.80 L278.50,515.80 L279.00,515.80 L279.50,515.80 L280.00,515.80 L280.50,515.80 L281.00,515.80 L281.50,515.80 L282.00,515.80 L282.50,515.80 L283.00,515.80 L283.50,515.80 L284.00,515.80 L284.50,515.80 L285.00,515.80 L285.50,515.80 L286.00,515.80 L286.50,515.80 L287.00,515.80 L287.50,515.80 L288.00,515.80 L288.50,515.80 L289.00,515.80 L289.50,515.80 L290.00,515.80 L290.50,515.80 L291.00,515.80 L291.50,515.80 L292.00,515.80 L292.50,515.79 L293.00,515.79 L293.50,515.79 L294.00,515.79 L294.50,515.78 L295.00,515.77 L295.50,515.76 L296.00,515.75 L296.50,515.74 L297.00,515.72 L297.50,515.69 L298.00,515.66 L298.50,515.62 L299.00,515.57 L299.50,515.51 L300.00,515.43 L300.50,515.33 L301.00,515.21 L301.50,515.06 L302.00,514.88 L302.50,514.67 L303.00,514.41 L303.50,514.10 L304.00,513.73 L304.50,513.30 L305.00,512.79 L305.50,512.21 L306.00,511.53 L306.50,510.75 L307.00,509.86 L307.50,508.86 L308.00,507.73 L308.50,506.47 L309.00,505.07 L309.50,503.53 L310.00,501.85 L310.50,500.03 L311.00,498.06 L311.50,495.96 L312.00,493.72 L312.50,491.38 L313.00,488.93 L313.50,486.39 L314.00,483.79 L314.50,481.15 L315.00,478.49 L315.50,475.84 L316.00,473.22 L316.50,470.68 L317.00,468.23 L317.50,465.89 L318.00,463.71 L318.50,461.70 L319.00,459.88 L319.50,458.27 L320.00,456.87 L320.50,455.70 L321.00,454.76 L321.50,454.03 L322.00,453.52 L322.50,453.19 L323.00,453.04 L323.50,453.04 L324.00,453.15 L324.50,453.35 L325.00,453.59 L325.50,453.85 L326.00,454.08 L326.50,454.26 L327.00,454.34 L327.50,454.31 L328.00,454.15 L328.50,453.82 L329.00,453.33 L329.50,452.66 L330.00,451.83 L330.50,450.84 L331.00,449.71 L331.50,448.45 L332.00,447.11 L332.50,445.72 L333.00,444.31 L333.50,442.92 L334.00,441.61 L334.50,440.41 L335.00,439.37 L335.50,438.52 L336.00,437.91 L336.50,437.57 L337.00,437.52 L337.50,437.79 L338.00,438.38 L338.50,439.32 L339.00,440.60 L339.50,442.20 L340.00,444.13 L340.50,446.35 L341.00,448.85 L341.50,451.59 L342.00,454.54 L342.50,457.67 L343.00,460.92 L343.50,464.27 L344.00,467.68 L344.50,471.11 L345.00,474.51 L345.50,477.87 L346.00,481.14 L346.50,484.30 L347.00,487.33 L347.50,490.22 L348.00,492.93 L348.50,495.47 L349.00,497.83 L349.50,500.00 L350.00,501.99 L350.50,503.79 L351.00,505.42 L351.50,506.87 L352.00,508.17 L352.50,509.31 L353.00,510.31 L353.50,511.18 L354.00,511.94 L354.50,512.59 L355.00,513.14 L355.50,513.61 L356.00,514.01 L356.50,514.35 L357.00,514.62 L357.50,514.85 L358.00,515.04 L358.50,515.20 L359.00,515.32 L359.50,515.43 L360.00,515.51 L360.50,515.57 L361.00,515.62 L361.50,515.66 L362.00,515.70 L362.50,515.72 L363.00,515.74 L363.50,515.75 L364.00,515.77 L364.50,515.77 L365.00,515.78 L365.50,515.79 L366.00,515.79 L366.50,515.79 L367.00,515.79 L367.50,515.80 L368.00,515.80 L368.50,515.80 L369.00,515.80 L369.50,515.80 L370.00,515.80 L370.50,515.80 L371.00,515.80 L371.50,515.80 L372.00,515.80 L372.50,515.80 L373.00,515.80 L373.50,515.80 L374.00,515.80 L374.50,515.80 L375.00,515.80 L375.50,515.80 L376.00,515.80 L376.50,515.80 L377.00,515.80 L377.50,515.80 L378.00,515.80 L378.50,515.80 L379.00,515.80 L379.50,515.80 L380.00,515.80 L380.50,515.80 L381.00,515.80 L381.50,515.80 L382.00,515.80 L382.50,515.80 L383.00,515.80 L383.50,515.80 L384.00,515.80 L384.50,515.80 L385.00,515.80 L385.50,515.80 L386.00,515.80 L386.50,515.80 L387.00,515.80 L387.50,515.80 L388.00,515.80 L388.50,515.80 L389.00,515.80 L389.50,515.80 L390.00,515.80" fill="none" stroke="#0000ff" stroke-width="1.6" />
<path d="M269.50,515.09 L270.00,515.09 L270.50,515.08 L271.00,515.08 L271.50,515.08 L272.00,515.08 L272.50,515.07 L273.00,515.07 L273.50,515.07 L274.00,515.07 L274.50,515.06 L275.00,515.06 L275.50,515.06 L276.00,515.06 L276.50,515.05 L277.00,515.05 L277.50,515.05 L278.00,515.04 L278.50,515.04 L279.00,515.04 L279.50,515.03 L280.00,515.03 L280.50,515.03 L281.00,515.02 L281.50,515.02 L282.00,515.01 L282.50,515.01 L283.00,515.01 L283.50,515.00 L284.00,515.00 L284.50,514.99 L285.00,514.98 L285.50,514.98 L286.00,514.97 L286.50,514.97 L287.00,514.96 L287.50,514.95 L288.00,514.95 L288.50,514.94 L289.00,514.93 L289.50,514.92 L290.00,514.91 L290.50,514.90 L291.00,514.89 L291.50,514.87 L292.00,514.86 L292.50,514.84 L293.00,514.82 L293.50,514.80 L294.00,514.78 L294.50,514.75 L295.00,514.73 L295.50,514.69 L296.00,514.66 L296.50,514.62 L297.00,514.57 L297.50,514.52 L298.00,514.46 L298.50,514.40 L299.00,514.32 L299.50,514.24 L300.00,514.15 L300.50,514.05 L301.00,513.93 L301.50,513.80 L302.00,513.66 L302.50,513.51 L303.00,513.33 L303.50,513.14 L304.00,512.93 L304.50,512.70 L305.00,512.45 L305.50,512.18 L306.00,511.89 L306.50,511.57 L307.00,511.22 L307.50,510.85 L308.00,510.46 L308.50,510.03 L309.00,509.59 L309.50,509.11 L310.00,508.61 L310.50,508.09 L311.00,507.54 L311.50,506.97 L312.00,506.37 L312.50,505.76 L313.00,505.13 L313.50,504.49 L314.00,503.83 L314.50,503.17 L315.00,502.50 L315.50,501.84 L316.00,501.17 L316.50,500.52 L317.00,499.87 L317.50,499.24 L318.00,498.64 L318.50,498.06 L319.00,497.51 L319.50,497.00 L320.00,496.54 L320.50,496.12 L321.00,495.75 L321.50,495.44 L322.00,495.18 L322.50,494.99 L323.00,494.87 L323.50,494.81 L324.00,494.82 L324.50,494.96 L325.00,495.23 L325.50,495.61 L326.00,496.11 L326.50,496.70 L327.00,497.38 L327.50,498.13 L328.00,498.94 L328.50,499.80 L329.00,500.70 L329.50,501.61 L330.00,502.54 L330.50,503.46 L331.00,504.37 L331.50,505.26 L332.00,506.12 L332.50,506.95 L333.00,507.73 L333.50,508.48 L334.00,509.17 L334.50,509.82 L335.00,510.41 L335.50,510.96 L336.00,511.45 L336.50,511.90 L337.00,512.30 L337.50,512.66 L338.00,512.98 L338.50,513.26 L339.00,513.50 L339.50,513.71 L340.00,513.90 L340.50,514.06 L341.00,514.20 L341.50,514.31 L342.00,514.41 L342.50,514.50 L343.00,514.57 L343.50,514.63 L344.00,514.69 L344.50,514.73 L345.00,514.77 L345.50,514.80 L346.00,514.83 L346.50,514.85 L347.00,514.87 L347.50,514.89 L348.00,514.91 L348.50,514.92 L349.00,514.93 L349.50,514.95 L350.00,514.96 L350.50,514.97 L351.00,514.97 L351.50,514.98 L352.00,514.99 L352.50,515.00 L353.00,515.00 L353.50,515.01 L354.00,515.02 L354.50,515.02 L355.00,515.03 L355.50,515.03 L356.00,515.04 L356.50,515.04 L357.00,515.05 L357.50,515.05 L358.00,515.05 L358.50,515.06 L359.00,515.06 L359.50,515.07 L360.00,515.07 L360.50,515.07 L361.00,515.08 L361.50,515.08 L362.00,515.08 L362.50,515.09 L363.00,515.09 L363.50,515.09 L364.00,515.09 L364.50,515.10 L365.00,515.10 L365.50,515.10 L366.00,515.10 L366.50,515.11 L367.00,515.11 L367.50,515.11 L368.00,515.11 L368.50,515.11 L369.00,515.12 L369.50,515.12 L370.00,515.12 L370.50,515.12 L371.00,515.12 L371.50,515.12 L372.00,515.13 L372.50,515.13 L373.00,515.13 L373.50,515.13 L374.00,515.13 L374.50,515.13 L375.00,515.13 L375.50,515.13 L376.00,515.14 L376.50,515.14 L377.00,515.14 L377.50,515.14 L378.00,515.14 L378.50,515.14 L379.00,515.14 L379.50,515.14 L380.00,515.14 L380.50,515.15 L381.00,515.15 L381.50,515.15 L382.00,515.15 L382.50,515.15 L383.00,515.15 L383.50,515.15 L384.00,515.15 L384.50,515.15 L385.00,515.15 L385.50,515.15 L386.00,515.15 L386.50,515.16 L387.00,515.16 L387.50,515.16 L388.00,515.16 L388.50,515.16 L389.00,515.16 L389.50,515.16 L390.00,515.16" fill="none" stroke="#ff00ff" stroke-width="1.4" />
<path d="M269.50,514.20 L270.00,514.20 L270.50,514.20 L271.00,514.20 L271.50,514.20 L272.00,514.20 L272.50,514.20 L273.00,514.20 L273.50,514.20 L274.00,514.20 L274.50,514.20 L275.00,514.20 L275.50,514.20 L276.00,514.20 L276.50,514.20 L277.00,514.20 L277.50,514.20 L278.00,514.20 L278.50,514.20 L279.00,514.20 L279.50,514.20 L280.00,514.20 L280.50,514.20 L281.00,514.20 L281.50,514.20 L282.00,514.20 L282.50,514.20 L283.00,514.20 L283.50,514.20 L284.00,514.20 L284.50,514.20 L285.00,514.20 L285.50,514.20 L286.00,514.20 L286.50,514.20 L287.00,514.20 L287.50,514.20 L288.00,514.20 L288.50,514.20 L289.00,514.20 L289.50,514.20 L290.00,514.20 L290.50,514.19 L291.00,514.19 L291.50,514.19 L292.00,514.18 L292.50,514.18 L293.00,514.17 L293.50,514.16 L294.00,514.15 L294.50,514.14 L295.00,514.12 L295.50,514.09 L296.00,514.06 L296.50,514.02 L297.00,513.97 L297.50,513.91 L298.00,513.84 L298.50,513.74 L299.00,513.63 L299.50,513.49 L300.00,513.32 L300.50,513.12 L301.00,512.87 L301.50,512.58 L302.00,512.24 L302.50,511.83 L303.00,511.35 L303.50,510.79 L304.00,510.15 L304.50,509.40 L305.00,508.55 L305.50,507.58 L306.00,506.48 L306.50,505.24 L307.00,503.86 L307.50,502.32 L308.00,500.63 L308.50,498.77 L309.00,496.74 L309.50,494.54 L310.00,492.17 L310.50,489.64 L311.00,486.96 L311.50,484.14 L312.00,481.18 L312.50,478.12 L313.00,474.96 L313.50,471.74 L314.00,468.47 L314.50,465.19 L315.00,461.93 L315.50,458.72 L316.00,455.59 L316.50,452.57 L317.00,449.70 L317.50,447.01 L318.00,444.52 L318.50,442.25 L319.00,440.23 L319.50,438.47 L320.00,436.99 L320.50,435.78 L321.00,434.85 L321.50,434.18 L322.00,433.78 L322.50,433.61 L323.00,433.65 L323.50,433.89 L324.00,434.28 L324.50,434.80 L325.00,435.40 L325.50,436.05 L326.00,436.71 L326.50,437.35 L327.00,437.93 L327.50,438.43 L328.00,438.81 L328.50,439.07 L329.00,439.17 L329.50,439.13 L330.00,438.93 L330.50,438.57 L331.00,438.08 L331.50,437.47 L332.00,436.75 L332.50,435.97 L333.00,435.14 L333.50,434.31 L334.00,433.51 L334.50,432.78 L335.00,432.16 L335.50,431.68 L336.00,431.39 L336.50,431.30 L337.00,431.45 L337.50,431.86 L338.00,432.55 L338.50,433.53 L339.00,434.79 L339.50,436.35 L340.00,438.20 L340.50,440.31 L341.00,442.69 L341.50,445.29 L342.00,448.10 L342.50,451.09 L343.00,454.23 L343.50,457.48 L344.00,460.81 L344.50,464.18 L345.00,467.57 L345.50,470.94 L346.00,474.26 L346.50,477.51 L347.00,480.66 L347.50,483.69 L348.00,486.59 L348.50,489.33 L349.00,491.91 L349.50,494.32 L350.00,496.56 L350.50,498.63 L351.00,500.52 L351.50,502.24 L352.00,503.80 L352.50,505.20 L353.00,506.45 L353.50,507.56 L354.00,508.54 L354.50,509.40 L355.00,510.15 L355.50,510.80 L356.00,511.36 L356.50,511.83 L357.00,512.24 L357.50,512.59 L358.00,512.88 L358.50,513.12 L359.00,513.33 L359.50,513.50 L360.00,513.64 L360.50,513.75 L361.00,513.84 L361.50,513.92 L362.00,513.98 L362.50,514.03 L363.00,514.06 L363.50,514.09 L364.00,514.12 L364.50,514.14 L365.00,514.15 L365.50,514.16 L366.00,514.17 L366.50,514.18 L367.00,514.18 L367.50,514.19 L368.00,514.19 L368.50,514.19 L369.00,514.20 L369.50,514.20 L370.00,514.20 L370.50,514.20 L371.00,514.20 L371.50,514.20 L372.00,514.20 L372.50,514.20 L373.00,514.20 L373.50,514.20 L374.00,514.20 L374.50,514.20 L375.00,514.20 L375.50,514.20 L376.00,514.20 L376.50,514.20 L377.00,514.20 L377.50,514.20 L378.00,514.20 L378.50,514.20 L379.00,514.20 L379.50,514.20 L380.00,514.20 L380.50,514.20 L381.00,514.20 L381.50,514.20 L382.00,514.20 L382.50,514.20 L383.00,514.20 L383.50,514.20 L384.00,514.20 L384.50,514.20 L385.00,514.20 L385.50,514.20 L386.00,514.20 L386.50,514.20 L387.00,514.20 L387.50,514.20 L388.00,514.20 L388.50,514.20 L389.00,514.20 L389.50,514.20 L390.00,514.20" fill="none" stroke="#ff0000" stroke-width="1.8" />
<line x1="324.50" y1="78.00" x2="324.50" y2="496.00" stroke="#ff00ff" stroke-width="1.0" />
<line x1="336.80" y1="40.00" x2="336.80" y2="438.00" stroke="#0000ff" stroke-width="1.0" />
<line x1="339.30" y1="76.00" x2="339.30" y2="383.00" stroke="#008000" stroke-width="1.0" />
<text x="259.00" y="21.40" font-size="13.2" fill="#000" text-anchor="start" >(d)</text>
<text x="354.80" y="19.50" font-size="13.4" fill="#000" text-anchor="start" >Raw data</text>
<line x1="372.30" y1="23.00" x2="348.00" y2="30.50" stroke="#000" stroke-width="0.8" />
<path d="M343.80,31.80 L348.61,28.74 L349.50,31.61 Z" fill="#000"/>
<text x="382.60" y="49.80" font-size="13.6" fill="#000" text-anchor="start" >Ni</text>
<text x="251.50" y="54.90" font-size="12.9" fill="#0000ff" text-anchor="start" >Hf 4f<tspan font-size="8.3" dx="0.8" dy="5.4">7/2</tspan></text>
<text x="251.00" y="77.20" font-size="13.2" fill="#0000ff" text-anchor="start" >(HfO<tspan font-size="8.6" dx="0.2" dy="4.6">2</tspan><tspan dx="0.6" dy="-4.6">)</tspan></text>
<line x1="296.00" y1="64.30" x2="332.20" y2="64.30" stroke="#303030" stroke-width="0.9" />
<path d="M336.20,64.30 L331.20,65.90 L331.20,62.70 Z" fill="#303030"/>
<text x="258.60" y="126.40" font-size="13.6" fill="#ff00ff" text-anchor="start" >In 4d</text>
<line x1="296.80" y1="121.20" x2="319.70" y2="121.20" stroke="#303030" stroke-width="0.9" />
<path d="M323.70,121.20 L318.70,122.80 L318.70,119.60 Z" fill="#303030"/>
<text x="358.50" y="127.10" font-size="12.9" fill="#008000" text-anchor="start" >Hf 4f<tspan font-size="8.3" dx="0.8" dy="5.4">7/2</tspan></text>
<text x="358.50" y="148.70" font-size="13.2" fill="#008000" text-anchor="start" >(HfMO)</text>
<line x1="356.40" y1="117.00" x2="344.20" y2="117.00" stroke="#008000" stroke-width="0.9" />
<path d="M340.20,117.00 L345.20,115.40 L345.20,118.60 Z" fill="#008000"/>
<text x="378.70" y="197.50" font-size="13.5" fill="#000" text-anchor="start" >Pd</text>
<text x="376.40" y="239.20" font-size="13.3" fill="#000" text-anchor="start" >Mo</text>
<text x="383.90" y="339.20" font-size="13.6" fill="#000" text-anchor="start" >Ti</text>
<text x="360.80" y="463.10" font-size="13.7" fill="#000" text-anchor="start" >clean</text>
<text x="329.60" y="541.80" font-size="10.9" fill="#000" text-anchor="middle" >B. E. (eV)</text>
</svg></body></html>
